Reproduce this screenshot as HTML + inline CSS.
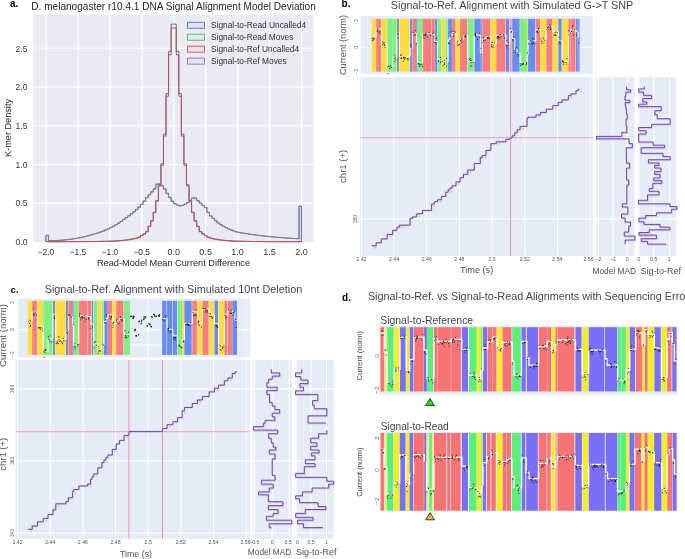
<!DOCTYPE html>
<html><head><meta charset="utf-8"><style>
html,body{margin:0;padding:0;background:#fff;}
body{width:685px;height:559px;overflow:hidden;}
svg{display:block;filter:blur(0.3px);font-family:"Liberation Sans", sans-serif;}
</style></head><body>
<svg width="685" height="559" viewBox="0 0 685 559">
<rect x="33.3" y="14.6" width="280.3" height="227.2" fill="#EAEAF2"/>
<line x1="45.9" y1="14.6" x2="45.9" y2="241.8" stroke="#FFFFFF" stroke-width="1.1"/>
<line x1="77.85" y1="14.6" x2="77.85" y2="241.8" stroke="#FFFFFF" stroke-width="1.1"/>
<line x1="109.8" y1="14.6" x2="109.8" y2="241.8" stroke="#FFFFFF" stroke-width="1.1"/>
<line x1="141.75" y1="14.6" x2="141.75" y2="241.8" stroke="#FFFFFF" stroke-width="1.1"/>
<line x1="173.7" y1="14.6" x2="173.7" y2="241.8" stroke="#FFFFFF" stroke-width="1.1"/>
<line x1="205.65" y1="14.6" x2="205.65" y2="241.8" stroke="#FFFFFF" stroke-width="1.1"/>
<line x1="237.6" y1="14.6" x2="237.6" y2="241.8" stroke="#FFFFFF" stroke-width="1.1"/>
<line x1="269.55" y1="14.6" x2="269.55" y2="241.8" stroke="#FFFFFF" stroke-width="1.1"/>
<line x1="301.5" y1="14.6" x2="301.5" y2="241.8" stroke="#FFFFFF" stroke-width="1.1"/>
<line x1="33.3" y1="203.1" x2="313.6" y2="203.1" stroke="#FFFFFF" stroke-width="1.1"/>
<line x1="33.3" y1="164.4" x2="313.6" y2="164.4" stroke="#FFFFFF" stroke-width="1.1"/>
<line x1="33.3" y1="125.7" x2="313.6" y2="125.7" stroke="#FFFFFF" stroke-width="1.1"/>
<line x1="33.3" y1="87" x2="313.6" y2="87" stroke="#FFFFFF" stroke-width="1.1"/>
<line x1="33.3" y1="48.3" x2="313.6" y2="48.3" stroke="#FFFFFF" stroke-width="1.1"/>
<rect x="298.94" y="206.2" width="2.56" height="35.6" fill="#D4D2EE"/>
<polyline fill="none" points="45.9,241.8 45.9,235.22 48.46,235.22 48.46,240.74 51.01,240.74 51.01,240.64 53.57,240.64 53.57,240.54 56.12,240.54 56.12,240.43 58.68,240.43 58.68,240.31 61.24,240.31 61.24,240.11 63.79,240.11 63.79,239.88 66.35,239.88 66.35,239.61 68.9,239.61 68.9,239.31 71.46,239.31 71.46,238.96 74.02,238.96 74.02,238.57 76.57,238.57 76.57,238.13 79.13,238.13 79.13,237.64 81.68,237.64 81.68,237.09 84.24,237.09 84.24,236.48 86.8,236.48 86.8,235.77 89.35,235.77 89.35,235.06 91.91,235.06 91.91,234.34 94.46,234.34 94.46,233.56 97.02,233.56 97.02,232.75 99.58,232.75 99.58,231.87 102.13,231.87 102.13,230.9 104.69,230.9 104.69,229.84 107.24,229.84 107.24,228.67 109.8,228.67 109.8,227.42 112.36,227.42 112.36,226.08 114.91,226.08 114.91,224.62 117.47,224.62 117.47,223.02 120.02,223.02 120.02,221.28 122.58,221.28 122.58,219.37 125.14,219.37 125.14,217.49 127.69,217.49 127.69,215.68 130.25,215.68 130.25,213.73 132.8,213.73 132.8,211.64 135.36,211.64 135.36,209.4 137.92,209.4 137.92,206.99 140.47,206.99 140.47,204.28 143.03,204.28 143.03,200.98 145.58,200.98 145.58,197.4 148.14,197.4 148.14,194.45 150.7,194.45 150.7,191.63 153.25,191.63 153.25,188.63 155.81,188.63 155.81,183.81 158.36,183.81 158.36,183.72 160.92,183.72 160.92,185.45 163.48,185.45 163.48,188.68 166.03,188.68 166.03,193.14 168.59,193.14 168.59,197.22 171.14,197.22 171.14,200.96 173.7,200.96 173.7,203.51 176.26,203.51 176.26,204.86 178.81,204.86 178.81,205.61 181.37,205.61 181.37,205.17 183.92,205.17 183.92,204.13 186.48,204.13 186.48,202.48 189.04,202.48 189.04,200.37 191.59,200.37 191.59,197.8 194.15,197.8 194.15,197.83 196.7,197.83 196.7,200.45 199.26,200.45 199.26,202.91 201.82,202.91 201.82,205.23 204.37,205.23 204.37,207.4 206.93,207.4 206.93,212.27 209.48,212.27 209.48,215.81 212.04,215.81 212.04,218.35 214.6,218.35 214.6,220.68 217.15,220.68 217.15,222.83 219.71,222.83 219.71,224.66 222.26,224.66 222.26,226.22 224.82,226.22 224.82,227.62 227.38,227.62 227.38,228.87 229.93,228.87 229.93,229.94 232.49,229.94 232.49,230.86 235.04,230.86 235.04,231.71 237.6,231.71 237.6,232.34 240.16,232.34 240.16,232.8 242.71,232.8 242.71,233.23 245.27,233.23 245.27,233.64 247.82,233.64 247.82,234.03 250.38,234.03 250.38,234.41 252.94,234.41 252.94,234.76 255.49,234.76 255.49,235.1 258.05,235.1 258.05,235.42 260.6,235.42 260.6,235.73 263.16,235.73 263.16,236.02 265.72,236.02 265.72,236.3 268.27,236.3 268.27,236.56 270.83,236.56 270.83,236.8 273.38,236.8 273.38,237.03 275.94,237.03 275.94,237.25 278.5,237.25 278.5,237.46 281.05,237.46 281.05,237.66 283.61,237.66 283.61,237.85 286.16,237.85 286.16,238.03 288.72,238.03 288.72,238.2 291.28,238.2 291.28,238.37 293.83,238.37 293.83,238.52 296.39,238.52 296.39,238.67 298.94,238.67 298.94,206.2 301.5,206.2 301.5,241.8" stroke="#55A868" stroke-width="1"/>
<polyline fill="none" points="45.9,241.8 45.9,235.61 48.46,235.61 48.46,240.75 51.01,240.75 51.01,240.66 53.57,240.66 53.57,240.56 56.12,240.56 56.12,240.45 58.68,240.45 58.68,240.33 61.24,240.33 61.24,240.13 63.79,240.13 63.79,239.9 66.35,239.9 66.35,239.63 68.9,239.63 68.9,239.33 71.46,239.33 71.46,238.99 74.02,238.99 74.02,238.6 76.57,238.6 76.57,238.16 79.13,238.16 79.13,237.68 81.68,237.68 81.68,237.14 84.24,237.14 84.24,236.53 86.8,236.53 86.8,235.83 89.35,235.83 89.35,235.12 91.91,235.12 91.91,234.41 94.46,234.41 94.46,233.64 97.02,233.64 97.02,232.84 99.58,232.84 99.58,231.97 102.13,231.97 102.13,231.01 104.69,231.01 104.69,229.95 107.24,229.95 107.24,228.8 109.8,228.8 109.8,227.56 112.36,227.56 112.36,226.23 114.91,226.23 114.91,224.79 117.47,224.79 117.47,223.21 120.02,223.21 120.02,221.48 122.58,221.48 122.58,219.59 125.14,219.59 125.14,217.73 127.69,217.73 127.69,215.94 130.25,215.94 130.25,214.01 132.8,214.01 132.8,211.94 135.36,211.94 135.36,209.72 137.92,209.72 137.92,207.33 140.47,207.33 140.47,204.65 143.03,204.65 143.03,201.39 145.58,201.39 145.58,197.84 148.14,197.84 148.14,194.92 150.7,194.92 150.7,192.12 153.25,192.12 153.25,189.16 155.81,189.16 155.81,184.38 158.36,184.38 158.36,184.3 160.92,184.3 160.92,186.01 163.48,186.01 163.48,189.2 166.03,189.2 166.03,193.62 168.59,193.62 168.59,197.66 171.14,197.66 171.14,201.37 173.7,201.37 173.7,203.89 176.26,203.89 176.26,205.22 178.81,205.22 178.81,205.96 181.37,205.96 181.37,205.53 183.92,205.53 183.92,204.5 186.48,204.5 186.48,202.87 189.04,202.87 189.04,200.78 191.59,200.78 191.59,198.24 194.15,198.24 194.15,198.27 196.7,198.27 196.7,200.86 199.26,200.86 199.26,203.3 201.82,203.3 201.82,205.59 204.37,205.59 204.37,207.74 206.93,207.74 206.93,212.56 209.48,212.56 209.48,216.07 212.04,216.07 212.04,218.58 214.6,218.58 214.6,220.89 217.15,220.89 217.15,223.02 219.71,223.02 219.71,224.83 222.26,224.83 222.26,226.37 224.82,226.37 224.82,227.76 227.38,227.76 227.38,228.99 229.93,228.99 229.93,230.05 232.49,230.05 232.49,230.97 235.04,230.97 235.04,231.81 237.6,231.81 237.6,232.44 240.16,232.44 240.16,232.89 242.71,232.89 242.71,233.31 245.27,233.31 245.27,233.72 247.82,233.72 247.82,234.11 250.38,234.11 250.38,234.48 252.94,234.48 252.94,234.83 255.49,234.83 255.49,235.17 258.05,235.17 258.05,235.49 260.6,235.49 260.6,235.79 263.16,235.79 263.16,236.08 265.72,236.08 265.72,236.35 268.27,236.35 268.27,236.61 270.83,236.61 270.83,236.85 273.38,236.85 273.38,237.08 275.94,237.08 275.94,237.29 278.5,237.29 278.5,237.5 281.05,237.5 281.05,237.7 283.61,237.7 283.61,237.89 286.16,237.89 286.16,238.07 288.72,238.07 288.72,238.24 291.28,238.24 291.28,238.4 293.83,238.4 293.83,238.56 296.39,238.56 296.39,238.7 298.94,238.7 298.94,206.2 301.5,206.2 301.5,241.8" stroke="#8172B2" stroke-width="1"/>
<polyline fill="none" points="45.9,241.8 45.9,241.57 48.46,241.57 48.46,241.72 51.01,241.72 51.01,241.71 53.57,241.71 53.57,241.71 56.12,241.71 56.12,241.7 58.68,241.7 58.68,241.69 61.24,241.69 61.24,241.69 63.79,241.69 63.79,241.68 66.35,241.68 66.35,241.68 68.9,241.68 68.9,241.67 71.46,241.67 71.46,241.66 74.02,241.66 74.02,241.65 76.57,241.65 76.57,241.64 79.13,241.64 79.13,241.63 81.68,241.63 81.68,241.61 84.24,241.61 84.24,241.59 86.8,241.59 86.8,241.57 89.35,241.57 89.35,241.54 91.91,241.54 91.91,241.52 94.46,241.52 94.46,241.49 97.02,241.49 97.02,241.45 99.58,241.45 99.58,241.42 102.13,241.42 102.13,241.37 104.69,241.37 104.69,241.33 107.24,241.33 107.24,241.28 109.8,241.28 109.8,241.2 112.36,241.2 112.36,241.08 114.91,241.08 114.91,240.94 117.47,240.94 117.47,240.77 120.02,240.77 120.02,240.57 122.58,240.57 122.58,240.32 125.14,240.32 125.14,240.02 127.69,240.02 127.69,239.66 130.25,239.66 130.25,239.23 132.8,239.23 132.8,238.7 135.36,238.7 135.36,238.07 137.92,238.07 137.92,237.18 140.47,237.18 140.47,235.56 143.03,235.56 143.03,233.84 145.58,233.84 145.58,231.66 148.14,231.66 148.14,226.2 150.7,226.2 150.7,220.73 153.25,220.73 153.25,212.15 155.81,212.15 155.81,200.45 158.36,200.45 158.36,184.85 160.92,184.85 160.92,163.78 163.48,163.78 163.48,134.13 166.03,134.13 166.03,93.56 168.59,93.56 168.59,51.43 171.14,51.43 171.14,24.13 173.7,24.13 173.7,24.13 176.26,24.13 176.26,51.43 178.81,51.43 178.81,93.56 181.37,93.56 181.37,134.13 183.92,134.13 183.92,163.78 186.48,163.78 186.48,184.85 189.04,184.85 189.04,200.45 191.59,200.45 191.59,212.15 194.15,212.15 194.15,220.73 196.7,220.73 196.7,226.2 199.26,226.2 199.26,231.66 201.82,231.66 201.82,233.84 204.37,233.84 204.37,235.56 206.93,235.56 206.93,237.18 209.48,237.18 209.48,238.07 212.04,238.07 212.04,238.7 214.6,238.7 214.6,239.23 217.15,239.23 217.15,239.66 219.71,239.66 219.71,240.02 222.26,240.02 222.26,240.32 224.82,240.32 224.82,240.57 227.38,240.57 227.38,240.77 229.93,240.77 229.93,240.94 232.49,240.94 232.49,241.08 235.04,241.08 235.04,241.2 237.6,241.2 237.6,241.28 240.16,241.28 240.16,241.33 242.71,241.33 242.71,241.37 245.27,241.37 245.27,241.42 247.82,241.42 247.82,241.45 250.38,241.45 250.38,241.49 252.94,241.49 252.94,241.52 255.49,241.52 255.49,241.54 258.05,241.54 258.05,241.57 260.6,241.57 260.6,241.59 263.16,241.59 263.16,241.61 265.72,241.61 265.72,241.63 268.27,241.63 268.27,241.64 270.83,241.64 270.83,241.65 273.38,241.65 273.38,241.66 275.94,241.66 275.94,241.67 278.5,241.67 278.5,241.68 281.05,241.68 281.05,241.68 283.61,241.68 283.61,241.69 286.16,241.69 286.16,241.69 288.72,241.69 288.72,241.7 291.28,241.7 291.28,241.71 293.83,241.71 293.83,241.71 296.39,241.71 296.39,241.72 298.94,241.72 298.94,241.57 301.5,241.57 301.5,241.8" stroke="#4C72B0" stroke-width="1"/>
<polyline fill="none" points="45.9,241.8 45.9,241.65 48.46,241.65 48.46,241.72 51.01,241.72 51.01,241.71 53.57,241.71 53.57,241.71 56.12,241.71 56.12,241.7 58.68,241.7 58.68,241.7 61.24,241.7 61.24,241.69 63.79,241.69 63.79,241.68 66.35,241.68 66.35,241.68 68.9,241.68 68.9,241.67 71.46,241.67 71.46,241.66 74.02,241.66 74.02,241.66 76.57,241.66 76.57,241.65 79.13,241.65 79.13,241.63 81.68,241.63 81.68,241.61 84.24,241.61 84.24,241.59 86.8,241.59 86.8,241.57 89.35,241.57 89.35,241.55 91.91,241.55 91.91,241.52 94.46,241.52 94.46,241.49 97.02,241.49 97.02,241.46 99.58,241.46 99.58,241.42 102.13,241.42 102.13,241.38 104.69,241.38 104.69,241.34 107.24,241.34 107.24,241.29 109.8,241.29 109.8,241.21 112.36,241.21 112.36,241.1 114.91,241.1 114.91,240.96 117.47,240.96 117.47,240.79 120.02,240.79 120.02,240.59 122.58,240.59 122.58,240.35 125.14,240.35 125.14,240.05 127.69,240.05 127.69,239.7 130.25,239.7 130.25,239.28 132.8,239.28 132.8,238.76 135.36,238.76 135.36,238.14 137.92,238.14 137.92,237.26 140.47,237.26 140.47,235.67 143.03,235.67 143.03,233.99 145.58,233.99 145.58,231.84 148.14,231.84 148.14,226.47 150.7,226.47 150.7,221.11 153.25,221.11 153.25,212.68 155.81,212.68 155.81,201.19 158.36,201.19 158.36,185.86 160.92,185.86 160.92,165.17 163.48,165.17 163.48,136.06 166.03,136.06 166.03,96.21 168.59,96.21 168.59,54.83 171.14,54.83 171.14,28.01 173.7,28.01 173.7,28.01 176.26,28.01 176.26,54.83 178.81,54.83 178.81,96.21 181.37,96.21 181.37,136.06 183.92,136.06 183.92,165.17 186.48,165.17 186.48,185.86 189.04,185.86 189.04,201.19 191.59,201.19 191.59,212.68 194.15,212.68 194.15,221.11 196.7,221.11 196.7,226.47 199.26,226.47 199.26,231.84 201.82,231.84 201.82,233.99 204.37,233.99 204.37,235.67 206.93,235.67 206.93,237.26 209.48,237.26 209.48,238.14 212.04,238.14 212.04,238.76 214.6,238.76 214.6,239.28 217.15,239.28 217.15,239.7 219.71,239.7 219.71,240.05 222.26,240.05 222.26,240.35 224.82,240.35 224.82,240.59 227.38,240.59 227.38,240.79 229.93,240.79 229.93,240.96 232.49,240.96 232.49,241.1 235.04,241.1 235.04,241.21 237.6,241.21 237.6,241.29 240.16,241.29 240.16,241.34 242.71,241.34 242.71,241.38 245.27,241.38 245.27,241.42 247.82,241.42 247.82,241.46 250.38,241.46 250.38,241.49 252.94,241.49 252.94,241.52 255.49,241.52 255.49,241.55 258.05,241.55 258.05,241.57 260.6,241.57 260.6,241.59 263.16,241.59 263.16,241.61 265.72,241.61 265.72,241.63 268.27,241.63 268.27,241.65 270.83,241.65 270.83,241.66 273.38,241.66 273.38,241.66 275.94,241.66 275.94,241.67 278.5,241.67 278.5,241.68 281.05,241.68 281.05,241.68 283.61,241.68 283.61,241.69 286.16,241.69 286.16,241.7 288.72,241.7 288.72,241.7 291.28,241.7 291.28,241.71 293.83,241.71 293.83,241.71 296.39,241.71 296.39,241.72 298.94,241.72 298.94,241.65 301.5,241.65 301.5,241.8" stroke="#C44E52" stroke-width="1"/>
<rect x="187.5" y="22.3" width="17" height="6" fill="#DCE2F2" stroke="#4C72B0" stroke-width="1" stroke-opacity="0.85"/>
<text x="211" y="28.4" font-size="8.6" fill="#2e2e2e" text-anchor="start" font-weight="normal" textLength="95.1" lengthAdjust="spacingAndGlyphs">Signal-to-Read Uncalled4</text>
<rect x="187.5" y="34.25" width="17" height="6" fill="#DDEEE4" stroke="#55A868" stroke-width="1" stroke-opacity="0.85"/>
<text x="211" y="40.35" font-size="8.6" fill="#2e2e2e" text-anchor="start" font-weight="normal" textLength="82.4" lengthAdjust="spacingAndGlyphs">Signal-to-Read Moves</text>
<rect x="187.5" y="46.2" width="17" height="6" fill="#F3DFE3" stroke="#C44E52" stroke-width="1" stroke-opacity="0.85"/>
<text x="211" y="52.3" font-size="8.6" fill="#2e2e2e" text-anchor="start" font-weight="normal" textLength="88.1" lengthAdjust="spacingAndGlyphs">Signal-to-Ref Uncalled4</text>
<rect x="187.5" y="58.15" width="17" height="6" fill="#E4E0F2" stroke="#8172B2" stroke-width="1" stroke-opacity="0.85"/>
<text x="211" y="64.25" font-size="8.6" fill="#2e2e2e" text-anchor="start" font-weight="normal" textLength="75.7" lengthAdjust="spacingAndGlyphs">Signal-to-Ref Moves</text>
<text x="45.9" y="254.5" font-size="9" fill="#333333" text-anchor="middle" font-weight="normal" textLength="16.6" lengthAdjust="spacingAndGlyphs">−2.0</text>
<text x="77.85" y="254.5" font-size="9" fill="#333333" text-anchor="middle" font-weight="normal" textLength="16.6" lengthAdjust="spacingAndGlyphs">−1.5</text>
<text x="109.8" y="254.5" font-size="9" fill="#333333" text-anchor="middle" font-weight="normal" textLength="16.6" lengthAdjust="spacingAndGlyphs">−1.0</text>
<text x="141.75" y="254.5" font-size="9" fill="#333333" text-anchor="middle" font-weight="normal" textLength="16.6" lengthAdjust="spacingAndGlyphs">−0.5</text>
<text x="173.7" y="254.5" font-size="9" fill="#333333" text-anchor="middle" font-weight="normal" textLength="12.6" lengthAdjust="spacingAndGlyphs">0.0</text>
<text x="205.65" y="254.5" font-size="9" fill="#333333" text-anchor="middle" font-weight="normal" textLength="12.6" lengthAdjust="spacingAndGlyphs">0.5</text>
<text x="237.6" y="254.5" font-size="9" fill="#333333" text-anchor="middle" font-weight="normal" textLength="12.6" lengthAdjust="spacingAndGlyphs">1.0</text>
<text x="269.55" y="254.5" font-size="9" fill="#333333" text-anchor="middle" font-weight="normal" textLength="12.6" lengthAdjust="spacingAndGlyphs">1.5</text>
<text x="301.5" y="254.5" font-size="9" fill="#333333" text-anchor="middle" font-weight="normal" textLength="12.6" lengthAdjust="spacingAndGlyphs">2.0</text>
<text x="27.4" y="245" font-size="9" fill="#333333" text-anchor="end" font-weight="normal" textLength="11.8" lengthAdjust="spacingAndGlyphs">0.0</text>
<text x="27.4" y="206.3" font-size="9" fill="#333333" text-anchor="end" font-weight="normal" textLength="11.8" lengthAdjust="spacingAndGlyphs">0.5</text>
<text x="27.4" y="167.6" font-size="9" fill="#333333" text-anchor="end" font-weight="normal" textLength="11.8" lengthAdjust="spacingAndGlyphs">1.0</text>
<text x="27.4" y="128.9" font-size="9" fill="#333333" text-anchor="end" font-weight="normal" textLength="11.8" lengthAdjust="spacingAndGlyphs">1.5</text>
<text x="27.4" y="90.2" font-size="9" fill="#333333" text-anchor="end" font-weight="normal" textLength="11.8" lengthAdjust="spacingAndGlyphs">2.0</text>
<text x="27.4" y="51.5" font-size="9" fill="#333333" text-anchor="end" font-weight="normal" textLength="11.8" lengthAdjust="spacingAndGlyphs">2.5</text>
<text x="173.5" y="266.2" font-size="9.2" fill="#262626" text-anchor="middle" font-weight="normal">Read-Model Mean Current Difference</text>
<text x="10.6" y="128" font-size="9.4" fill="#262626" text-anchor="middle" font-weight="normal" transform="rotate(-90 10.6 128)" textLength="58" lengthAdjust="spacingAndGlyphs">K-mer Density</text>
<text x="10" y="7.2" font-size="10" fill="#000000" text-anchor="start" font-weight="bold">a.</text>
<text x="31.3" y="9.5" font-size="10.1" fill="#262626" text-anchor="start" font-weight="normal" textLength="284.5" lengthAdjust="spacingAndGlyphs">D. melanogaster r10.4.1 DNA Signal Alignment Model Deviation</text>
<text x="341.6" y="7.4" font-size="10" fill="#000000" text-anchor="start" font-weight="bold">b.</text>
<text x="390.8" y="8.5" font-size="10.6" fill="#3d4656" text-anchor="start" font-weight="normal" textLength="242.5" lengthAdjust="spacingAndGlyphs">Signal-to-Ref. Alignment with Simulated G-&gt;T SNP</text>
<rect x="360.8" y="16.1" width="231.8" height="57.9" fill="#E5ECF6"/>
<line x1="360.8" y1="47.4" x2="592.6" y2="47.4" stroke="#FFFFFF" stroke-width="1"/>
<rect x="371.8" y="18.8" width="4.4" height="52.8" fill="#FFDD40"/>
<rect x="376.2" y="18.8" width="4.7" height="52.8" fill="#F87E7E"/>
<rect x="381.3" y="18.8" width="5.5" height="52.8" fill="#FFDD40"/>
<rect x="387.2" y="18.8" width="5.5" height="52.8" fill="#7FEF82"/>
<rect x="392.7" y="18.8" width="3.6" height="52.8" fill="#7FEF82"/>
<rect x="396.9" y="18.8" width="2.1" height="52.8" fill="#8A90A4"/>
<rect x="399.5" y="18.8" width="10.1" height="52.8" fill="#FFDD40"/>
<rect x="410.1" y="18.8" width="2.1" height="52.8" fill="#6A8CF0"/>
<rect x="412.5" y="18.8" width="3.9" height="52.8" fill="#F87E7E"/>
<rect x="416.4" y="18.8" width="1.1" height="52.8" fill="#6A8CF0"/>
<rect x="417.5" y="18.8" width="5.1" height="52.8" fill="#7FEF82"/>
<rect x="422.6" y="18.8" width="8.6" height="52.8" fill="#F87E7E"/>
<rect x="431.6" y="18.8" width="3.2" height="52.8" fill="#F87E7E"/>
<rect x="435.1" y="18.8" width="2" height="52.8" fill="#6A8CF0"/>
<rect x="437.5" y="18.8" width="3.8" height="52.8" fill="#7FEF82"/>
<rect x="441.6" y="18.8" width="3.8" height="52.8" fill="#FFDD40"/>
<rect x="445.7" y="18.8" width="2" height="52.8" fill="#7FEF82"/>
<rect x="448.1" y="18.8" width="3.8" height="52.8" fill="#6A8CF0"/>
<rect x="452.1" y="18.8" width="3.3" height="52.8" fill="#F87E7E"/>
<rect x="456" y="18.8" width="3.9" height="52.8" fill="#FFDD40"/>
<rect x="460.1" y="18.8" width="7.1" height="52.8" fill="#F87E7E"/>
<rect x="467.8" y="18.8" width="5.9" height="52.8" fill="#7FEF82"/>
<rect x="474.3" y="18.8" width="6" height="52.8" fill="#6A8CF0"/>
<rect x="480.3" y="18.8" width="1.5" height="52.8" fill="#6A8CF0"/>
<rect x="482.3" y="18.8" width="8" height="52.8" fill="#F87E7E"/>
<rect x="490.9" y="18.8" width="5.1" height="52.8" fill="#FFDD40"/>
<rect x="496.3" y="18.8" width="9.2" height="52.8" fill="#F87E7E"/>
<rect x="506" y="18.8" width="3.2" height="52.8" fill="#6A8CF0"/>
<rect x="509.8" y="18.8" width="2" height="52.8" fill="#F0A0B0"/>
<rect x="512.2" y="18.8" width="7.4" height="52.8" fill="#6A8CF0"/>
<rect x="520.1" y="18.8" width="6.9" height="52.8" fill="#7FEF82"/>
<rect x="527" y="18.8" width="0.9" height="52.8" fill="#FFDD40"/>
<rect x="528.1" y="18.8" width="7.2" height="52.8" fill="#6A8CF0"/>
<rect x="535.9" y="18.8" width="4.1" height="52.8" fill="#F87E7E"/>
<rect x="540.4" y="18.8" width="5.5" height="52.8" fill="#FFDD40"/>
<rect x="546.3" y="18.8" width="6.1" height="52.8" fill="#F87E7E"/>
<rect x="552.8" y="18.8" width="4.9" height="52.8" fill="#FFDD40"/>
<rect x="558.3" y="18.8" width="3.3" height="52.8" fill="#6A8CF0"/>
<rect x="562.1" y="18.8" width="5.9" height="52.8" fill="#FFDD40"/>
<rect x="568.4" y="18.8" width="2.3" height="52.8" fill="#F87E7E"/>
<rect x="571.1" y="18.8" width="4.4" height="52.8" fill="#F87E7E"/>
<rect x="576" y="18.8" width="1.8" height="52.8" fill="#6A8CF0"/>
<rect x="578.2" y="18.8" width="1.4" height="52.8" fill="#6A8CF0"/>
<polyline fill="none" points="371.8,37.4 376.2,37.4 376.2,29.1 381.3,29.1 381.3,43.3 387.2,43.3 387.2,67.5 392.7,67.5 392.7,57.5 396.9,57.5 396.9,33.3 399.5,33.3 399.5,56.9 410.1,56.9 410.1,48 412.5,48 412.5,33.3 416.4,33.3 416.4,42.1 417.5,42.1 417.5,62.8 422.6,62.8 422.6,33.8 431.6,33.8 431.6,34.4 434.2,34.4 434.2,41.5 435.1,41.5 435.1,41.5 437.5,41.5 437.5,59.2 441.6,59.2 441.6,62.8 445.7,62.8 445.7,62.2 448.1,62.2 448.1,39.7 450,39.7 450,35.6 452.1,35.6 452.1,32.7 456,32.7 456,42.7 460.1,42.7 460.1,39.2 463.5,39.2 463.5,35.6 467.8,35.6 467.8,61.6 474.3,61.6 474.3,35 480.3,35 480.3,53.3 482.3,53.3 482.3,38.6 486,38.6 486,36.8 490.9,36.8 490.9,43.3 496.3,43.3 496.3,35 506,35 506,43.9 509.8,43.9 509.8,30.3 512.2,30.3 512.2,38.6 514.7,38.6 514.7,49.8 517.2,49.8 517.2,53.3 520.1,53.3 520.1,62.8 527,62.8 527,55 528.1,55 528.1,40.9 535.9,40.9 535.9,29.7 540.4,29.7 540.4,39.2 546.3,39.2 546.3,26.2 552.8,26.2 552.8,31.5 558.3,31.5 558.3,40.9 562.1,40.9 562.1,61.6 568.4,61.6 568.4,33.3 571.1,33.3 571.1,29.7 576,29.7 576,32.1 578.2,32.1 578.2,38 579.6,38" stroke="#FFFFFF" stroke-width="1"/>
<circle cx="373.33" cy="40.01" r="0.6" fill="#000" fill-opacity="0.72"/>
<circle cx="372.38" cy="40.64" r="0.6" fill="#000" fill-opacity="0.72"/>
<circle cx="374.14" cy="37.96" r="0.6" fill="#000" fill-opacity="0.72"/>
<circle cx="374.03" cy="38.89" r="0.6" fill="#000" fill-opacity="0.72"/>
<circle cx="372.24" cy="37.74" r="0.6" fill="#000" fill-opacity="0.72"/>
<circle cx="372.44" cy="38.69" r="0.6" fill="#000" fill-opacity="0.72"/>
<circle cx="373.71" cy="38.85" r="0.6" fill="#000" fill-opacity="0.72"/>
<circle cx="377.42" cy="29.23" r="0.6" fill="#000" fill-opacity="0.72"/>
<circle cx="379.07" cy="32.46" r="0.6" fill="#000" fill-opacity="0.72"/>
<circle cx="378.13" cy="29.3" r="0.6" fill="#000" fill-opacity="0.72"/>
<circle cx="380.5" cy="33.7" r="0.6" fill="#000" fill-opacity="0.72"/>
<circle cx="377.69" cy="31.18" r="0.6" fill="#000" fill-opacity="0.72"/>
<circle cx="377.09" cy="31.31" r="0.6" fill="#000" fill-opacity="0.72"/>
<circle cx="379.85" cy="31.2" r="0.6" fill="#000" fill-opacity="0.72"/>
<circle cx="382.49" cy="41.94" r="0.6" fill="#000" fill-opacity="0.72"/>
<circle cx="383.42" cy="42.97" r="0.6" fill="#000" fill-opacity="0.72"/>
<circle cx="384.28" cy="44.91" r="0.6" fill="#000" fill-opacity="0.72"/>
<circle cx="382.61" cy="44.56" r="0.6" fill="#000" fill-opacity="0.72"/>
<circle cx="384.93" cy="42.82" r="0.6" fill="#000" fill-opacity="0.72"/>
<circle cx="384.47" cy="45.03" r="0.6" fill="#000" fill-opacity="0.72"/>
<circle cx="383.82" cy="43.26" r="0.6" fill="#000" fill-opacity="0.72"/>
<circle cx="385.03" cy="47.52" r="0.6" fill="#000" fill-opacity="0.72"/>
<circle cx="388.7" cy="66.43" r="0.6" fill="#000" fill-opacity="0.72"/>
<circle cx="391.79" cy="67.45" r="0.6" fill="#000" fill-opacity="0.72"/>
<circle cx="391.07" cy="67.24" r="0.6" fill="#000" fill-opacity="0.72"/>
<circle cx="388.08" cy="73.67" r="0.6" fill="#000" fill-opacity="0.72"/>
<circle cx="389.55" cy="68.55" r="0.6" fill="#000" fill-opacity="0.72"/>
<circle cx="389.9" cy="67.41" r="0.6" fill="#000" fill-opacity="0.72"/>
<circle cx="387.69" cy="66.91" r="0.6" fill="#000" fill-opacity="0.72"/>
<circle cx="390.31" cy="65.69" r="0.6" fill="#000" fill-opacity="0.72"/>
<circle cx="395.63" cy="57.36" r="0.6" fill="#000" fill-opacity="0.72"/>
<circle cx="394.78" cy="61.2" r="0.6" fill="#000" fill-opacity="0.72"/>
<circle cx="394.74" cy="55" r="0.6" fill="#000" fill-opacity="0.72"/>
<circle cx="395.83" cy="59.49" r="0.6" fill="#000" fill-opacity="0.72"/>
<circle cx="394.42" cy="58.15" r="0.6" fill="#000" fill-opacity="0.72"/>
<circle cx="398.25" cy="33.72" r="0.6" fill="#000" fill-opacity="0.72"/>
<circle cx="398.17" cy="37.83" r="0.6" fill="#000" fill-opacity="0.72"/>
<circle cx="397.63" cy="34.15" r="0.6" fill="#000" fill-opacity="0.72"/>
<circle cx="403.47" cy="57.7" r="0.6" fill="#000" fill-opacity="0.72"/>
<circle cx="404.19" cy="57.55" r="0.6" fill="#000" fill-opacity="0.72"/>
<circle cx="401.4" cy="58.39" r="0.6" fill="#000" fill-opacity="0.72"/>
<circle cx="407.1" cy="58.34" r="0.6" fill="#000" fill-opacity="0.72"/>
<circle cx="401.03" cy="57.93" r="0.6" fill="#000" fill-opacity="0.72"/>
<circle cx="408.08" cy="59.79" r="0.6" fill="#000" fill-opacity="0.72"/>
<circle cx="400.57" cy="55.62" r="0.6" fill="#000" fill-opacity="0.72"/>
<circle cx="408.19" cy="58.65" r="0.6" fill="#000" fill-opacity="0.72"/>
<circle cx="407.58" cy="58.91" r="0.6" fill="#000" fill-opacity="0.72"/>
<circle cx="403.75" cy="56.74" r="0.6" fill="#000" fill-opacity="0.72"/>
<circle cx="403.21" cy="61.47" r="0.6" fill="#000" fill-opacity="0.72"/>
<circle cx="401.23" cy="54.72" r="0.6" fill="#000" fill-opacity="0.72"/>
<circle cx="401.47" cy="58.06" r="0.6" fill="#000" fill-opacity="0.72"/>
<circle cx="404.41" cy="59.28" r="0.6" fill="#000" fill-opacity="0.72"/>
<circle cx="405.4" cy="57.89" r="0.6" fill="#000" fill-opacity="0.72"/>
<circle cx="403.78" cy="58.07" r="0.6" fill="#000" fill-opacity="0.72"/>
<circle cx="410.95" cy="44.7" r="0.6" fill="#000" fill-opacity="0.72"/>
<circle cx="411.44" cy="47.1" r="0.6" fill="#000" fill-opacity="0.72"/>
<circle cx="411.17" cy="46.89" r="0.6" fill="#000" fill-opacity="0.72"/>
<circle cx="412.98" cy="32.38" r="0.6" fill="#000" fill-opacity="0.72"/>
<circle cx="415.77" cy="35.02" r="0.6" fill="#000" fill-opacity="0.72"/>
<circle cx="415.43" cy="30.5" r="0.6" fill="#000" fill-opacity="0.72"/>
<circle cx="414.09" cy="33.58" r="0.6" fill="#000" fill-opacity="0.72"/>
<circle cx="414.89" cy="34.83" r="0.6" fill="#000" fill-opacity="0.72"/>
<circle cx="413.01" cy="35.49" r="0.6" fill="#000" fill-opacity="0.72"/>
<circle cx="416.78" cy="43.63" r="0.6" fill="#000" fill-opacity="0.72"/>
<circle cx="419.33" cy="63.84" r="0.6" fill="#000" fill-opacity="0.72"/>
<circle cx="418.48" cy="63.81" r="0.6" fill="#000" fill-opacity="0.72"/>
<circle cx="418.26" cy="63.52" r="0.6" fill="#000" fill-opacity="0.72"/>
<circle cx="421.73" cy="64.13" r="0.6" fill="#000" fill-opacity="0.72"/>
<circle cx="420.56" cy="64.66" r="0.6" fill="#000" fill-opacity="0.72"/>
<circle cx="419.36" cy="64.96" r="0.6" fill="#000" fill-opacity="0.72"/>
<circle cx="419.44" cy="66.45" r="0.6" fill="#000" fill-opacity="0.72"/>
<circle cx="422.27" cy="66.38" r="0.6" fill="#000" fill-opacity="0.72"/>
<circle cx="426.63" cy="34" r="0.6" fill="#000" fill-opacity="0.72"/>
<circle cx="423.72" cy="34.88" r="0.6" fill="#000" fill-opacity="0.72"/>
<circle cx="425.64" cy="34.47" r="0.6" fill="#000" fill-opacity="0.72"/>
<circle cx="424.19" cy="38.35" r="0.6" fill="#000" fill-opacity="0.72"/>
<circle cx="423.08" cy="37.02" r="0.6" fill="#000" fill-opacity="0.72"/>
<circle cx="424.07" cy="34.09" r="0.6" fill="#000" fill-opacity="0.72"/>
<circle cx="427.25" cy="37.1" r="0.6" fill="#000" fill-opacity="0.72"/>
<circle cx="430.73" cy="35.19" r="0.6" fill="#000" fill-opacity="0.72"/>
<circle cx="429.81" cy="34.31" r="0.6" fill="#000" fill-opacity="0.72"/>
<circle cx="425.83" cy="33.41" r="0.6" fill="#000" fill-opacity="0.72"/>
<circle cx="424.24" cy="35.12" r="0.6" fill="#000" fill-opacity="0.72"/>
<circle cx="429.13" cy="32.48" r="0.6" fill="#000" fill-opacity="0.72"/>
<circle cx="425.54" cy="35.39" r="0.6" fill="#000" fill-opacity="0.72"/>
<circle cx="433.87" cy="38.82" r="0.6" fill="#000" fill-opacity="0.72"/>
<circle cx="433.61" cy="36.61" r="0.6" fill="#000" fill-opacity="0.72"/>
<circle cx="433.38" cy="32.11" r="0.6" fill="#000" fill-opacity="0.72"/>
<circle cx="432.35" cy="33.63" r="0.6" fill="#000" fill-opacity="0.72"/>
<circle cx="434.5" cy="42.3" r="0.6" fill="#000" fill-opacity="0.72"/>
<circle cx="435.44" cy="42.23" r="0.6" fill="#000" fill-opacity="0.72"/>
<circle cx="436.37" cy="43.95" r="0.6" fill="#000" fill-opacity="0.72"/>
<circle cx="436.74" cy="38.28" r="0.6" fill="#000" fill-opacity="0.72"/>
<circle cx="440.96" cy="61.65" r="0.6" fill="#000" fill-opacity="0.72"/>
<circle cx="440.86" cy="59.32" r="0.6" fill="#000" fill-opacity="0.72"/>
<circle cx="438.53" cy="61.21" r="0.6" fill="#000" fill-opacity="0.72"/>
<circle cx="438.43" cy="60.95" r="0.6" fill="#000" fill-opacity="0.72"/>
<circle cx="440.68" cy="62.75" r="0.6" fill="#000" fill-opacity="0.72"/>
<circle cx="440.49" cy="57.46" r="0.6" fill="#000" fill-opacity="0.72"/>
<circle cx="444.46" cy="64.16" r="0.6" fill="#000" fill-opacity="0.72"/>
<circle cx="442.17" cy="61.58" r="0.6" fill="#000" fill-opacity="0.72"/>
<circle cx="444.4" cy="60.27" r="0.6" fill="#000" fill-opacity="0.72"/>
<circle cx="444.3" cy="62.62" r="0.6" fill="#000" fill-opacity="0.72"/>
<circle cx="444.43" cy="63.96" r="0.6" fill="#000" fill-opacity="0.72"/>
<circle cx="442.96" cy="65.39" r="0.6" fill="#000" fill-opacity="0.72"/>
<circle cx="446.55" cy="58.38" r="0.6" fill="#000" fill-opacity="0.72"/>
<circle cx="446.56" cy="66.08" r="0.6" fill="#000" fill-opacity="0.72"/>
<circle cx="446.24" cy="62.2" r="0.6" fill="#000" fill-opacity="0.72"/>
<circle cx="448.57" cy="43.1" r="0.6" fill="#000" fill-opacity="0.72"/>
<circle cx="449.45" cy="44.05" r="0.6" fill="#000" fill-opacity="0.72"/>
<circle cx="448.59" cy="43.16" r="0.6" fill="#000" fill-opacity="0.72"/>
<circle cx="451.15" cy="31.88" r="0.6" fill="#000" fill-opacity="0.72"/>
<circle cx="450.76" cy="35.64" r="0.6" fill="#000" fill-opacity="0.72"/>
<circle cx="450.32" cy="36.3" r="0.6" fill="#000" fill-opacity="0.72"/>
<circle cx="455.02" cy="32.33" r="0.6" fill="#000" fill-opacity="0.72"/>
<circle cx="454.92" cy="31.82" r="0.6" fill="#000" fill-opacity="0.72"/>
<circle cx="453.57" cy="36.16" r="0.6" fill="#000" fill-opacity="0.72"/>
<circle cx="452.97" cy="31.14" r="0.6" fill="#000" fill-opacity="0.72"/>
<circle cx="453.08" cy="33.32" r="0.6" fill="#000" fill-opacity="0.72"/>
<circle cx="458.24" cy="45.06" r="0.6" fill="#000" fill-opacity="0.72"/>
<circle cx="457.16" cy="42.82" r="0.6" fill="#000" fill-opacity="0.72"/>
<circle cx="459.3" cy="44.19" r="0.6" fill="#000" fill-opacity="0.72"/>
<circle cx="457.47" cy="41.27" r="0.6" fill="#000" fill-opacity="0.72"/>
<circle cx="459.28" cy="44.35" r="0.6" fill="#000" fill-opacity="0.72"/>
<circle cx="457.69" cy="45.65" r="0.6" fill="#000" fill-opacity="0.72"/>
<circle cx="461.89" cy="39.09" r="0.6" fill="#000" fill-opacity="0.72"/>
<circle cx="461.87" cy="42.23" r="0.6" fill="#000" fill-opacity="0.72"/>
<circle cx="460.91" cy="40.44" r="0.6" fill="#000" fill-opacity="0.72"/>
<circle cx="460.41" cy="40.56" r="0.6" fill="#000" fill-opacity="0.72"/>
<circle cx="461.73" cy="39.09" r="0.6" fill="#000" fill-opacity="0.72"/>
<circle cx="466.05" cy="35.02" r="0.6" fill="#000" fill-opacity="0.72"/>
<circle cx="465.41" cy="36.01" r="0.6" fill="#000" fill-opacity="0.72"/>
<circle cx="465.52" cy="36.79" r="0.6" fill="#000" fill-opacity="0.72"/>
<circle cx="465.54" cy="35.72" r="0.6" fill="#000" fill-opacity="0.72"/>
<circle cx="464.57" cy="36.05" r="0.6" fill="#000" fill-opacity="0.72"/>
<circle cx="470.79" cy="65.82" r="0.6" fill="#000" fill-opacity="0.72"/>
<circle cx="471.08" cy="62.86" r="0.6" fill="#000" fill-opacity="0.72"/>
<circle cx="470.45" cy="58.41" r="0.6" fill="#000" fill-opacity="0.72"/>
<circle cx="471.35" cy="60.32" r="0.6" fill="#000" fill-opacity="0.72"/>
<circle cx="471.77" cy="62.52" r="0.6" fill="#000" fill-opacity="0.72"/>
<circle cx="470.5" cy="60.48" r="0.6" fill="#000" fill-opacity="0.72"/>
<circle cx="473.09" cy="62.15" r="0.6" fill="#000" fill-opacity="0.72"/>
<circle cx="471.81" cy="65.84" r="0.6" fill="#000" fill-opacity="0.72"/>
<circle cx="469.48" cy="59.42" r="0.6" fill="#000" fill-opacity="0.72"/>
<circle cx="477.62" cy="39.41" r="0.6" fill="#000" fill-opacity="0.72"/>
<circle cx="475.34" cy="34.73" r="0.6" fill="#000" fill-opacity="0.72"/>
<circle cx="475.26" cy="35.31" r="0.6" fill="#000" fill-opacity="0.72"/>
<circle cx="475.9" cy="36.26" r="0.6" fill="#000" fill-opacity="0.72"/>
<circle cx="474.99" cy="34.39" r="0.6" fill="#000" fill-opacity="0.72"/>
<circle cx="479.44" cy="33.09" r="0.6" fill="#000" fill-opacity="0.72"/>
<circle cx="475.43" cy="35.41" r="0.6" fill="#000" fill-opacity="0.72"/>
<circle cx="475.37" cy="33.27" r="0.6" fill="#000" fill-opacity="0.72"/>
<circle cx="479.37" cy="37.31" r="0.6" fill="#000" fill-opacity="0.72"/>
<circle cx="481.46" cy="54.03" r="0.6" fill="#000" fill-opacity="0.72"/>
<circle cx="480.96" cy="48.56" r="0.6" fill="#000" fill-opacity="0.72"/>
<circle cx="485.18" cy="40.06" r="0.6" fill="#000" fill-opacity="0.72"/>
<circle cx="483.1" cy="37.52" r="0.6" fill="#000" fill-opacity="0.72"/>
<circle cx="483.65" cy="40.55" r="0.6" fill="#000" fill-opacity="0.72"/>
<circle cx="483.21" cy="38.33" r="0.6" fill="#000" fill-opacity="0.72"/>
<circle cx="482.66" cy="42.36" r="0.6" fill="#000" fill-opacity="0.72"/>
<circle cx="488.35" cy="37.46" r="0.6" fill="#000" fill-opacity="0.72"/>
<circle cx="487.53" cy="37.93" r="0.6" fill="#000" fill-opacity="0.72"/>
<circle cx="488.61" cy="37.11" r="0.6" fill="#000" fill-opacity="0.72"/>
<circle cx="489.94" cy="37.75" r="0.6" fill="#000" fill-opacity="0.72"/>
<circle cx="489.22" cy="38.68" r="0.6" fill="#000" fill-opacity="0.72"/>
<circle cx="487.28" cy="37.64" r="0.6" fill="#000" fill-opacity="0.72"/>
<circle cx="491.38" cy="44.57" r="0.6" fill="#000" fill-opacity="0.72"/>
<circle cx="491.78" cy="42.82" r="0.6" fill="#000" fill-opacity="0.72"/>
<circle cx="493.1" cy="47.28" r="0.6" fill="#000" fill-opacity="0.72"/>
<circle cx="492.36" cy="42.44" r="0.6" fill="#000" fill-opacity="0.72"/>
<circle cx="491.87" cy="46.46" r="0.6" fill="#000" fill-opacity="0.72"/>
<circle cx="494.35" cy="43.1" r="0.6" fill="#000" fill-opacity="0.72"/>
<circle cx="491.6" cy="47.01" r="0.6" fill="#000" fill-opacity="0.72"/>
<circle cx="493.11" cy="45.33" r="0.6" fill="#000" fill-opacity="0.72"/>
<circle cx="497.22" cy="38.5" r="0.6" fill="#000" fill-opacity="0.72"/>
<circle cx="503.49" cy="34.98" r="0.6" fill="#000" fill-opacity="0.72"/>
<circle cx="497.32" cy="36.44" r="0.6" fill="#000" fill-opacity="0.72"/>
<circle cx="504.02" cy="35.45" r="0.6" fill="#000" fill-opacity="0.72"/>
<circle cx="500.5" cy="34.72" r="0.6" fill="#000" fill-opacity="0.72"/>
<circle cx="504.57" cy="38.04" r="0.6" fill="#000" fill-opacity="0.72"/>
<circle cx="498.9" cy="37.6" r="0.6" fill="#000" fill-opacity="0.72"/>
<circle cx="498.65" cy="37.69" r="0.6" fill="#000" fill-opacity="0.72"/>
<circle cx="497.54" cy="36.32" r="0.6" fill="#000" fill-opacity="0.72"/>
<circle cx="498.34" cy="36.52" r="0.6" fill="#000" fill-opacity="0.72"/>
<circle cx="499.28" cy="34.91" r="0.6" fill="#000" fill-opacity="0.72"/>
<circle cx="499.09" cy="39.02" r="0.6" fill="#000" fill-opacity="0.72"/>
<circle cx="500.9" cy="36.77" r="0.6" fill="#000" fill-opacity="0.72"/>
<circle cx="496.76" cy="37.58" r="0.6" fill="#000" fill-opacity="0.72"/>
<circle cx="506.95" cy="47.97" r="0.6" fill="#000" fill-opacity="0.72"/>
<circle cx="507.73" cy="45.2" r="0.6" fill="#000" fill-opacity="0.72"/>
<circle cx="506.79" cy="40.52" r="0.6" fill="#000" fill-opacity="0.72"/>
<circle cx="506.58" cy="45.6" r="0.6" fill="#000" fill-opacity="0.72"/>
<circle cx="508.43" cy="42.88" r="0.6" fill="#000" fill-opacity="0.72"/>
<circle cx="511.27" cy="32.22" r="0.6" fill="#000" fill-opacity="0.72"/>
<circle cx="510.65" cy="28.4" r="0.6" fill="#000" fill-opacity="0.72"/>
<circle cx="511.48" cy="31.18" r="0.6" fill="#000" fill-opacity="0.72"/>
<circle cx="513.15" cy="41.07" r="0.6" fill="#000" fill-opacity="0.72"/>
<circle cx="513.71" cy="37.01" r="0.6" fill="#000" fill-opacity="0.72"/>
<circle cx="513.27" cy="39.23" r="0.6" fill="#000" fill-opacity="0.72"/>
<circle cx="512.75" cy="40.12" r="0.6" fill="#000" fill-opacity="0.72"/>
<circle cx="515.13" cy="50.72" r="0.6" fill="#000" fill-opacity="0.72"/>
<circle cx="515.31" cy="49.34" r="0.6" fill="#000" fill-opacity="0.72"/>
<circle cx="515.16" cy="52.88" r="0.6" fill="#000" fill-opacity="0.72"/>
<circle cx="516.27" cy="47.57" r="0.6" fill="#000" fill-opacity="0.72"/>
<circle cx="518.01" cy="54.38" r="0.6" fill="#000" fill-opacity="0.72"/>
<circle cx="518.33" cy="55.88" r="0.6" fill="#000" fill-opacity="0.72"/>
<circle cx="517.78" cy="52.9" r="0.6" fill="#000" fill-opacity="0.72"/>
<circle cx="526.46" cy="64.3" r="0.6" fill="#000" fill-opacity="0.72"/>
<circle cx="526.53" cy="62.44" r="0.6" fill="#000" fill-opacity="0.72"/>
<circle cx="526.48" cy="63.39" r="0.6" fill="#000" fill-opacity="0.72"/>
<circle cx="522.35" cy="63.75" r="0.6" fill="#000" fill-opacity="0.72"/>
<circle cx="522.8" cy="63.87" r="0.6" fill="#000" fill-opacity="0.72"/>
<circle cx="523.39" cy="62.53" r="0.6" fill="#000" fill-opacity="0.72"/>
<circle cx="523.58" cy="63.78" r="0.6" fill="#000" fill-opacity="0.72"/>
<circle cx="520.43" cy="63.73" r="0.6" fill="#000" fill-opacity="0.72"/>
<circle cx="522.92" cy="64.62" r="0.6" fill="#000" fill-opacity="0.72"/>
<circle cx="520.66" cy="65.4" r="0.6" fill="#000" fill-opacity="0.72"/>
<circle cx="521.87" cy="64.03" r="0.6" fill="#000" fill-opacity="0.72"/>
<circle cx="527.48" cy="52.89" r="0.6" fill="#000" fill-opacity="0.72"/>
<circle cx="532.74" cy="41.32" r="0.6" fill="#000" fill-opacity="0.72"/>
<circle cx="533.13" cy="43.27" r="0.6" fill="#000" fill-opacity="0.72"/>
<circle cx="530.55" cy="40.6" r="0.6" fill="#000" fill-opacity="0.72"/>
<circle cx="534.9" cy="43.7" r="0.6" fill="#000" fill-opacity="0.72"/>
<circle cx="532.65" cy="44.36" r="0.6" fill="#000" fill-opacity="0.72"/>
<circle cx="528.69" cy="43.95" r="0.6" fill="#000" fill-opacity="0.72"/>
<circle cx="532.54" cy="38.45" r="0.6" fill="#000" fill-opacity="0.72"/>
<circle cx="533.24" cy="42.3" r="0.6" fill="#000" fill-opacity="0.72"/>
<circle cx="531.86" cy="40.94" r="0.6" fill="#000" fill-opacity="0.72"/>
<circle cx="531.73" cy="43.65" r="0.6" fill="#000" fill-opacity="0.72"/>
<circle cx="533.85" cy="38.94" r="0.6" fill="#000" fill-opacity="0.72"/>
<circle cx="538.24" cy="32.95" r="0.6" fill="#000" fill-opacity="0.72"/>
<circle cx="538.63" cy="28.9" r="0.6" fill="#000" fill-opacity="0.72"/>
<circle cx="537" cy="31.7" r="0.6" fill="#000" fill-opacity="0.72"/>
<circle cx="537.46" cy="30.9" r="0.6" fill="#000" fill-opacity="0.72"/>
<circle cx="536.57" cy="31.95" r="0.6" fill="#000" fill-opacity="0.72"/>
<circle cx="538.4" cy="28.62" r="0.6" fill="#000" fill-opacity="0.72"/>
<circle cx="543.77" cy="39.27" r="0.6" fill="#000" fill-opacity="0.72"/>
<circle cx="540.72" cy="38.2" r="0.6" fill="#000" fill-opacity="0.72"/>
<circle cx="544.61" cy="40.18" r="0.6" fill="#000" fill-opacity="0.72"/>
<circle cx="543.32" cy="37.95" r="0.6" fill="#000" fill-opacity="0.72"/>
<circle cx="543.93" cy="43.04" r="0.6" fill="#000" fill-opacity="0.72"/>
<circle cx="541.94" cy="41.45" r="0.6" fill="#000" fill-opacity="0.72"/>
<circle cx="541.06" cy="39.9" r="0.6" fill="#000" fill-opacity="0.72"/>
<circle cx="541.71" cy="43.26" r="0.6" fill="#000" fill-opacity="0.72"/>
<circle cx="550.67" cy="29.39" r="0.6" fill="#000" fill-opacity="0.72"/>
<circle cx="548.7" cy="26.86" r="0.6" fill="#000" fill-opacity="0.72"/>
<circle cx="549.23" cy="25.89" r="0.6" fill="#000" fill-opacity="0.72"/>
<circle cx="549.99" cy="24.23" r="0.6" fill="#000" fill-opacity="0.72"/>
<circle cx="550.14" cy="28.15" r="0.6" fill="#000" fill-opacity="0.72"/>
<circle cx="548" cy="27.7" r="0.6" fill="#000" fill-opacity="0.72"/>
<circle cx="550.69" cy="26.37" r="0.6" fill="#000" fill-opacity="0.72"/>
<circle cx="546.67" cy="29.52" r="0.6" fill="#000" fill-opacity="0.72"/>
<circle cx="546.93" cy="26.87" r="0.6" fill="#000" fill-opacity="0.72"/>
<circle cx="556.08" cy="35.32" r="0.6" fill="#000" fill-opacity="0.72"/>
<circle cx="556.01" cy="31.92" r="0.6" fill="#000" fill-opacity="0.72"/>
<circle cx="555.1" cy="34.72" r="0.6" fill="#000" fill-opacity="0.72"/>
<circle cx="555.11" cy="35.46" r="0.6" fill="#000" fill-opacity="0.72"/>
<circle cx="553.96" cy="35.23" r="0.6" fill="#000" fill-opacity="0.72"/>
<circle cx="557.31" cy="32.83" r="0.6" fill="#000" fill-opacity="0.72"/>
<circle cx="555.07" cy="32.36" r="0.6" fill="#000" fill-opacity="0.72"/>
<circle cx="560.81" cy="43.93" r="0.6" fill="#000" fill-opacity="0.72"/>
<circle cx="559.33" cy="41.49" r="0.6" fill="#000" fill-opacity="0.72"/>
<circle cx="559.17" cy="43.13" r="0.6" fill="#000" fill-opacity="0.72"/>
<circle cx="560.17" cy="41.46" r="0.6" fill="#000" fill-opacity="0.72"/>
<circle cx="558.98" cy="37.26" r="0.6" fill="#000" fill-opacity="0.72"/>
<circle cx="563.1" cy="61.89" r="0.6" fill="#000" fill-opacity="0.72"/>
<circle cx="566.75" cy="58.64" r="0.6" fill="#000" fill-opacity="0.72"/>
<circle cx="566.13" cy="62.38" r="0.6" fill="#000" fill-opacity="0.72"/>
<circle cx="563.63" cy="64.36" r="0.6" fill="#000" fill-opacity="0.72"/>
<circle cx="562.53" cy="61.29" r="0.6" fill="#000" fill-opacity="0.72"/>
<circle cx="562.42" cy="60.52" r="0.6" fill="#000" fill-opacity="0.72"/>
<circle cx="564" cy="62.71" r="0.6" fill="#000" fill-opacity="0.72"/>
<circle cx="563.15" cy="61.68" r="0.6" fill="#000" fill-opacity="0.72"/>
<circle cx="566.85" cy="63.98" r="0.6" fill="#000" fill-opacity="0.72"/>
<circle cx="568.7" cy="34.32" r="0.6" fill="#000" fill-opacity="0.72"/>
<circle cx="568.9" cy="30.67" r="0.6" fill="#000" fill-opacity="0.72"/>
<circle cx="570.27" cy="33.36" r="0.6" fill="#000" fill-opacity="0.72"/>
<circle cx="572.5" cy="26.72" r="0.6" fill="#000" fill-opacity="0.72"/>
<circle cx="572.81" cy="25.25" r="0.6" fill="#000" fill-opacity="0.72"/>
<circle cx="573.64" cy="35.04" r="0.6" fill="#000" fill-opacity="0.72"/>
<circle cx="572.77" cy="29.33" r="0.6" fill="#000" fill-opacity="0.72"/>
<circle cx="571.58" cy="31.37" r="0.6" fill="#000" fill-opacity="0.72"/>
<circle cx="571.79" cy="31.49" r="0.6" fill="#000" fill-opacity="0.72"/>
<circle cx="574.96" cy="29.36" r="0.6" fill="#000" fill-opacity="0.72"/>
<circle cx="576.6" cy="32.88" r="0.6" fill="#000" fill-opacity="0.72"/>
<circle cx="576.53" cy="35.36" r="0.6" fill="#000" fill-opacity="0.72"/>
<circle cx="578.8" cy="42.8" r="0.6" fill="#000" fill-opacity="0.72"/>
<circle cx="579.15" cy="37.93" r="0.6" fill="#000" fill-opacity="0.72"/>
<text x="358.3" y="20.5" font-size="4.8" fill="#555f70" text-anchor="middle" font-weight="normal" transform="rotate(-90 358.3 20.5)">2</text>
<text x="358.3" y="47.4" font-size="4.8" fill="#555f70" text-anchor="middle" font-weight="normal" transform="rotate(-90 358.3 47.4)">0</text>
<text x="358.3" y="71.5" font-size="4.8" fill="#555f70" text-anchor="middle" font-weight="normal" transform="rotate(-90 358.3 71.5)">−2</text>
<text x="346" y="45" font-size="8.2" fill="#4a5060" text-anchor="middle" font-weight="normal" transform="rotate(-90 346 45)" textLength="60" lengthAdjust="spacingAndGlyphs">Current (norm)</text>
<rect x="360" y="77.2" width="232.8" height="178.7" fill="#E5ECF6"/>
<line x1="361.4" y1="77.2" x2="361.4" y2="255.9" stroke="#FFFFFF" stroke-width="1"/>
<line x1="394.07" y1="77.2" x2="394.07" y2="255.9" stroke="#FFFFFF" stroke-width="1"/>
<line x1="426.74" y1="77.2" x2="426.74" y2="255.9" stroke="#FFFFFF" stroke-width="1"/>
<line x1="459.41" y1="77.2" x2="459.41" y2="255.9" stroke="#FFFFFF" stroke-width="1"/>
<line x1="492.08" y1="77.2" x2="492.08" y2="255.9" stroke="#FFFFFF" stroke-width="1"/>
<line x1="524.75" y1="77.2" x2="524.75" y2="255.9" stroke="#FFFFFF" stroke-width="1"/>
<line x1="557.42" y1="77.2" x2="557.42" y2="255.9" stroke="#FFFFFF" stroke-width="1"/>
<line x1="590.09" y1="77.2" x2="590.09" y2="255.9" stroke="#FFFFFF" stroke-width="1"/>
<line x1="360" y1="219" x2="592.8" y2="219" stroke="#FFFFFF" stroke-width="1"/>
<line x1="510.6" y1="77.2" x2="510.6" y2="255.9" stroke="#EC959C" stroke-width="1"/>
<line x1="360" y1="137.7" x2="592.8" y2="137.7" stroke="#EFAEB5" stroke-width="1.3"/>
<circle cx="374.8" cy="247.8" r="0.85" fill="#D2BE55" opacity="0.85"/>
<circle cx="390.2" cy="236.48" r="0.85" fill="#D2BE55" opacity="0.85"/>
<circle cx="402.5" cy="227.2" r="0.85" fill="#D2BE55" opacity="0.85"/>
<circle cx="419.4" cy="216.41" r="0.85" fill="#D2BE55" opacity="0.85"/>
<circle cx="434.6" cy="206.03" r="0.85" fill="#D2BE55" opacity="0.85"/>
<circle cx="440.5" cy="201.79" r="0.85" fill="#D2BE55" opacity="0.85"/>
<circle cx="451.1" cy="191.86" r="0.85" fill="#D2BE55" opacity="0.85"/>
<circle cx="459" cy="183.92" r="0.85" fill="#D2BE55" opacity="0.85"/>
<circle cx="470.8" cy="172.04" r="0.85" fill="#D2BE55" opacity="0.85"/>
<circle cx="485.3" cy="157.59" r="0.85" fill="#D2BE55" opacity="0.85"/>
<circle cx="499.3" cy="143.81" r="0.85" fill="#D2BE55" opacity="0.85"/>
<circle cx="515.2" cy="137.79" r="0.85" fill="#D2BE55" opacity="0.85"/>
<circle cx="523.1" cy="128.36" r="0.85" fill="#D2BE55" opacity="0.85"/>
<circle cx="538.9" cy="116.94" r="0.85" fill="#D2BE55" opacity="0.85"/>
<circle cx="555.8" cy="107.61" r="0.85" fill="#D2BE55" opacity="0.85"/>
<circle cx="571.4" cy="97.7" r="0.85" fill="#D2BE55" opacity="0.85"/>
<circle cx="581.2" cy="91.2" r="0.85" fill="#D2BE55" opacity="0.85"/>
<polyline fill="none" points="371.8,245.8 376.2,245.8 376.2,242.78 381.3,242.78 381.3,238.93 387.2,238.93 387.2,234.48 392.7,234.48 392.7,230.33 396.9,230.33 396.9,227.16 399.5,227.16 399.5,225.2 410.1,225.2 410.1,218.43 412.5,218.43 412.5,216.9 416.4,216.9 416.4,214.41 417.5,214.41 417.5,213.71 422.6,213.71 422.6,210.46 431.6,210.46 431.6,204.03 434.2,204.03 434.2,202.16 435.1,202.16 435.1,201.52 437.5,201.52 437.5,199.79 441.6,199.79 441.6,196.39 445.7,196.39 445.7,192.27 448.1,192.27 448.1,189.86 450,189.86 450,187.95 452.1,187.95 452.1,185.84 456,185.84 456,181.92 460.1,181.92 460.1,177.8 463.5,177.8 463.5,174.37 467.8,174.37 467.8,170.04 474.3,170.04 474.3,163.53 480.3,163.53 480.3,157.66 482.3,157.66 482.3,155.59 486,155.59 486,150.47 490.9,150.47 490.9,143.69 496.3,143.69 496.3,141.81 506,141.81 506,139.38 509.8,139.38 509.8,137.99 512.2,137.99 512.2,135.79 514.7,135.79 514.7,132.8 517.2,132.8 517.2,129.82 520.1,129.82 520.1,126.36 527,126.36 527,118.12 528.1,118.12 528.1,117.25 535.9,117.25 535.9,114.94 540.4,114.94 540.4,112.46 546.3,112.46 546.3,109.2 552.8,109.2 552.8,105.61 558.3,105.61 558.3,102.4 562.1,102.4 562.1,99.88 568.4,99.88 568.4,95.7 571.1,95.7 571.1,93.91 576,93.91 576,90.66 578.2,90.66 578.2,89.2 579.6,89.2" stroke="#E4CDF0" stroke-width="2"/>
<polyline fill="none" points="371.8,245.8 376.2,245.8 376.2,242.78 381.3,242.78 381.3,238.93 387.2,238.93 387.2,234.48 392.7,234.48 392.7,230.33 396.9,230.33 396.9,227.16 399.5,227.16 399.5,225.2 410.1,225.2 410.1,218.43 412.5,218.43 412.5,216.9 416.4,216.9 416.4,214.41 417.5,214.41 417.5,213.71 422.6,213.71 422.6,210.46 431.6,210.46 431.6,204.03 434.2,204.03 434.2,202.16 435.1,202.16 435.1,201.52 437.5,201.52 437.5,199.79 441.6,199.79 441.6,196.39 445.7,196.39 445.7,192.27 448.1,192.27 448.1,189.86 450,189.86 450,187.95 452.1,187.95 452.1,185.84 456,185.84 456,181.92 460.1,181.92 460.1,177.8 463.5,177.8 463.5,174.37 467.8,174.37 467.8,170.04 474.3,170.04 474.3,163.53 480.3,163.53 480.3,157.66 482.3,157.66 482.3,155.59 486,155.59 486,150.47 490.9,150.47 490.9,143.69 496.3,143.69 496.3,141.81 506,141.81 506,139.38 509.8,139.38 509.8,137.99 512.2,137.99 512.2,135.79 514.7,135.79 514.7,132.8 517.2,132.8 517.2,129.82 520.1,129.82 520.1,126.36 527,126.36 527,118.12 528.1,118.12 528.1,117.25 535.9,117.25 535.9,114.94 540.4,114.94 540.4,112.46 546.3,112.46 546.3,109.2 552.8,109.2 552.8,105.61 558.3,105.61 558.3,102.4 562.1,102.4 562.1,99.88 568.4,99.88 568.4,95.7 571.1,95.7 571.1,93.91 576,93.91 576,90.66 578.2,90.66 578.2,89.2 579.6,89.2" stroke="#5E3F94" stroke-width="0.9"/>
<text x="361.4" y="260.6" font-size="5.2" fill="#4a5568" text-anchor="middle" font-weight="normal">2.42</text>
<text x="394.07" y="260.6" font-size="5.2" fill="#4a5568" text-anchor="middle" font-weight="normal">2.44</text>
<text x="426.74" y="260.6" font-size="5.2" fill="#4a5568" text-anchor="middle" font-weight="normal">2.46</text>
<text x="459.41" y="260.6" font-size="5.2" fill="#4a5568" text-anchor="middle" font-weight="normal">2.48</text>
<text x="492.08" y="260.6" font-size="5.2" fill="#4a5568" text-anchor="middle" font-weight="normal">2.5</text>
<text x="524.75" y="260.6" font-size="5.2" fill="#4a5568" text-anchor="middle" font-weight="normal">2.52</text>
<text x="557.42" y="260.6" font-size="5.2" fill="#4a5568" text-anchor="middle" font-weight="normal">2.54</text>
<text x="588.5" y="260.6" font-size="5.2" fill="#4a5568" text-anchor="middle" font-weight="normal">2.56</text>
<text x="356.9" y="219" font-size="4.8" fill="#555f70" text-anchor="middle" font-weight="normal" transform="rotate(-90 356.9 219)">350</text>
<text x="476.6" y="272.9" font-size="9.4" fill="#4a5060" text-anchor="middle" font-weight="normal" textLength="33.3" lengthAdjust="spacingAndGlyphs">Time (s)</text>
<text x="346.3" y="166.4" font-size="8.4" fill="#4a5060" text-anchor="middle" font-weight="normal" transform="rotate(-90 346.3 166.4)" textLength="33" lengthAdjust="spacingAndGlyphs">chr1 (+)</text>
<rect x="596.3" y="77.2" width="38.4" height="178.7" fill="#E5ECF6"/>
<line x1="598.4" y1="77.2" x2="598.4" y2="255.9" stroke="#FFFFFF" stroke-width="1"/>
<line x1="613" y1="77.2" x2="613" y2="255.9" stroke="#FFFFFF" stroke-width="1"/>
<line x1="627.2" y1="77.2" x2="627.2" y2="255.9" stroke="#FFFFFF" stroke-width="1"/>
<line x1="596.3" y1="219" x2="634.7" y2="219" stroke="#FFFFFF" stroke-width="1"/>
<rect x="637.9" y="77.2" width="38.6" height="178.7" fill="#E5ECF6"/>
<line x1="638.9" y1="77.2" x2="638.9" y2="255.9" stroke="#FFFFFF" stroke-width="1"/>
<line x1="653.7" y1="77.2" x2="653.7" y2="255.9" stroke="#FFFFFF" stroke-width="1"/>
<line x1="669.3" y1="77.2" x2="669.3" y2="255.9" stroke="#FFFFFF" stroke-width="1"/>
<line x1="637.9" y1="219" x2="676.5" y2="219" stroke="#FFFFFF" stroke-width="1"/>
<polyline fill="none" points="627,87.4 627,90.6 631,90.6 631,93 626.2,93 626.2,97 625.4,97 625.4,101.1 630.2,101.1 630.2,103.5 625.4,103.5 625.4,105.9 626.2,105.9 626.2,109.1 626.7,109.1 626.7,114.9 627.6,114.9 627.6,119.9 626.4,119.9 626.4,126.9 627.2,126.9 627.2,133.3 622.2,133.3 622.2,137.3 596.9,137.3 596.9,139.7 629.4,139.7 629.4,144.5 632.7,144.5 632.7,148.6 626.7,148.6 626.7,160.9 626.9,160.9 626.9,163.9 630,163.9 630,168.9 626.9,168.9 626.9,180.9 629.1,180.9 629.1,185.9 627.2,185.9 627.2,204.7 622.8,204.7 622.8,207.9 628.2,207.9 628.2,214.9 621.9,214.9 621.9,218.9 625.5,218.9 625.5,222.9 630.9,222.9 630.9,226.9 629.1,226.9 629.1,232.9 624.6,232.9 624.6,236.9 635.3,236.9 635.3,240.9 625.5,240.9 625.5,245" stroke="#DAC2F0" stroke-width="1.3" stroke-linejoin="miter"/>
<polyline fill="none" points="626.6,86.5 626.6,89.7 630.6,89.7 630.6,92.1 625.8,92.1 625.8,96.1 625,96.1 625,100.2 629.8,100.2 629.8,102.6 625,102.6 625,105 625.8,105 625.8,108.2 626.3,108.2 626.3,114 627.2,114 627.2,119 626,119 626,126 626.8,126 626.8,132.4 621.8,132.4 621.8,136.4 596.5,136.4 596.5,138.8 629,138.8 629,143.6 632.3,143.6 632.3,147.7 626.3,147.7 626.3,160 626.5,160 626.5,163 629.6,163 629.6,168 626.5,168 626.5,180 628.7,180 628.7,185 626.8,185 626.8,203.8 622.4,203.8 622.4,207 627.8,207 627.8,214 621.5,214 621.5,218 625.1,218 625.1,222 630.5,222 630.5,226 628.7,226 628.7,232 624.2,232 624.2,236 634.9,236 634.9,240 625.1,240 625.1,244.1" stroke="#5E3F94" stroke-width="0.9" stroke-linejoin="miter"/>
<polyline fill="none" points="644.7,87.4 644.7,89.8 639.1,89.8 639.1,93 643.9,93 643.9,96.2 652,96.2 652,99.4 643.1,99.4 643.1,102.7 647.2,102.7 647.2,105.1 639.1,105.1 639.1,107.5 661.6,107.5 661.6,111.5 655.2,111.5 655.2,115.5 657.6,115.5 657.6,119.6 670.5,119.6 670.5,125.2 652,125.2 652,128.4 639.1,128.4 639.1,131.6 646.4,131.6 646.4,134.9 639.1,134.9 639.1,142.9 653.6,142.9 653.6,146.1 664.9,146.1 664.9,148.6 641.5,148.6 641.5,154.2 663.3,154.2 663.3,157.4 670.5,157.4 670.5,160.6 648.8,160.6 648.8,163.9 659.4,163.9 659.4,166.3 655,166.3 655,168.9 661.3,168.9 661.3,172.5 655,172.5 655,175.2 660.4,175.2 660.4,178.8 654.1,178.8 654.1,181.5 662.2,181.5 662.2,184.2 653.2,184.2 653.2,189.5 649.6,189.5 649.6,192.2 659.4,192.2 659.4,195.8 647.9,195.8 647.9,201.2 638.9,201.2 638.9,204.7 670.2,204.7 670.2,207.4 677.4,207.4 677.4,210.1 672,210.1 672,213.7 656.8,213.7 656.8,216.4 646.1,216.4 646.1,219 639.3,219 639.3,222.6 644.3,222.6 644.3,225.3 660.4,225.3 660.4,228 670.2,228 670.2,230.7 649.6,230.7 649.6,233.4 639.3,233.4 639.3,236 656.8,236 656.8,239.6 641.6,239.6 641.6,242.3 647.9,242.3 647.9,245 666.6,245 666.6,245.1" stroke="#DAC2F0" stroke-width="1.3" stroke-linejoin="miter"/>
<polyline fill="none" points="644.3,86.5 644.3,88.9 638.7,88.9 638.7,92.1 643.5,92.1 643.5,95.3 651.6,95.3 651.6,98.5 642.7,98.5 642.7,101.8 646.8,101.8 646.8,104.2 638.7,104.2 638.7,106.6 661.2,106.6 661.2,110.6 654.8,110.6 654.8,114.6 657.2,114.6 657.2,118.7 670.1,118.7 670.1,124.3 651.6,124.3 651.6,127.5 638.7,127.5 638.7,130.7 646,130.7 646,134 638.7,134 638.7,142 653.2,142 653.2,145.2 664.5,145.2 664.5,147.7 641.1,147.7 641.1,153.3 662.9,153.3 662.9,156.5 670.1,156.5 670.1,159.7 648.4,159.7 648.4,163 659,163 659,165.4 654.6,165.4 654.6,168 660.9,168 660.9,171.6 654.6,171.6 654.6,174.3 660,174.3 660,177.9 653.7,177.9 653.7,180.6 661.8,180.6 661.8,183.3 652.8,183.3 652.8,188.6 649.2,188.6 649.2,191.3 659,191.3 659,194.9 647.5,194.9 647.5,200.3 638.5,200.3 638.5,203.8 669.8,203.8 669.8,206.5 677,206.5 677,209.2 671.6,209.2 671.6,212.8 656.4,212.8 656.4,215.5 645.7,215.5 645.7,218.1 638.9,218.1 638.9,221.7 643.9,221.7 643.9,224.4 660,224.4 660,227.1 669.8,227.1 669.8,229.8 649.2,229.8 649.2,232.5 638.9,232.5 638.9,235.1 656.4,235.1 656.4,238.7 641.2,238.7 641.2,241.4 647.5,241.4 647.5,244.1 666.2,244.1 666.2,244.2" stroke="#5E3F94" stroke-width="0.9" stroke-linejoin="miter"/>
<text x="598.4" y="260.6" font-size="5.2" fill="#4a5568" text-anchor="middle" font-weight="normal">−2</text>
<text x="613" y="260.6" font-size="5.2" fill="#4a5568" text-anchor="middle" font-weight="normal">−1</text>
<text x="627.2" y="260.6" font-size="5.2" fill="#4a5568" text-anchor="middle" font-weight="normal">0</text>
<text x="638.9" y="260.6" font-size="5.2" fill="#4a5568" text-anchor="middle" font-weight="normal">0</text>
<text x="653.7" y="260.6" font-size="5.2" fill="#4a5568" text-anchor="middle" font-weight="normal">0.5</text>
<text x="669.3" y="260.6" font-size="5.2" fill="#4a5568" text-anchor="middle" font-weight="normal">1</text>
<text x="592.5" y="274" font-size="9.4" fill="#4a5060" text-anchor="start" font-weight="normal" textLength="43.6" lengthAdjust="spacingAndGlyphs">Model MAD</text>
<text x="640.5" y="274" font-size="9.4" fill="#4a5060" text-anchor="start" font-weight="normal" textLength="40.4" lengthAdjust="spacingAndGlyphs">Sig-to-Ref</text>
<text x="10.6" y="292.5" font-size="9.6" fill="#000000" text-anchor="start" font-weight="bold">c.</text>
<text x="44.7" y="293" font-size="10.3" fill="#3d4656" text-anchor="start" font-weight="normal" textLength="257.6" lengthAdjust="spacingAndGlyphs">Signal-to-Ref. Alignment with Simulated 10nt Deletion</text>
<rect x="17.9" y="298.6" width="232" height="58.8" fill="#E5ECF6"/>
<line x1="17.9" y1="329.9" x2="249.9" y2="329.9" stroke="#FFFFFF" stroke-width="1"/>
<line x1="129.9" y1="345" x2="162.1" y2="345" stroke="#FFFFFF" stroke-width="1"/>
<line x1="147.9" y1="298.6" x2="147.9" y2="357.4" stroke="#FFFFFF" stroke-width="1"/>
<line x1="245.2" y1="298.6" x2="245.2" y2="357.4" stroke="#FFFFFF" stroke-width="0.8"/>
<rect x="27.9" y="300.8" width="3.9" height="54.1" fill="#FFDD40"/>
<rect x="32.2" y="300.8" width="4.7" height="54.1" fill="#F87E7E"/>
<rect x="37.5" y="300.8" width="5.4" height="54.1" fill="#FFDD40"/>
<rect x="43.3" y="300.8" width="4.7" height="54.1" fill="#7FEF82"/>
<rect x="48" y="300.8" width="4.2" height="54.1" fill="#7FEF82"/>
<rect x="52.9" y="300.8" width="2.2" height="54.1" fill="#8A90A4"/>
<rect x="55.8" y="300.8" width="10" height="54.1" fill="#FFDD40"/>
<rect x="66" y="300.8" width="2.1" height="54.1" fill="#6A8CF0"/>
<rect x="68.4" y="300.8" width="4.2" height="54.1" fill="#F87E7E"/>
<rect x="72.6" y="300.8" width="1.1" height="54.1" fill="#6A8CF0"/>
<rect x="73.7" y="300.8" width="4.9" height="54.1" fill="#7FEF82"/>
<rect x="78.8" y="300.8" width="8.5" height="54.1" fill="#F87E7E"/>
<rect x="87.7" y="300.8" width="3.7" height="54.1" fill="#F87E7E"/>
<rect x="92" y="300.8" width="1.1" height="54.1" fill="#6A8CF0"/>
<rect x="93.7" y="300.8" width="3.7" height="54.1" fill="#7FEF82"/>
<rect x="97.8" y="300.8" width="3.8" height="54.1" fill="#FFDD40"/>
<rect x="101.9" y="300.8" width="1.7" height="54.1" fill="#7FEF82"/>
<rect x="104" y="300.8" width="3.7" height="54.1" fill="#6A8CF0"/>
<rect x="107.9" y="300.8" width="4.2" height="54.1" fill="#F87E7E"/>
<rect x="112.3" y="300.8" width="3.5" height="54.1" fill="#FFDD40"/>
<rect x="116.2" y="300.8" width="7.2" height="54.1" fill="#F87E7E"/>
<rect x="124.1" y="300.8" width="5.8" height="54.1" fill="#7FEF82"/>
<polyline fill="none" points="27.9,321.5 32.2,321.5 32.2,312.2 37.5,312.2 37.5,325.8 43.3,325.8 43.3,351.5 48,351.5 48,338.7 52.9,338.7 52.9,314.3 55.8,314.3 55.8,340 66,340 66,331 68.4,331 68.4,315.3 72.6,315.3 72.6,325.8 73.7,325.8 73.7,345 78.8,345 78.8,315.9 87.7,315.9 87.7,316.5 90.5,316.5 90.5,324 92,324 92,324 93.7,324 93.7,343.8 97.8,343.8 97.8,348.5 101.9,348.5 101.9,345 104,345 104,321.7 106,321.7 106,318.3 107.9,318.3 107.9,314.8 112.3,314.8 112.3,324 116.2,324 116.2,321.2 119.5,321.2 119.5,318.3 124.1,318.3 124.1,334.5 129.9,334.5" stroke="#FFFFFF" stroke-width="1"/>
<circle cx="30.28" cy="326.36" r="0.6" fill="#000" fill-opacity="0.72"/>
<circle cx="30.01" cy="320.16" r="0.6" fill="#000" fill-opacity="0.72"/>
<circle cx="30.57" cy="325.44" r="0.6" fill="#000" fill-opacity="0.72"/>
<circle cx="29.69" cy="323.44" r="0.6" fill="#000" fill-opacity="0.72"/>
<circle cx="30.68" cy="321.54" r="0.6" fill="#000" fill-opacity="0.72"/>
<circle cx="28.36" cy="321.27" r="0.6" fill="#000" fill-opacity="0.72"/>
<circle cx="36.3" cy="314.7" r="0.6" fill="#000" fill-opacity="0.72"/>
<circle cx="33.91" cy="314.74" r="0.6" fill="#000" fill-opacity="0.72"/>
<circle cx="33.72" cy="312.84" r="0.6" fill="#000" fill-opacity="0.72"/>
<circle cx="33.57" cy="308.01" r="0.6" fill="#000" fill-opacity="0.72"/>
<circle cx="35.19" cy="312.44" r="0.6" fill="#000" fill-opacity="0.72"/>
<circle cx="34.12" cy="315.5" r="0.6" fill="#000" fill-opacity="0.72"/>
<circle cx="33.19" cy="313.88" r="0.6" fill="#000" fill-opacity="0.72"/>
<circle cx="42.15" cy="327.9" r="0.6" fill="#000" fill-opacity="0.72"/>
<circle cx="40.19" cy="327.57" r="0.6" fill="#000" fill-opacity="0.72"/>
<circle cx="42.58" cy="330.86" r="0.6" fill="#000" fill-opacity="0.72"/>
<circle cx="39.96" cy="327.59" r="0.6" fill="#000" fill-opacity="0.72"/>
<circle cx="38.24" cy="327.76" r="0.6" fill="#000" fill-opacity="0.72"/>
<circle cx="39.44" cy="327.98" r="0.6" fill="#000" fill-opacity="0.72"/>
<circle cx="39.04" cy="327.56" r="0.6" fill="#000" fill-opacity="0.72"/>
<circle cx="40.53" cy="329.2" r="0.6" fill="#000" fill-opacity="0.72"/>
<circle cx="45.29" cy="350.44" r="0.6" fill="#000" fill-opacity="0.72"/>
<circle cx="45.3" cy="350.67" r="0.6" fill="#000" fill-opacity="0.72"/>
<circle cx="44.99" cy="352.22" r="0.6" fill="#000" fill-opacity="0.72"/>
<circle cx="43.85" cy="351.64" r="0.6" fill="#000" fill-opacity="0.72"/>
<circle cx="44.12" cy="357.4" r="0.6" fill="#000" fill-opacity="0.72"/>
<circle cx="45.66" cy="349.9" r="0.6" fill="#000" fill-opacity="0.72"/>
<circle cx="44.49" cy="349.75" r="0.6" fill="#000" fill-opacity="0.72"/>
<circle cx="49.28" cy="339.72" r="0.6" fill="#000" fill-opacity="0.72"/>
<circle cx="49.91" cy="341.62" r="0.6" fill="#000" fill-opacity="0.72"/>
<circle cx="51.73" cy="341.94" r="0.6" fill="#000" fill-opacity="0.72"/>
<circle cx="48.38" cy="336.56" r="0.6" fill="#000" fill-opacity="0.72"/>
<circle cx="48.42" cy="338.68" r="0.6" fill="#000" fill-opacity="0.72"/>
<circle cx="50" cy="335.79" r="0.6" fill="#000" fill-opacity="0.72"/>
<circle cx="54.14" cy="317.19" r="0.6" fill="#000" fill-opacity="0.72"/>
<circle cx="54.68" cy="315.3" r="0.6" fill="#000" fill-opacity="0.72"/>
<circle cx="54.52" cy="318.43" r="0.6" fill="#000" fill-opacity="0.72"/>
<circle cx="58.44" cy="336.99" r="0.6" fill="#000" fill-opacity="0.72"/>
<circle cx="57.13" cy="342.31" r="0.6" fill="#000" fill-opacity="0.72"/>
<circle cx="62.51" cy="342.91" r="0.6" fill="#000" fill-opacity="0.72"/>
<circle cx="64.95" cy="340.52" r="0.6" fill="#000" fill-opacity="0.72"/>
<circle cx="63.29" cy="338.3" r="0.6" fill="#000" fill-opacity="0.72"/>
<circle cx="60.4" cy="340.49" r="0.6" fill="#000" fill-opacity="0.72"/>
<circle cx="63.45" cy="340.83" r="0.6" fill="#000" fill-opacity="0.72"/>
<circle cx="58.29" cy="343.4" r="0.6" fill="#000" fill-opacity="0.72"/>
<circle cx="58.96" cy="339.68" r="0.6" fill="#000" fill-opacity="0.72"/>
<circle cx="57.3" cy="340.97" r="0.6" fill="#000" fill-opacity="0.72"/>
<circle cx="62.67" cy="343.7" r="0.6" fill="#000" fill-opacity="0.72"/>
<circle cx="57.15" cy="343.09" r="0.6" fill="#000" fill-opacity="0.72"/>
<circle cx="61.58" cy="341.99" r="0.6" fill="#000" fill-opacity="0.72"/>
<circle cx="59.75" cy="341.43" r="0.6" fill="#000" fill-opacity="0.72"/>
<circle cx="56.2" cy="343.54" r="0.6" fill="#000" fill-opacity="0.72"/>
<circle cx="58.93" cy="336.34" r="0.6" fill="#000" fill-opacity="0.72"/>
<circle cx="67.27" cy="333.17" r="0.6" fill="#000" fill-opacity="0.72"/>
<circle cx="67.63" cy="330.63" r="0.6" fill="#000" fill-opacity="0.72"/>
<circle cx="66.67" cy="332.21" r="0.6" fill="#000" fill-opacity="0.72"/>
<circle cx="72.16" cy="315.84" r="0.6" fill="#000" fill-opacity="0.72"/>
<circle cx="68.78" cy="314.74" r="0.6" fill="#000" fill-opacity="0.72"/>
<circle cx="70.49" cy="315.39" r="0.6" fill="#000" fill-opacity="0.72"/>
<circle cx="69.63" cy="314.54" r="0.6" fill="#000" fill-opacity="0.72"/>
<circle cx="71.1" cy="317.51" r="0.6" fill="#000" fill-opacity="0.72"/>
<circle cx="68.82" cy="315.68" r="0.6" fill="#000" fill-opacity="0.72"/>
<circle cx="73.07" cy="324.27" r="0.6" fill="#000" fill-opacity="0.72"/>
<circle cx="74.85" cy="347.38" r="0.6" fill="#000" fill-opacity="0.72"/>
<circle cx="77.43" cy="345.85" r="0.6" fill="#000" fill-opacity="0.72"/>
<circle cx="74.88" cy="343.75" r="0.6" fill="#000" fill-opacity="0.72"/>
<circle cx="78.17" cy="344.67" r="0.6" fill="#000" fill-opacity="0.72"/>
<circle cx="74.99" cy="349.26" r="0.6" fill="#000" fill-opacity="0.72"/>
<circle cx="74.95" cy="346.1" r="0.6" fill="#000" fill-opacity="0.72"/>
<circle cx="78.09" cy="344.42" r="0.6" fill="#000" fill-opacity="0.72"/>
<circle cx="83.02" cy="317.42" r="0.6" fill="#000" fill-opacity="0.72"/>
<circle cx="82.39" cy="318.15" r="0.6" fill="#000" fill-opacity="0.72"/>
<circle cx="84.36" cy="317.91" r="0.6" fill="#000" fill-opacity="0.72"/>
<circle cx="82.21" cy="316.56" r="0.6" fill="#000" fill-opacity="0.72"/>
<circle cx="80.78" cy="317.94" r="0.6" fill="#000" fill-opacity="0.72"/>
<circle cx="79.51" cy="316.73" r="0.6" fill="#000" fill-opacity="0.72"/>
<circle cx="79.58" cy="313.72" r="0.6" fill="#000" fill-opacity="0.72"/>
<circle cx="86.08" cy="319.42" r="0.6" fill="#000" fill-opacity="0.72"/>
<circle cx="84.89" cy="321.3" r="0.6" fill="#000" fill-opacity="0.72"/>
<circle cx="81.7" cy="316.83" r="0.6" fill="#000" fill-opacity="0.72"/>
<circle cx="80.57" cy="319.79" r="0.6" fill="#000" fill-opacity="0.72"/>
<circle cx="79.35" cy="315.67" r="0.6" fill="#000" fill-opacity="0.72"/>
<circle cx="84.35" cy="315.57" r="0.6" fill="#000" fill-opacity="0.72"/>
<circle cx="88.73" cy="318.77" r="0.6" fill="#000" fill-opacity="0.72"/>
<circle cx="88.37" cy="319.04" r="0.6" fill="#000" fill-opacity="0.72"/>
<circle cx="88.77" cy="317.53" r="0.6" fill="#000" fill-opacity="0.72"/>
<circle cx="90.1" cy="321" r="0.6" fill="#000" fill-opacity="0.72"/>
<circle cx="90.86" cy="328.44" r="0.6" fill="#000" fill-opacity="0.72"/>
<circle cx="92.48" cy="326.53" r="0.6" fill="#000" fill-opacity="0.72"/>
<circle cx="95.34" cy="341.62" r="0.6" fill="#000" fill-opacity="0.72"/>
<circle cx="94.15" cy="342.99" r="0.6" fill="#000" fill-opacity="0.72"/>
<circle cx="96.85" cy="345.1" r="0.6" fill="#000" fill-opacity="0.72"/>
<circle cx="94.6" cy="342.14" r="0.6" fill="#000" fill-opacity="0.72"/>
<circle cx="94.09" cy="347.85" r="0.6" fill="#000" fill-opacity="0.72"/>
<circle cx="99.41" cy="350.73" r="0.6" fill="#000" fill-opacity="0.72"/>
<circle cx="98.23" cy="346.5" r="0.6" fill="#000" fill-opacity="0.72"/>
<circle cx="98.21" cy="353.45" r="0.6" fill="#000" fill-opacity="0.72"/>
<circle cx="98.92" cy="351.14" r="0.6" fill="#000" fill-opacity="0.72"/>
<circle cx="100.49" cy="350.89" r="0.6" fill="#000" fill-opacity="0.72"/>
<circle cx="98.97" cy="348.47" r="0.6" fill="#000" fill-opacity="0.72"/>
<circle cx="103.25" cy="344.9" r="0.6" fill="#000" fill-opacity="0.72"/>
<circle cx="102.99" cy="345.01" r="0.6" fill="#000" fill-opacity="0.72"/>
<circle cx="104.74" cy="322.67" r="0.6" fill="#000" fill-opacity="0.72"/>
<circle cx="105.36" cy="322.86" r="0.6" fill="#000" fill-opacity="0.72"/>
<circle cx="105.58" cy="319.67" r="0.6" fill="#000" fill-opacity="0.72"/>
<circle cx="106.33" cy="315.91" r="0.6" fill="#000" fill-opacity="0.72"/>
<circle cx="106.56" cy="314.6" r="0.6" fill="#000" fill-opacity="0.72"/>
<circle cx="111.63" cy="316.54" r="0.6" fill="#000" fill-opacity="0.72"/>
<circle cx="109.59" cy="315.79" r="0.6" fill="#000" fill-opacity="0.72"/>
<circle cx="109.98" cy="317.81" r="0.6" fill="#000" fill-opacity="0.72"/>
<circle cx="111.54" cy="317.2" r="0.6" fill="#000" fill-opacity="0.72"/>
<circle cx="110.86" cy="318.92" r="0.6" fill="#000" fill-opacity="0.72"/>
<circle cx="111.16" cy="316.17" r="0.6" fill="#000" fill-opacity="0.72"/>
<circle cx="113.55" cy="322.43" r="0.6" fill="#000" fill-opacity="0.72"/>
<circle cx="113.53" cy="322.86" r="0.6" fill="#000" fill-opacity="0.72"/>
<circle cx="112.83" cy="327.53" r="0.6" fill="#000" fill-opacity="0.72"/>
<circle cx="113.17" cy="325.03" r="0.6" fill="#000" fill-opacity="0.72"/>
<circle cx="112.79" cy="323.57" r="0.6" fill="#000" fill-opacity="0.72"/>
<circle cx="116.59" cy="320.6" r="0.6" fill="#000" fill-opacity="0.72"/>
<circle cx="119.15" cy="321.65" r="0.6" fill="#000" fill-opacity="0.72"/>
<circle cx="118.89" cy="323.69" r="0.6" fill="#000" fill-opacity="0.72"/>
<circle cx="116.73" cy="322.09" r="0.6" fill="#000" fill-opacity="0.72"/>
<circle cx="116.76" cy="319.21" r="0.6" fill="#000" fill-opacity="0.72"/>
<circle cx="121.27" cy="319.33" r="0.6" fill="#000" fill-opacity="0.72"/>
<circle cx="120.57" cy="317.01" r="0.6" fill="#000" fill-opacity="0.72"/>
<circle cx="122.02" cy="320.62" r="0.6" fill="#000" fill-opacity="0.72"/>
<circle cx="122.27" cy="320.91" r="0.6" fill="#000" fill-opacity="0.72"/>
<circle cx="120.2" cy="317" r="0.6" fill="#000" fill-opacity="0.72"/>
<circle cx="122.57" cy="318.63" r="0.6" fill="#000" fill-opacity="0.72"/>
<circle cx="126.34" cy="337.87" r="0.6" fill="#000" fill-opacity="0.72"/>
<circle cx="128.24" cy="335.95" r="0.6" fill="#000" fill-opacity="0.72"/>
<circle cx="125.68" cy="336.86" r="0.6" fill="#000" fill-opacity="0.72"/>
<circle cx="125.2" cy="337.36" r="0.6" fill="#000" fill-opacity="0.72"/>
<circle cx="126.1" cy="333.84" r="0.6" fill="#000" fill-opacity="0.72"/>
<circle cx="126.46" cy="337.76" r="0.6" fill="#000" fill-opacity="0.72"/>
<circle cx="125.6" cy="335.39" r="0.6" fill="#000" fill-opacity="0.72"/>
<circle cx="128.6" cy="332.17" r="0.6" fill="#000" fill-opacity="0.72"/>
<circle cx="124.93" cy="330.71" r="0.6" fill="#000" fill-opacity="0.72"/>
<rect x="162.1" y="300.8" width="4.4" height="54.1" fill="#6A8CF0"/>
<rect x="167.1" y="300.8" width="5.2" height="54.1" fill="#6A8CF0"/>
<rect x="172.9" y="300.8" width="4.1" height="54.1" fill="#6A8CF0"/>
<rect x="177.6" y="300.8" width="4.6" height="54.1" fill="#7FEF82"/>
<rect x="182.2" y="300.8" width="1.9" height="54.1" fill="#FFDD40"/>
<rect x="184.4" y="300.8" width="7.3" height="54.1" fill="#6A8CF0"/>
<rect x="192.3" y="300.8" width="4.6" height="54.1" fill="#F87E7E"/>
<rect x="197.5" y="300.8" width="4.7" height="54.1" fill="#FFDD40"/>
<rect x="202.5" y="300.8" width="6.1" height="54.1" fill="#F87E7E"/>
<rect x="209.2" y="300.8" width="4.7" height="54.1" fill="#FFDD40"/>
<rect x="214.5" y="300.8" width="3.5" height="54.1" fill="#6A8CF0"/>
<rect x="218.6" y="300.8" width="5.6" height="54.1" fill="#FFDD40"/>
<rect x="224.4" y="300.8" width="2.9" height="54.1" fill="#F87E7E"/>
<rect x="227.9" y="300.8" width="4.1" height="54.1" fill="#F87E7E"/>
<rect x="232.3" y="300.8" width="4.7" height="54.1" fill="#6A8CF0"/>
<polyline fill="none" points="162.1,318.3 167.1,318.3 167.1,329.3 172.9,329.3 172.9,335.7 177.6,335.7 177.6,345 182.2,345 182.2,340 184.4,340 184.4,323.6 192.3,323.6 192.3,311.9 197.5,311.9 197.5,323 202.5,323 202.5,309 209.2,309 209.2,314.9 214.5,314.9 214.5,323.6 218.6,323.6 218.6,345.2 224.4,345.2 224.4,314.3 227.9,314.3 227.9,311.4 232.3,311.4 232.3,311.4 235,311.4 235,320.7 237,320.7" stroke="#FFFFFF" stroke-width="1"/>
<circle cx="164.2" cy="320.83" r="0.6" fill="#000" fill-opacity="0.72"/>
<circle cx="165.87" cy="316" r="0.6" fill="#000" fill-opacity="0.72"/>
<circle cx="162.55" cy="319.04" r="0.6" fill="#000" fill-opacity="0.72"/>
<circle cx="163.12" cy="320.22" r="0.6" fill="#000" fill-opacity="0.72"/>
<circle cx="166.1" cy="315.5" r="0.6" fill="#000" fill-opacity="0.72"/>
<circle cx="163.81" cy="317.11" r="0.6" fill="#000" fill-opacity="0.72"/>
<circle cx="165.69" cy="317.9" r="0.6" fill="#000" fill-opacity="0.72"/>
<circle cx="170.98" cy="330.76" r="0.6" fill="#000" fill-opacity="0.72"/>
<circle cx="171.75" cy="332.31" r="0.6" fill="#000" fill-opacity="0.72"/>
<circle cx="170.25" cy="331.88" r="0.6" fill="#000" fill-opacity="0.72"/>
<circle cx="168.4" cy="329.59" r="0.6" fill="#000" fill-opacity="0.72"/>
<circle cx="168.34" cy="331.07" r="0.6" fill="#000" fill-opacity="0.72"/>
<circle cx="168.57" cy="328.06" r="0.6" fill="#000" fill-opacity="0.72"/>
<circle cx="168.34" cy="328.69" r="0.6" fill="#000" fill-opacity="0.72"/>
<circle cx="167.45" cy="328.96" r="0.6" fill="#000" fill-opacity="0.72"/>
<circle cx="173.85" cy="339.23" r="0.6" fill="#000" fill-opacity="0.72"/>
<circle cx="174.29" cy="337.68" r="0.6" fill="#000" fill-opacity="0.72"/>
<circle cx="175.12" cy="339.94" r="0.6" fill="#000" fill-opacity="0.72"/>
<circle cx="173.42" cy="338.23" r="0.6" fill="#000" fill-opacity="0.72"/>
<circle cx="175.13" cy="337.83" r="0.6" fill="#000" fill-opacity="0.72"/>
<circle cx="175.44" cy="337.65" r="0.6" fill="#000" fill-opacity="0.72"/>
<circle cx="180.68" cy="346.62" r="0.6" fill="#000" fill-opacity="0.72"/>
<circle cx="179.54" cy="345.66" r="0.6" fill="#000" fill-opacity="0.72"/>
<circle cx="181.71" cy="347.59" r="0.6" fill="#000" fill-opacity="0.72"/>
<circle cx="179.15" cy="344.37" r="0.6" fill="#000" fill-opacity="0.72"/>
<circle cx="179.57" cy="345.27" r="0.6" fill="#000" fill-opacity="0.72"/>
<circle cx="181.36" cy="347.81" r="0.6" fill="#000" fill-opacity="0.72"/>
<circle cx="178.69" cy="345.96" r="0.6" fill="#000" fill-opacity="0.72"/>
<circle cx="183.45" cy="341.06" r="0.6" fill="#000" fill-opacity="0.72"/>
<circle cx="183.67" cy="341.2" r="0.6" fill="#000" fill-opacity="0.72"/>
<circle cx="183.05" cy="341.83" r="0.6" fill="#000" fill-opacity="0.72"/>
<circle cx="190.62" cy="322.85" r="0.6" fill="#000" fill-opacity="0.72"/>
<circle cx="187.79" cy="324.77" r="0.6" fill="#000" fill-opacity="0.72"/>
<circle cx="188.4" cy="324.88" r="0.6" fill="#000" fill-opacity="0.72"/>
<circle cx="188.99" cy="325.29" r="0.6" fill="#000" fill-opacity="0.72"/>
<circle cx="188.87" cy="324.16" r="0.6" fill="#000" fill-opacity="0.72"/>
<circle cx="187.18" cy="323.53" r="0.6" fill="#000" fill-opacity="0.72"/>
<circle cx="186.6" cy="324.57" r="0.6" fill="#000" fill-opacity="0.72"/>
<circle cx="188.19" cy="325.41" r="0.6" fill="#000" fill-opacity="0.72"/>
<circle cx="187.99" cy="324.19" r="0.6" fill="#000" fill-opacity="0.72"/>
<circle cx="190.09" cy="325.83" r="0.6" fill="#000" fill-opacity="0.72"/>
<circle cx="185.55" cy="324.34" r="0.6" fill="#000" fill-opacity="0.72"/>
<circle cx="196.37" cy="315.06" r="0.6" fill="#000" fill-opacity="0.72"/>
<circle cx="192.81" cy="312.57" r="0.6" fill="#000" fill-opacity="0.72"/>
<circle cx="196.3" cy="309.76" r="0.6" fill="#000" fill-opacity="0.72"/>
<circle cx="195.08" cy="315.56" r="0.6" fill="#000" fill-opacity="0.72"/>
<circle cx="195.9" cy="314.68" r="0.6" fill="#000" fill-opacity="0.72"/>
<circle cx="193.49" cy="315.72" r="0.6" fill="#000" fill-opacity="0.72"/>
<circle cx="194.22" cy="314.93" r="0.6" fill="#000" fill-opacity="0.72"/>
<circle cx="198.55" cy="321.06" r="0.6" fill="#000" fill-opacity="0.72"/>
<circle cx="198.69" cy="322.15" r="0.6" fill="#000" fill-opacity="0.72"/>
<circle cx="199.37" cy="325.35" r="0.6" fill="#000" fill-opacity="0.72"/>
<circle cx="198.3" cy="324.06" r="0.6" fill="#000" fill-opacity="0.72"/>
<circle cx="201.48" cy="327.05" r="0.6" fill="#000" fill-opacity="0.72"/>
<circle cx="197.97" cy="321.04" r="0.6" fill="#000" fill-opacity="0.72"/>
<circle cx="197.96" cy="322.78" r="0.6" fill="#000" fill-opacity="0.72"/>
<circle cx="207.41" cy="311.9" r="0.6" fill="#000" fill-opacity="0.72"/>
<circle cx="205.83" cy="311.73" r="0.6" fill="#000" fill-opacity="0.72"/>
<circle cx="206.25" cy="309.31" r="0.6" fill="#000" fill-opacity="0.72"/>
<circle cx="206" cy="311.86" r="0.6" fill="#000" fill-opacity="0.72"/>
<circle cx="205.14" cy="308.88" r="0.6" fill="#000" fill-opacity="0.72"/>
<circle cx="205.21" cy="308.26" r="0.6" fill="#000" fill-opacity="0.72"/>
<circle cx="202.93" cy="308.38" r="0.6" fill="#000" fill-opacity="0.72"/>
<circle cx="204.09" cy="308.5" r="0.6" fill="#000" fill-opacity="0.72"/>
<circle cx="207" cy="310.39" r="0.6" fill="#000" fill-opacity="0.72"/>
<circle cx="210.24" cy="313.83" r="0.6" fill="#000" fill-opacity="0.72"/>
<circle cx="211.44" cy="316.68" r="0.6" fill="#000" fill-opacity="0.72"/>
<circle cx="211.27" cy="316.52" r="0.6" fill="#000" fill-opacity="0.72"/>
<circle cx="209.88" cy="313.78" r="0.6" fill="#000" fill-opacity="0.72"/>
<circle cx="209.67" cy="316.71" r="0.6" fill="#000" fill-opacity="0.72"/>
<circle cx="212.11" cy="318.59" r="0.6" fill="#000" fill-opacity="0.72"/>
<circle cx="212.69" cy="317.43" r="0.6" fill="#000" fill-opacity="0.72"/>
<circle cx="216.28" cy="326.72" r="0.6" fill="#000" fill-opacity="0.72"/>
<circle cx="215.9" cy="325.35" r="0.6" fill="#000" fill-opacity="0.72"/>
<circle cx="217.56" cy="327.06" r="0.6" fill="#000" fill-opacity="0.72"/>
<circle cx="217.69" cy="327.43" r="0.6" fill="#000" fill-opacity="0.72"/>
<circle cx="216.92" cy="325.1" r="0.6" fill="#000" fill-opacity="0.72"/>
<circle cx="223.81" cy="345.06" r="0.6" fill="#000" fill-opacity="0.72"/>
<circle cx="221.36" cy="350.27" r="0.6" fill="#000" fill-opacity="0.72"/>
<circle cx="219.73" cy="345.06" r="0.6" fill="#000" fill-opacity="0.72"/>
<circle cx="222.84" cy="346.83" r="0.6" fill="#000" fill-opacity="0.72"/>
<circle cx="220.65" cy="345.9" r="0.6" fill="#000" fill-opacity="0.72"/>
<circle cx="222.68" cy="348.39" r="0.6" fill="#000" fill-opacity="0.72"/>
<circle cx="220.27" cy="349.6" r="0.6" fill="#000" fill-opacity="0.72"/>
<circle cx="222.98" cy="347.59" r="0.6" fill="#000" fill-opacity="0.72"/>
<circle cx="226.82" cy="317.06" r="0.6" fill="#000" fill-opacity="0.72"/>
<circle cx="225.18" cy="315.12" r="0.6" fill="#000" fill-opacity="0.72"/>
<circle cx="225.43" cy="317.55" r="0.6" fill="#000" fill-opacity="0.72"/>
<circle cx="224.78" cy="315.77" r="0.6" fill="#000" fill-opacity="0.72"/>
<circle cx="231.48" cy="313.43" r="0.6" fill="#000" fill-opacity="0.72"/>
<circle cx="230.58" cy="313.31" r="0.6" fill="#000" fill-opacity="0.72"/>
<circle cx="230.95" cy="311.69" r="0.6" fill="#000" fill-opacity="0.72"/>
<circle cx="228.6" cy="309.75" r="0.6" fill="#000" fill-opacity="0.72"/>
<circle cx="229.46" cy="311.88" r="0.6" fill="#000" fill-opacity="0.72"/>
<circle cx="231.26" cy="310.05" r="0.6" fill="#000" fill-opacity="0.72"/>
<circle cx="234.45" cy="311.55" r="0.6" fill="#000" fill-opacity="0.72"/>
<circle cx="232.82" cy="315.08" r="0.6" fill="#000" fill-opacity="0.72"/>
<circle cx="233.43" cy="312.28" r="0.6" fill="#000" fill-opacity="0.72"/>
<circle cx="234.28" cy="311.86" r="0.6" fill="#000" fill-opacity="0.72"/>
<circle cx="236.11" cy="327.47" r="0.6" fill="#000" fill-opacity="0.72"/>
<circle cx="235.8" cy="321.89" r="0.6" fill="#000" fill-opacity="0.72"/>
<circle cx="235.55" cy="319.66" r="0.6" fill="#000" fill-opacity="0.72"/>
<circle cx="133.67" cy="316.32" r="0.7" fill="#15152a"/>
<circle cx="134.01" cy="316.81" r="0.7" fill="#15152a"/>
<circle cx="133.21" cy="318.56" r="0.7" fill="#15152a"/>
<circle cx="132.98" cy="317.79" r="0.7" fill="#15152a"/>
<circle cx="131.78" cy="316.2" r="0.7" fill="#15152a"/>
<circle cx="130.55" cy="316.56" r="0.7" fill="#15152a"/>
<circle cx="141.51" cy="321.89" r="0.7" fill="#15152a"/>
<circle cx="141.06" cy="323.69" r="0.7" fill="#15152a"/>
<circle cx="139.38" cy="321.09" r="0.7" fill="#15152a"/>
<circle cx="141.67" cy="320.29" r="0.7" fill="#15152a"/>
<circle cx="138.81" cy="321.58" r="0.7" fill="#15152a"/>
<circle cx="139.27" cy="321.59" r="0.7" fill="#15152a"/>
<circle cx="144.07" cy="318.24" r="0.7" fill="#15152a"/>
<circle cx="145.5" cy="316.91" r="0.7" fill="#15152a"/>
<circle cx="145.63" cy="317.86" r="0.7" fill="#15152a"/>
<circle cx="143.73" cy="319.48" r="0.7" fill="#15152a"/>
<circle cx="144.15" cy="316.72" r="0.7" fill="#15152a"/>
<circle cx="147.53" cy="325.87" r="0.7" fill="#15152a"/>
<circle cx="151.02" cy="326.71" r="0.7" fill="#15152a"/>
<circle cx="148.91" cy="323.66" r="0.7" fill="#15152a"/>
<circle cx="147.15" cy="325.91" r="0.7" fill="#15152a"/>
<circle cx="149.63" cy="324.17" r="0.7" fill="#15152a"/>
<circle cx="150.01" cy="324.72" r="0.7" fill="#15152a"/>
<circle cx="151.32" cy="326.43" r="0.7" fill="#15152a"/>
<circle cx="135.05" cy="330.63" r="0.7" fill="#15152a"/>
<circle cx="134.51" cy="329.96" r="0.7" fill="#15152a"/>
<circle cx="135.46" cy="329.43" r="0.7" fill="#15152a"/>
<circle cx="136.16" cy="336.11" r="0.7" fill="#15152a"/>
<circle cx="136.03" cy="335.61" r="0.7" fill="#15152a"/>
<circle cx="138.63" cy="334.71" r="0.7" fill="#15152a"/>
<circle cx="136.56" cy="335.74" r="0.7" fill="#15152a"/>
<circle cx="156.57" cy="316.16" r="0.7" fill="#15152a"/>
<circle cx="159.57" cy="314.81" r="0.7" fill="#15152a"/>
<circle cx="154.63" cy="315.17" r="0.7" fill="#15152a"/>
<circle cx="152.08" cy="316.88" r="0.7" fill="#15152a"/>
<circle cx="159.27" cy="316.37" r="0.7" fill="#15152a"/>
<circle cx="151.66" cy="316.75" r="0.7" fill="#15152a"/>
<circle cx="158.9" cy="315.65" r="0.7" fill="#15152a"/>
<circle cx="158.87" cy="315.61" r="0.7" fill="#15152a"/>
<circle cx="153.81" cy="314.61" r="0.7" fill="#15152a"/>
<circle cx="153.88" cy="314.41" r="0.7" fill="#15152a"/>
<circle cx="154.89" cy="316.47" r="0.7" fill="#15152a"/>
<text x="14.3" y="302.5" font-size="4.8" fill="#555f70" text-anchor="middle" font-weight="normal" transform="rotate(-90 14.3 302.5)">2</text>
<text x="14.3" y="329.6" font-size="4.8" fill="#555f70" text-anchor="middle" font-weight="normal" transform="rotate(-90 14.3 329.6)">0</text>
<text x="14.3" y="354.1" font-size="4.8" fill="#555f70" text-anchor="middle" font-weight="normal" transform="rotate(-90 14.3 354.1)">−2</text>
<text x="5.9" y="335.5" font-size="8.2" fill="#4a5060" text-anchor="middle" font-weight="normal" transform="rotate(-90 5.9 335.5)" textLength="63" lengthAdjust="spacingAndGlyphs">Current (norm)</text>
<rect x="15.6" y="359.9" width="234.1" height="178.9" fill="#E5ECF6"/>
<line x1="17.6" y1="359.9" x2="17.6" y2="538.8" stroke="#FFFFFF" stroke-width="1"/>
<line x1="50.25" y1="359.9" x2="50.25" y2="538.8" stroke="#FFFFFF" stroke-width="1"/>
<line x1="82.9" y1="359.9" x2="82.9" y2="538.8" stroke="#FFFFFF" stroke-width="1"/>
<line x1="115.55" y1="359.9" x2="115.55" y2="538.8" stroke="#FFFFFF" stroke-width="1"/>
<line x1="148.2" y1="359.9" x2="148.2" y2="538.8" stroke="#FFFFFF" stroke-width="1"/>
<line x1="180.85" y1="359.9" x2="180.85" y2="538.8" stroke="#FFFFFF" stroke-width="1"/>
<line x1="213.5" y1="359.9" x2="213.5" y2="538.8" stroke="#FFFFFF" stroke-width="1"/>
<line x1="246.15" y1="359.9" x2="246.15" y2="538.8" stroke="#FFFFFF" stroke-width="1"/>
<line x1="15.6" y1="388.9" x2="249.7" y2="388.9" stroke="#FFFFFF" stroke-width="1"/>
<line x1="15.6" y1="460.8" x2="249.7" y2="460.8" stroke="#FFFFFF" stroke-width="1"/>
<line x1="15.6" y1="533" x2="249.7" y2="533" stroke="#FFFFFF" stroke-width="1"/>
<line x1="128.9" y1="359.9" x2="128.9" y2="538.8" stroke="#EC959C" stroke-width="1"/>
<line x1="162.5" y1="359.9" x2="162.5" y2="538.8" stroke="#EC959C" stroke-width="1"/>
<line x1="15.6" y1="431.6" x2="249.7" y2="431.6" stroke="#EFAEB5" stroke-width="1.3"/>
<circle cx="30.9" cy="531.3" r="0.85" fill="#D2BE55" opacity="0.85"/>
<circle cx="46.3" cy="520.49" r="0.85" fill="#D2BE55" opacity="0.85"/>
<circle cx="58.8" cy="505.8" r="0.85" fill="#D2BE55" opacity="0.85"/>
<circle cx="75.6" cy="493.26" r="0.85" fill="#D2BE55" opacity="0.85"/>
<circle cx="90.7" cy="486.07" r="0.85" fill="#D2BE55" opacity="0.85"/>
<circle cx="96.7" cy="475.8" r="0.85" fill="#D2BE55" opacity="0.85"/>
<circle cx="107" cy="461.97" r="0.85" fill="#D2BE55" opacity="0.85"/>
<circle cx="115.3" cy="451.41" r="0.85" fill="#D2BE55" opacity="0.85"/>
<circle cx="127.1" cy="437.5" r="0.85" fill="#D2BE55" opacity="0.85"/>
<circle cx="170.1" cy="426.7" r="0.85" fill="#D2BE55" opacity="0.85"/>
<circle cx="185.2" cy="412.83" r="0.85" fill="#D2BE55" opacity="0.85"/>
<circle cx="200.5" cy="401.97" r="0.85" fill="#D2BE55" opacity="0.85"/>
<circle cx="217.5" cy="390.2" r="0.85" fill="#D2BE55" opacity="0.85"/>
<circle cx="230.9" cy="379.98" r="0.85" fill="#D2BE55" opacity="0.85"/>
<polyline fill="none" points="27.9,529.3 32.2,529.3 32.2,525.99 37.5,525.99 37.5,521.9 43.3,521.9 43.3,518.49 48,518.49 48,514.58 52.9,514.58 52.9,509.86 55.8,509.86 55.8,503.8 66,503.8 66,501.5 68.4,501.5 68.4,497.78 72.6,497.78 72.6,491.26 73.7,491.26 73.7,489.56 78.8,489.56 78.8,486 87.7,486 87.7,484.07 90.5,484.07 90.5,479.53 92,479.53 92,476.85 93.7,476.85 93.7,473.8 97.8,473.8 97.8,467.86 101.9,467.86 101.9,462.65 104,462.65 104,459.97 106,459.97 106,457.43 107.9,457.43 107.9,455.01 112.3,455.01 112.3,449.41 116.2,449.41 116.2,444 119.5,444 119.5,440.41 124.1,440.41 124.1,435.5 128.9,435.5 128.9,431.6 162.5,431.6 162.5,428.5 167.1,428.5 167.1,424.7 172.9,424.7 172.9,421.73 177.6,421.73 177.6,417.67 182.2,417.67 182.2,410.83 184.4,410.83 184.4,407.5 192.3,407.5 192.3,403.53 197.5,403.53 197.5,399.97 202.5,399.97 202.5,396.54 209.2,396.54 209.2,391.91 214.5,391.91 214.5,388.2 218.6,388.2 218.6,385.14 224.4,385.14 224.4,380.81 227.9,380.81 227.9,377.98 232.3,377.98 232.3,373.5 235,373.5 235,371.92 237,371.92" stroke="#E4CDF0" stroke-width="2"/>
<polyline fill="none" points="27.9,529.3 32.2,529.3 32.2,525.99 37.5,525.99 37.5,521.9 43.3,521.9 43.3,518.49 48,518.49 48,514.58 52.9,514.58 52.9,509.86 55.8,509.86 55.8,503.8 66,503.8 66,501.5 68.4,501.5 68.4,497.78 72.6,497.78 72.6,491.26 73.7,491.26 73.7,489.56 78.8,489.56 78.8,486 87.7,486 87.7,484.07 90.5,484.07 90.5,479.53 92,479.53 92,476.85 93.7,476.85 93.7,473.8 97.8,473.8 97.8,467.86 101.9,467.86 101.9,462.65 104,462.65 104,459.97 106,459.97 106,457.43 107.9,457.43 107.9,455.01 112.3,455.01 112.3,449.41 116.2,449.41 116.2,444 119.5,444 119.5,440.41 124.1,440.41 124.1,435.5 128.9,435.5 128.9,431.6 162.5,431.6 162.5,428.5 167.1,428.5 167.1,424.7 172.9,424.7 172.9,421.73 177.6,421.73 177.6,417.67 182.2,417.67 182.2,410.83 184.4,410.83 184.4,407.5 192.3,407.5 192.3,403.53 197.5,403.53 197.5,399.97 202.5,399.97 202.5,396.54 209.2,396.54 209.2,391.91 214.5,391.91 214.5,388.2 218.6,388.2 218.6,385.14 224.4,385.14 224.4,380.81 227.9,380.81 227.9,377.98 232.3,377.98 232.3,373.5 235,373.5 235,371.92 237,371.92" stroke="#5E3F94" stroke-width="0.9"/>
<text x="17.6" y="543.6" font-size="5.2" fill="#4a5568" text-anchor="middle" font-weight="normal">2.42</text>
<text x="50.25" y="543.6" font-size="5.2" fill="#4a5568" text-anchor="middle" font-weight="normal">2.44</text>
<text x="82.9" y="543.6" font-size="5.2" fill="#4a5568" text-anchor="middle" font-weight="normal">2.46</text>
<text x="115.55" y="543.6" font-size="5.2" fill="#4a5568" text-anchor="middle" font-weight="normal">2.48</text>
<text x="148.2" y="543.6" font-size="5.2" fill="#4a5568" text-anchor="middle" font-weight="normal">2.5</text>
<text x="180.85" y="543.6" font-size="5.2" fill="#4a5568" text-anchor="middle" font-weight="normal">2.52</text>
<text x="213.5" y="543.6" font-size="5.2" fill="#4a5568" text-anchor="middle" font-weight="normal">2.54</text>
<text x="245.5" y="543.6" font-size="5.2" fill="#4a5568" text-anchor="middle" font-weight="normal">2.56</text>
<text x="14" y="388.9" font-size="4.8" fill="#555f70" text-anchor="middle" font-weight="normal" transform="rotate(-90 14 388.9)">380</text>
<text x="14" y="460.8" font-size="4.8" fill="#555f70" text-anchor="middle" font-weight="normal" transform="rotate(-90 14 460.8)">383</text>
<text x="14" y="533" font-size="4.8" fill="#555f70" text-anchor="middle" font-weight="normal" transform="rotate(-90 14 533)">343</text>
<text x="136" y="557.4" font-size="9.4" fill="#4a5060" text-anchor="middle" font-weight="normal" textLength="32.1" lengthAdjust="spacingAndGlyphs">Time (s)</text>
<text x="6" y="454.3" font-size="8.4" fill="#4a5060" text-anchor="middle" font-weight="normal" transform="rotate(-90 6 454.3)" textLength="32.8" lengthAdjust="spacingAndGlyphs">chr1 (+)</text>
<rect x="252.9" y="359.9" width="39" height="178.9" fill="#E5ECF6"/>
<line x1="254.3" y1="359.9" x2="254.3" y2="538.8" stroke="#FFFFFF" stroke-width="1"/>
<line x1="272.2" y1="359.9" x2="272.2" y2="538.8" stroke="#FFFFFF" stroke-width="1"/>
<line x1="289.2" y1="359.9" x2="289.2" y2="538.8" stroke="#FFFFFF" stroke-width="1"/>
<line x1="252.9" y1="388.9" x2="291.9" y2="388.9" stroke="#FFFFFF" stroke-width="1"/>
<line x1="252.9" y1="460.8" x2="291.9" y2="460.8" stroke="#FFFFFF" stroke-width="1"/>
<line x1="252.9" y1="533" x2="291.9" y2="533" stroke="#FFFFFF" stroke-width="1"/>
<rect x="295.8" y="359.9" width="38.1" height="178.9" fill="#E5ECF6"/>
<line x1="296.2" y1="359.9" x2="296.2" y2="538.8" stroke="#FFFFFF" stroke-width="1"/>
<line x1="311" y1="359.9" x2="311" y2="538.8" stroke="#FFFFFF" stroke-width="1"/>
<line x1="326.5" y1="359.9" x2="326.5" y2="538.8" stroke="#FFFFFF" stroke-width="1"/>
<line x1="295.8" y1="388.9" x2="333.9" y2="388.9" stroke="#FFFFFF" stroke-width="1"/>
<line x1="295.8" y1="460.8" x2="333.9" y2="460.8" stroke="#FFFFFF" stroke-width="1"/>
<line x1="295.8" y1="533" x2="333.9" y2="533" stroke="#FFFFFF" stroke-width="1"/>
<polyline fill="none" points="271.7,370.2 271.7,373.8 280.1,373.8 280.1,377 272.6,377 272.6,380.1 269,380.1 269,383.6 267.2,383.6 267.2,388.1 277.6,388.1 277.6,391.3 267.2,391.3 267.2,395.3 269.9,395.3 269.9,403.3 272.6,403.3 272.6,406.9 275.3,406.9 275.3,410.5 280.1,410.5 280.1,414 272.6,414 272.6,417.6 275.3,417.6 275.3,421.2 265.4,421.2 265.4,424.2 263.7,424.2 263.7,427.5 253.8,427.5 253.8,431 278,431 278,434.6 269,434.6 269,439.1 271.7,439.1 271.7,443.6 273.5,443.6 273.5,448 276.2,448 276.2,450.9 269.6,450.9 269.6,454.8 275.5,454.8 275.5,459.7 272.6,459.7 272.6,476.2 275.5,476.2 275.5,481.1 261.8,481.1 261.8,485 273.5,485 273.5,488.9 269.6,488.9 269.6,492.8 258.9,492.8 258.9,495.7 268.7,495.7 268.7,502.6 283.3,502.6 283.3,506.5 268.7,506.5 268.7,510.4 278.4,510.4 278.4,514.3 273.5,514.3 273.5,517.2 266.7,517.2 266.7,521.1 292.1,521.1 292.1,524.6 269.6,524.6 269.6,528.5 271.6,528.5 271.6,528.6" stroke="#DAC2F0" stroke-width="1.3" stroke-linejoin="miter"/>
<polyline fill="none" points="271.3,369.3 271.3,372.9 279.7,372.9 279.7,376.1 272.2,376.1 272.2,379.2 268.6,379.2 268.6,382.7 266.8,382.7 266.8,387.2 277.2,387.2 277.2,390.4 266.8,390.4 266.8,394.4 269.5,394.4 269.5,402.4 272.2,402.4 272.2,406 274.9,406 274.9,409.6 279.7,409.6 279.7,413.1 272.2,413.1 272.2,416.7 274.9,416.7 274.9,420.3 265,420.3 265,423.3 263.3,423.3 263.3,426.6 253.4,426.6 253.4,430.1 277.6,430.1 277.6,433.7 268.6,433.7 268.6,438.2 271.3,438.2 271.3,442.7 273.1,442.7 273.1,447.1 275.8,447.1 275.8,450 269.2,450 269.2,453.9 275.1,453.9 275.1,458.8 272.2,458.8 272.2,475.3 275.1,475.3 275.1,480.2 261.4,480.2 261.4,484.1 273.1,484.1 273.1,488 269.2,488 269.2,491.9 258.5,491.9 258.5,494.8 268.3,494.8 268.3,501.7 282.9,501.7 282.9,505.6 268.3,505.6 268.3,509.5 278,509.5 278,513.4 273.1,513.4 273.1,516.3 266.3,516.3 266.3,520.2 291.7,520.2 291.7,523.7 269.2,523.7 269.2,527.6 271.2,527.6 271.2,527.7" stroke="#5E3F94" stroke-width="0.9" stroke-linejoin="miter"/>
<polyline fill="none" points="302.1,370.2 302.1,373.8 295.9,373.8 295.9,377.4 301.2,377.4 301.2,380.9 308.4,380.9 308.4,384.5 300.3,384.5 300.3,388.1 303.9,388.1 303.9,391.7 295.9,391.7 295.9,395.3 318.2,395.3 318.2,401.5 312.9,401.5 312.9,406 314.6,406 314.6,409.6 327.2,409.6 327.2,416.7 308.4,416.7 308.4,423.9 326.3,423.9 326.3,423.95" stroke="#DAC2F0" stroke-width="1.3" stroke-linejoin="miter"/>
<polyline fill="none" points="301.7,369.3 301.7,372.9 295.5,372.9 295.5,376.5 300.8,376.5 300.8,380 308,380 308,383.6 299.9,383.6 299.9,387.2 303.5,387.2 303.5,390.8 295.5,390.8 295.5,394.4 317.8,394.4 317.8,400.6 312.5,400.6 312.5,405.1 314.2,405.1 314.2,408.7 326.8,408.7 326.8,415.8 308,415.8 308,423 325.9,423 325.9,423.05" stroke="#5E3F94" stroke-width="0.9" stroke-linejoin="miter"/>
<polyline fill="none" points="327.2,431 327.2,434.6 319.1,434.6 319.1,439.1 311.1,439.1 311.1,443.6 317.3,443.6 317.3,447.2 311.1,447.2 311.1,450.9 319.4,450.9 319.4,453.8 311.6,453.8 311.6,456.7 315.4,456.7 315.4,460.6 305.7,460.6 305.7,464.5 315.4,464.5 315.4,467.5 304.7,467.5 304.7,474.3 296,474.3 296,478.2 327.1,478.2 327.1,482.1 334,482.1 334,485 329.1,485 329.1,488.9 312.5,488.9 312.5,492.8 302.8,492.8 302.8,496.7 296,496.7 296,499.6 299.9,499.6 299.9,503.5 318.4,503.5 318.4,507.4 326.2,507.4 326.2,510.4 305.7,510.4 305.7,514.3 296,514.3 296,518.2 313.5,518.2 313.5,521.1 297.9,521.1 297.9,524.6 303.8,524.6 303.8,528.5 323.2,528.5 323.2,528.6" stroke="#DAC2F0" stroke-width="1.3" stroke-linejoin="miter"/>
<polyline fill="none" points="326.8,430.1 326.8,433.7 318.7,433.7 318.7,438.2 310.7,438.2 310.7,442.7 316.9,442.7 316.9,446.3 310.7,446.3 310.7,450 319,450 319,452.9 311.2,452.9 311.2,455.8 315,455.8 315,459.7 305.3,459.7 305.3,463.6 315,463.6 315,466.6 304.3,466.6 304.3,473.4 295.6,473.4 295.6,477.3 326.7,477.3 326.7,481.2 333.6,481.2 333.6,484.1 328.7,484.1 328.7,488 312.1,488 312.1,491.9 302.4,491.9 302.4,495.8 295.6,495.8 295.6,498.7 299.5,498.7 299.5,502.6 318,502.6 318,506.5 325.8,506.5 325.8,509.5 305.3,509.5 305.3,513.4 295.6,513.4 295.6,517.3 313.1,517.3 313.1,520.2 297.5,520.2 297.5,523.7 303.4,523.7 303.4,527.6 322.8,527.6 322.8,527.7" stroke="#5E3F94" stroke-width="0.9" stroke-linejoin="miter"/>
<text x="254.3" y="543.6" font-size="5.2" fill="#4a5568" text-anchor="middle" font-weight="normal">−0.5</text>
<text x="272.2" y="543.6" font-size="5.2" fill="#4a5568" text-anchor="middle" font-weight="normal">0</text>
<text x="288" y="543.6" font-size="5.2" fill="#4a5568" text-anchor="middle" font-weight="normal">0.5</text>
<text x="297.5" y="543.6" font-size="5.2" fill="#4a5568" text-anchor="middle" font-weight="normal">0</text>
<text x="311" y="543.6" font-size="5.2" fill="#4a5568" text-anchor="middle" font-weight="normal">0.5</text>
<text x="326.5" y="543.6" font-size="5.2" fill="#4a5568" text-anchor="middle" font-weight="normal">1</text>
<text x="247.8" y="555.4" font-size="9.4" fill="#4a5060" text-anchor="start" font-weight="normal" textLength="43.6" lengthAdjust="spacingAndGlyphs">Model MAD</text>
<text x="295.9" y="555.4" font-size="9.4" fill="#4a5060" text-anchor="start" font-weight="normal" textLength="40.6" lengthAdjust="spacingAndGlyphs">Sig-to-Ref</text>
<text x="342.1" y="300.5" font-size="10" fill="#000000" text-anchor="start" font-weight="bold">d.</text>
<text x="367.9" y="300.4" font-size="10.5" fill="#3d4656" text-anchor="start" font-weight="normal" textLength="321" lengthAdjust="spacingAndGlyphs">Signal-to-Ref. vs Signal-to-Read Alignments with Sequencing Error</text>
<text x="380.2" y="324.2" font-size="11.2" fill="#3d4656" text-anchor="start" font-weight="normal" textLength="93" lengthAdjust="spacingAndGlyphs">Signal-to-Reference</text>
<text x="380.8" y="430.4" font-size="11.2" fill="#3d4656" text-anchor="start" font-weight="normal" textLength="68" lengthAdjust="spacingAndGlyphs">Signal-to-Read</text>
<rect x="379.8" y="326" width="297.5" height="68.5" fill="#E5ECF6"/>
<rect x="380.4" y="327.2" width="3.9" height="64.2" fill="#F87474"/>
<rect x="384.3" y="327.2" width="2.9" height="64.2" fill="#EDEE8A"/>
<rect x="387.2" y="327.2" width="6.4" height="64.2" fill="#5CEE7A"/>
<rect x="394.3" y="327.2" width="5.1" height="64.2" fill="#F2EE22"/>
<rect x="400" y="327.2" width="5.8" height="64.2" fill="#7B70F5"/>
<rect x="406.2" y="327.2" width="3.2" height="64.2" fill="#F2EE22"/>
<rect x="409.8" y="327.2" width="3.6" height="64.2" fill="#7B70F5"/>
<rect x="414" y="327.2" width="9.7" height="64.2" fill="#F87474"/>
<rect x="424" y="327.2" width="2.9" height="64.2" fill="#7B70F5"/>
<rect x="426.9" y="327.2" width="6.4" height="64.2" fill="#5CEE7A"/>
<rect x="434" y="327.2" width="3.2" height="64.2" fill="#F87474"/>
<rect x="437.5" y="327.2" width="13.3" height="64.2" fill="#F87474"/>
<rect x="451.2" y="327.2" width="9.6" height="64.2" fill="#F87474"/>
<rect x="461.8" y="327.2" width="6.2" height="64.2" fill="#7B70F5"/>
<rect x="469" y="327.2" width="7.6" height="64.2" fill="#5CEE7A"/>
<rect x="477" y="327.2" width="3.9" height="64.2" fill="#F2EE22"/>
<rect x="480.9" y="327.2" width="1.4" height="64.2" fill="#5CEE7A"/>
<rect x="483" y="327.2" width="4.1" height="64.2" fill="#7B70F5"/>
<rect x="487.6" y="327.2" width="4.6" height="64.2" fill="#F87474"/>
<rect x="492.5" y="327.2" width="4" height="64.2" fill="#F87474"/>
<rect x="497.2" y="327.2" width="4.7" height="64.2" fill="#F2EE22"/>
<rect x="502.5" y="327.2" width="9" height="64.2" fill="#F87474"/>
<rect x="512.2" y="327.2" width="8.6" height="64.2" fill="#5CEE7A"/>
<rect x="521.5" y="327.2" width="4.3" height="64.2" fill="#7B70F5"/>
<rect x="526.8" y="327.2" width="11.2" height="64.2" fill="#7B70F5"/>
<rect x="538.7" y="327.2" width="8.2" height="64.2" fill="#F87474"/>
<rect x="547.2" y="327.2" width="4" height="64.2" fill="#F87474"/>
<rect x="551.7" y="327.2" width="3.3" height="64.2" fill="#F2EE22"/>
<rect x="555.5" y="327.2" width="1.7" height="64.2" fill="#F87474"/>
<rect x="557.5" y="327.2" width="16.9" height="64.2" fill="#F87474"/>
<rect x="575.5" y="327.2" width="6" height="64.2" fill="#7B70F5"/>
<rect x="582.3" y="327.2" width="5.7" height="64.2" fill="#F2EE22"/>
<rect x="588.7" y="327.2" width="15.6" height="64.2" fill="#7B70F5"/>
<rect x="605" y="327.2" width="12.2" height="64.2" fill="#7B70F5"/>
<rect x="617.6" y="327.2" width="3.6" height="64.2" fill="#5CEE7A"/>
<rect x="621.5" y="327.2" width="4.3" height="64.2" fill="#5CEE7A"/>
<rect x="626.2" y="327.2" width="3.1" height="64.2" fill="#F2EE22"/>
<rect x="629.8" y="327.2" width="5.2" height="64.2" fill="#7B70F5"/>
<rect x="635.8" y="327.2" width="6.4" height="64.2" fill="#F87474"/>
<rect x="642.2" y="327.2" width="2.2" height="64.2" fill="#F2EE22"/>
<rect x="644.8" y="327.2" width="2.8" height="64.2" fill="#F87474"/>
<rect x="648" y="327.2" width="5.7" height="64.2" fill="#F2EE22"/>
<rect x="654.4" y="327.2" width="6.4" height="64.2" fill="#7B70F5"/>
<rect x="661.5" y="327.2" width="5" height="64.2" fill="#F2EE22"/>
<rect x="667.2" y="327.2" width="4.3" height="64.2" fill="#F87474"/>
<rect x="672.3" y="327.2" width="4.2" height="64.2" fill="#7B70F5"/>
<polyline fill="none" points="380.4,332.9 384.3,332.9 384.3,352.5 387.2,352.5 387.2,382.3 394.3,382.3 394.3,369.4 400,369.4 400,337.2 406.2,337.2 406.2,370.9 409.8,370.9 409.8,359.4 414,359.4 414,337.2 424,337.2 424,350 426.9,350 426.9,378.7 434,378.7 434,338.6 437.5,338.6 437.5,341.5 451.2,341.5 451.2,339.3 461.8,339.3 461.8,349.4 469,349.4 469,375.2 477,375.2 477,378.7 480.9,378.7 480.9,370 483,370 483,348 487.6,348 487.6,341.5 492.5,341.5 492.5,337.2 497.2,337.2 497.2,348.7 502.5,348.7 502.5,342.2 512.2,342.2 512.2,361.5 514,361.5 514,375.2 521.5,375.2 521.5,341.5 526.8,341.5 526.8,358 529,358 529,365.1 538.7,365.1 538.7,346.5 547.2,346.5 547.2,341.5 551.7,341.5 551.7,350.8 555.5,350.8 555.5,343.6 557.5,343.6 557.5,340 575.5,340 575.5,349.4 582.3,349.4 582.3,373.7 588.7,373.7 588.7,350.1 605,350.1 605,358.6 607,358.6 607,365 617.6,365 617.6,380 621.5,380 621.5,380 626.2,380 626.2,370 629.8,370 629.8,349.3 635.8,349.3 635.8,332.9 642.2,332.9 642.2,345.7 644.8,345.7 644.8,330 648,330 648,334.3 654.4,334.3 654.4,347.9 661.5,347.9 661.5,377.2 667.2,377.2 667.2,339 669.5,339 669.5,332.3 672.3,332.3 672.3,344.7 674.3,344.7 674.3,360.8 676.5,360.8" stroke="#FFFFFF" stroke-width="1.3"/>
<circle cx="382.99" cy="335.59" r="0.6" fill="#000" fill-opacity="0.72"/>
<circle cx="381.58" cy="331.43" r="0.6" fill="#000" fill-opacity="0.72"/>
<circle cx="382.53" cy="330.82" r="0.6" fill="#000" fill-opacity="0.72"/>
<circle cx="382.43" cy="335.21" r="0.6" fill="#000" fill-opacity="0.72"/>
<circle cx="385.21" cy="350.41" r="0.6" fill="#000" fill-opacity="0.72"/>
<circle cx="385.1" cy="349.67" r="0.6" fill="#000" fill-opacity="0.72"/>
<circle cx="386.62" cy="354.97" r="0.6" fill="#000" fill-opacity="0.72"/>
<circle cx="388.87" cy="383.44" r="0.6" fill="#000" fill-opacity="0.72"/>
<circle cx="391.81" cy="386.26" r="0.6" fill="#000" fill-opacity="0.72"/>
<circle cx="389.4" cy="382.23" r="0.6" fill="#000" fill-opacity="0.72"/>
<circle cx="392.6" cy="382.63" r="0.6" fill="#000" fill-opacity="0.72"/>
<circle cx="392.76" cy="384.54" r="0.6" fill="#000" fill-opacity="0.72"/>
<circle cx="391.16" cy="382.31" r="0.6" fill="#000" fill-opacity="0.72"/>
<circle cx="393.18" cy="380.67" r="0.6" fill="#000" fill-opacity="0.72"/>
<circle cx="390.22" cy="384.87" r="0.6" fill="#000" fill-opacity="0.72"/>
<circle cx="398.46" cy="367.92" r="0.6" fill="#000" fill-opacity="0.72"/>
<circle cx="396.57" cy="370.01" r="0.6" fill="#000" fill-opacity="0.72"/>
<circle cx="395.98" cy="367.96" r="0.6" fill="#000" fill-opacity="0.72"/>
<circle cx="395.55" cy="369.85" r="0.6" fill="#000" fill-opacity="0.72"/>
<circle cx="398.7" cy="369.87" r="0.6" fill="#000" fill-opacity="0.72"/>
<circle cx="395.25" cy="371.29" r="0.6" fill="#000" fill-opacity="0.72"/>
<circle cx="405.13" cy="338.35" r="0.6" fill="#000" fill-opacity="0.72"/>
<circle cx="402.09" cy="338.49" r="0.6" fill="#000" fill-opacity="0.72"/>
<circle cx="400.52" cy="338.56" r="0.6" fill="#000" fill-opacity="0.72"/>
<circle cx="403.9" cy="336.24" r="0.6" fill="#000" fill-opacity="0.72"/>
<circle cx="404.13" cy="336.01" r="0.6" fill="#000" fill-opacity="0.72"/>
<circle cx="400.64" cy="336.68" r="0.6" fill="#000" fill-opacity="0.72"/>
<circle cx="404.55" cy="337.23" r="0.6" fill="#000" fill-opacity="0.72"/>
<circle cx="408.63" cy="372.44" r="0.6" fill="#000" fill-opacity="0.72"/>
<circle cx="408.76" cy="371.46" r="0.6" fill="#000" fill-opacity="0.72"/>
<circle cx="408.88" cy="372.75" r="0.6" fill="#000" fill-opacity="0.72"/>
<circle cx="407.03" cy="371.59" r="0.6" fill="#000" fill-opacity="0.72"/>
<circle cx="410.44" cy="364" r="0.6" fill="#000" fill-opacity="0.72"/>
<circle cx="412.54" cy="361.19" r="0.6" fill="#000" fill-opacity="0.72"/>
<circle cx="412" cy="361.62" r="0.6" fill="#000" fill-opacity="0.72"/>
<circle cx="410.96" cy="358.01" r="0.6" fill="#000" fill-opacity="0.72"/>
<circle cx="415.21" cy="340.81" r="0.6" fill="#000" fill-opacity="0.72"/>
<circle cx="416.17" cy="340.04" r="0.6" fill="#000" fill-opacity="0.72"/>
<circle cx="417.2" cy="337.85" r="0.6" fill="#000" fill-opacity="0.72"/>
<circle cx="416.64" cy="338.38" r="0.6" fill="#000" fill-opacity="0.72"/>
<circle cx="416.87" cy="337.81" r="0.6" fill="#000" fill-opacity="0.72"/>
<circle cx="417.22" cy="336.42" r="0.6" fill="#000" fill-opacity="0.72"/>
<circle cx="423.07" cy="334.49" r="0.6" fill="#000" fill-opacity="0.72"/>
<circle cx="419.93" cy="338.11" r="0.6" fill="#000" fill-opacity="0.72"/>
<circle cx="414.58" cy="336.46" r="0.6" fill="#000" fill-opacity="0.72"/>
<circle cx="421.33" cy="339.26" r="0.6" fill="#000" fill-opacity="0.72"/>
<circle cx="417.46" cy="337.54" r="0.6" fill="#000" fill-opacity="0.72"/>
<circle cx="416.27" cy="335.93" r="0.6" fill="#000" fill-opacity="0.72"/>
<circle cx="426.28" cy="353.96" r="0.6" fill="#000" fill-opacity="0.72"/>
<circle cx="424.69" cy="352.9" r="0.6" fill="#000" fill-opacity="0.72"/>
<circle cx="424.3" cy="351.96" r="0.6" fill="#000" fill-opacity="0.72"/>
<circle cx="432.87" cy="382.78" r="0.6" fill="#000" fill-opacity="0.72"/>
<circle cx="427.23" cy="377.49" r="0.6" fill="#000" fill-opacity="0.72"/>
<circle cx="431.82" cy="379.83" r="0.6" fill="#000" fill-opacity="0.72"/>
<circle cx="428.27" cy="377.95" r="0.6" fill="#000" fill-opacity="0.72"/>
<circle cx="432.02" cy="379.76" r="0.6" fill="#000" fill-opacity="0.72"/>
<circle cx="428.71" cy="381.16" r="0.6" fill="#000" fill-opacity="0.72"/>
<circle cx="428.45" cy="379.16" r="0.6" fill="#000" fill-opacity="0.72"/>
<circle cx="431.26" cy="378.78" r="0.6" fill="#000" fill-opacity="0.72"/>
<circle cx="435.95" cy="339.61" r="0.6" fill="#000" fill-opacity="0.72"/>
<circle cx="434.51" cy="340.29" r="0.6" fill="#000" fill-opacity="0.72"/>
<circle cx="436.35" cy="336.75" r="0.6" fill="#000" fill-opacity="0.72"/>
<circle cx="435.93" cy="338.41" r="0.6" fill="#000" fill-opacity="0.72"/>
<circle cx="442.81" cy="344.02" r="0.6" fill="#000" fill-opacity="0.72"/>
<circle cx="449.11" cy="345.91" r="0.6" fill="#000" fill-opacity="0.72"/>
<circle cx="438.12" cy="344.55" r="0.6" fill="#000" fill-opacity="0.72"/>
<circle cx="440.42" cy="342.16" r="0.6" fill="#000" fill-opacity="0.72"/>
<circle cx="444.17" cy="346.57" r="0.6" fill="#000" fill-opacity="0.72"/>
<circle cx="442.62" cy="343.53" r="0.6" fill="#000" fill-opacity="0.72"/>
<circle cx="443.65" cy="341.58" r="0.6" fill="#000" fill-opacity="0.72"/>
<circle cx="444.55" cy="342.59" r="0.6" fill="#000" fill-opacity="0.72"/>
<circle cx="446.01" cy="339.32" r="0.6" fill="#000" fill-opacity="0.72"/>
<circle cx="442.23" cy="341.99" r="0.6" fill="#000" fill-opacity="0.72"/>
<circle cx="448.51" cy="343.48" r="0.6" fill="#000" fill-opacity="0.72"/>
<circle cx="446.21" cy="342.44" r="0.6" fill="#000" fill-opacity="0.72"/>
<circle cx="443.37" cy="341.34" r="0.6" fill="#000" fill-opacity="0.72"/>
<circle cx="447.62" cy="341.63" r="0.6" fill="#000" fill-opacity="0.72"/>
<circle cx="443.67" cy="342.03" r="0.6" fill="#000" fill-opacity="0.72"/>
<circle cx="449.04" cy="342.59" r="0.6" fill="#000" fill-opacity="0.72"/>
<circle cx="441.63" cy="343.74" r="0.6" fill="#000" fill-opacity="0.72"/>
<circle cx="457.83" cy="340.91" r="0.6" fill="#000" fill-opacity="0.72"/>
<circle cx="452.9" cy="339.38" r="0.6" fill="#000" fill-opacity="0.72"/>
<circle cx="453.73" cy="339.23" r="0.6" fill="#000" fill-opacity="0.72"/>
<circle cx="452.95" cy="342.35" r="0.6" fill="#000" fill-opacity="0.72"/>
<circle cx="454.45" cy="342.22" r="0.6" fill="#000" fill-opacity="0.72"/>
<circle cx="458.06" cy="345.09" r="0.6" fill="#000" fill-opacity="0.72"/>
<circle cx="452.42" cy="341.16" r="0.6" fill="#000" fill-opacity="0.72"/>
<circle cx="454.96" cy="340.09" r="0.6" fill="#000" fill-opacity="0.72"/>
<circle cx="460.35" cy="341.16" r="0.6" fill="#000" fill-opacity="0.72"/>
<circle cx="455.41" cy="337.33" r="0.6" fill="#000" fill-opacity="0.72"/>
<circle cx="453.27" cy="339.72" r="0.6" fill="#000" fill-opacity="0.72"/>
<circle cx="453.36" cy="339.61" r="0.6" fill="#000" fill-opacity="0.72"/>
<circle cx="464.27" cy="352.27" r="0.6" fill="#000" fill-opacity="0.72"/>
<circle cx="466.53" cy="350.81" r="0.6" fill="#000" fill-opacity="0.72"/>
<circle cx="465.98" cy="347.71" r="0.6" fill="#000" fill-opacity="0.72"/>
<circle cx="464.69" cy="350.39" r="0.6" fill="#000" fill-opacity="0.72"/>
<circle cx="462.89" cy="348.86" r="0.6" fill="#000" fill-opacity="0.72"/>
<circle cx="466.25" cy="349.23" r="0.6" fill="#000" fill-opacity="0.72"/>
<circle cx="467.18" cy="348.15" r="0.6" fill="#000" fill-opacity="0.72"/>
<circle cx="474.54" cy="377.26" r="0.6" fill="#000" fill-opacity="0.72"/>
<circle cx="472.25" cy="376.61" r="0.6" fill="#000" fill-opacity="0.72"/>
<circle cx="475.46" cy="379.21" r="0.6" fill="#000" fill-opacity="0.72"/>
<circle cx="474.72" cy="375.05" r="0.6" fill="#000" fill-opacity="0.72"/>
<circle cx="474.06" cy="372.66" r="0.6" fill="#000" fill-opacity="0.72"/>
<circle cx="473.79" cy="374.62" r="0.6" fill="#000" fill-opacity="0.72"/>
<circle cx="473.7" cy="376.67" r="0.6" fill="#000" fill-opacity="0.72"/>
<circle cx="469.99" cy="373.3" r="0.6" fill="#000" fill-opacity="0.72"/>
<circle cx="474.29" cy="377.81" r="0.6" fill="#000" fill-opacity="0.72"/>
<circle cx="479.38" cy="379.7" r="0.6" fill="#000" fill-opacity="0.72"/>
<circle cx="478.8" cy="381.69" r="0.6" fill="#000" fill-opacity="0.72"/>
<circle cx="479.35" cy="377.3" r="0.6" fill="#000" fill-opacity="0.72"/>
<circle cx="480.37" cy="381.24" r="0.6" fill="#000" fill-opacity="0.72"/>
<circle cx="481.35" cy="369.14" r="0.6" fill="#000" fill-opacity="0.72"/>
<circle cx="484.66" cy="346.28" r="0.6" fill="#000" fill-opacity="0.72"/>
<circle cx="485.01" cy="349.52" r="0.6" fill="#000" fill-opacity="0.72"/>
<circle cx="485.2" cy="348.92" r="0.6" fill="#000" fill-opacity="0.72"/>
<circle cx="483.86" cy="349.9" r="0.6" fill="#000" fill-opacity="0.72"/>
<circle cx="485.12" cy="344.57" r="0.6" fill="#000" fill-opacity="0.72"/>
<circle cx="488.3" cy="340.38" r="0.6" fill="#000" fill-opacity="0.72"/>
<circle cx="490.77" cy="341.43" r="0.6" fill="#000" fill-opacity="0.72"/>
<circle cx="489.95" cy="340.21" r="0.6" fill="#000" fill-opacity="0.72"/>
<circle cx="489.99" cy="339.76" r="0.6" fill="#000" fill-opacity="0.72"/>
<circle cx="489.54" cy="343.74" r="0.6" fill="#000" fill-opacity="0.72"/>
<circle cx="495.13" cy="337.78" r="0.6" fill="#000" fill-opacity="0.72"/>
<circle cx="494.13" cy="338.28" r="0.6" fill="#000" fill-opacity="0.72"/>
<circle cx="496.15" cy="337.23" r="0.6" fill="#000" fill-opacity="0.72"/>
<circle cx="494.01" cy="339.63" r="0.6" fill="#000" fill-opacity="0.72"/>
<circle cx="494.16" cy="338.73" r="0.6" fill="#000" fill-opacity="0.72"/>
<circle cx="497.55" cy="347.97" r="0.6" fill="#000" fill-opacity="0.72"/>
<circle cx="500.36" cy="350.67" r="0.6" fill="#000" fill-opacity="0.72"/>
<circle cx="498.94" cy="349.57" r="0.6" fill="#000" fill-opacity="0.72"/>
<circle cx="500.54" cy="351.05" r="0.6" fill="#000" fill-opacity="0.72"/>
<circle cx="501.35" cy="348.38" r="0.6" fill="#000" fill-opacity="0.72"/>
<circle cx="500.79" cy="349.47" r="0.6" fill="#000" fill-opacity="0.72"/>
<circle cx="506.09" cy="343.44" r="0.6" fill="#000" fill-opacity="0.72"/>
<circle cx="509.32" cy="344.17" r="0.6" fill="#000" fill-opacity="0.72"/>
<circle cx="509.6" cy="341.78" r="0.6" fill="#000" fill-opacity="0.72"/>
<circle cx="507.52" cy="341.6" r="0.6" fill="#000" fill-opacity="0.72"/>
<circle cx="504.7" cy="344.93" r="0.6" fill="#000" fill-opacity="0.72"/>
<circle cx="508.17" cy="342.8" r="0.6" fill="#000" fill-opacity="0.72"/>
<circle cx="509.68" cy="344.06" r="0.6" fill="#000" fill-opacity="0.72"/>
<circle cx="505.27" cy="341.25" r="0.6" fill="#000" fill-opacity="0.72"/>
<circle cx="507.41" cy="345.74" r="0.6" fill="#000" fill-opacity="0.72"/>
<circle cx="505.78" cy="345.75" r="0.6" fill="#000" fill-opacity="0.72"/>
<circle cx="509.95" cy="343" r="0.6" fill="#000" fill-opacity="0.72"/>
<circle cx="512.8" cy="364.33" r="0.6" fill="#000" fill-opacity="0.72"/>
<circle cx="513.01" cy="362.55" r="0.6" fill="#000" fill-opacity="0.72"/>
<circle cx="518.78" cy="376.33" r="0.6" fill="#000" fill-opacity="0.72"/>
<circle cx="516.04" cy="376.25" r="0.6" fill="#000" fill-opacity="0.72"/>
<circle cx="517.27" cy="377.81" r="0.6" fill="#000" fill-opacity="0.72"/>
<circle cx="516.96" cy="374.39" r="0.6" fill="#000" fill-opacity="0.72"/>
<circle cx="516.55" cy="374.08" r="0.6" fill="#000" fill-opacity="0.72"/>
<circle cx="520.06" cy="376.6" r="0.6" fill="#000" fill-opacity="0.72"/>
<circle cx="519.43" cy="375.68" r="0.6" fill="#000" fill-opacity="0.72"/>
<circle cx="519.92" cy="376.42" r="0.6" fill="#000" fill-opacity="0.72"/>
<circle cx="524.88" cy="341.48" r="0.6" fill="#000" fill-opacity="0.72"/>
<circle cx="524.14" cy="342.79" r="0.6" fill="#000" fill-opacity="0.72"/>
<circle cx="525.32" cy="342.53" r="0.6" fill="#000" fill-opacity="0.72"/>
<circle cx="524.23" cy="342.5" r="0.6" fill="#000" fill-opacity="0.72"/>
<circle cx="522.33" cy="343.38" r="0.6" fill="#000" fill-opacity="0.72"/>
<circle cx="527.47" cy="359.29" r="0.6" fill="#000" fill-opacity="0.72"/>
<circle cx="527.34" cy="357.27" r="0.6" fill="#000" fill-opacity="0.72"/>
<circle cx="536.89" cy="366.4" r="0.6" fill="#000" fill-opacity="0.72"/>
<circle cx="536.79" cy="364.99" r="0.6" fill="#000" fill-opacity="0.72"/>
<circle cx="534.41" cy="366.65" r="0.6" fill="#000" fill-opacity="0.72"/>
<circle cx="536.81" cy="363.33" r="0.6" fill="#000" fill-opacity="0.72"/>
<circle cx="535.92" cy="366.77" r="0.6" fill="#000" fill-opacity="0.72"/>
<circle cx="535.12" cy="365.03" r="0.6" fill="#000" fill-opacity="0.72"/>
<circle cx="533.76" cy="366" r="0.6" fill="#000" fill-opacity="0.72"/>
<circle cx="536.71" cy="364.06" r="0.6" fill="#000" fill-opacity="0.72"/>
<circle cx="533.96" cy="365.97" r="0.6" fill="#000" fill-opacity="0.72"/>
<circle cx="530.47" cy="367.48" r="0.6" fill="#000" fill-opacity="0.72"/>
<circle cx="533.44" cy="368.09" r="0.6" fill="#000" fill-opacity="0.72"/>
<circle cx="540.1" cy="348.27" r="0.6" fill="#000" fill-opacity="0.72"/>
<circle cx="542.73" cy="345.13" r="0.6" fill="#000" fill-opacity="0.72"/>
<circle cx="545.56" cy="347.53" r="0.6" fill="#000" fill-opacity="0.72"/>
<circle cx="539.05" cy="348.65" r="0.6" fill="#000" fill-opacity="0.72"/>
<circle cx="543.28" cy="345.7" r="0.6" fill="#000" fill-opacity="0.72"/>
<circle cx="544.06" cy="348.49" r="0.6" fill="#000" fill-opacity="0.72"/>
<circle cx="542.18" cy="345.95" r="0.6" fill="#000" fill-opacity="0.72"/>
<circle cx="546.3" cy="349.91" r="0.6" fill="#000" fill-opacity="0.72"/>
<circle cx="543.83" cy="348.73" r="0.6" fill="#000" fill-opacity="0.72"/>
<circle cx="539.22" cy="345.28" r="0.6" fill="#000" fill-opacity="0.72"/>
<circle cx="550.67" cy="340.67" r="0.6" fill="#000" fill-opacity="0.72"/>
<circle cx="548.62" cy="344.76" r="0.6" fill="#000" fill-opacity="0.72"/>
<circle cx="549.15" cy="342.24" r="0.6" fill="#000" fill-opacity="0.72"/>
<circle cx="550.55" cy="345.46" r="0.6" fill="#000" fill-opacity="0.72"/>
<circle cx="549.63" cy="343.14" r="0.6" fill="#000" fill-opacity="0.72"/>
<circle cx="552.91" cy="352.97" r="0.6" fill="#000" fill-opacity="0.72"/>
<circle cx="553.28" cy="350.41" r="0.6" fill="#000" fill-opacity="0.72"/>
<circle cx="553.42" cy="351.97" r="0.6" fill="#000" fill-opacity="0.72"/>
<circle cx="553.18" cy="350.5" r="0.6" fill="#000" fill-opacity="0.72"/>
<circle cx="556.26" cy="341.25" r="0.6" fill="#000" fill-opacity="0.72"/>
<circle cx="556.12" cy="343.42" r="0.6" fill="#000" fill-opacity="0.72"/>
<circle cx="571.29" cy="339.15" r="0.6" fill="#000" fill-opacity="0.72"/>
<circle cx="562.23" cy="342.28" r="0.6" fill="#000" fill-opacity="0.72"/>
<circle cx="566.05" cy="343.74" r="0.6" fill="#000" fill-opacity="0.72"/>
<circle cx="570.71" cy="340.57" r="0.6" fill="#000" fill-opacity="0.72"/>
<circle cx="563.19" cy="340.34" r="0.6" fill="#000" fill-opacity="0.72"/>
<circle cx="567.36" cy="342.46" r="0.6" fill="#000" fill-opacity="0.72"/>
<circle cx="568.15" cy="341.12" r="0.6" fill="#000" fill-opacity="0.72"/>
<circle cx="569.58" cy="340.47" r="0.6" fill="#000" fill-opacity="0.72"/>
<circle cx="572.24" cy="340.42" r="0.6" fill="#000" fill-opacity="0.72"/>
<circle cx="562.7" cy="340.83" r="0.6" fill="#000" fill-opacity="0.72"/>
<circle cx="557.9" cy="342.58" r="0.6" fill="#000" fill-opacity="0.72"/>
<circle cx="567.72" cy="344.98" r="0.6" fill="#000" fill-opacity="0.72"/>
<circle cx="568.53" cy="342.01" r="0.6" fill="#000" fill-opacity="0.72"/>
<circle cx="567.77" cy="336.96" r="0.6" fill="#000" fill-opacity="0.72"/>
<circle cx="567.85" cy="338.95" r="0.6" fill="#000" fill-opacity="0.72"/>
<circle cx="567.52" cy="338.9" r="0.6" fill="#000" fill-opacity="0.72"/>
<circle cx="568.9" cy="341.66" r="0.6" fill="#000" fill-opacity="0.72"/>
<circle cx="565.26" cy="343.74" r="0.6" fill="#000" fill-opacity="0.72"/>
<circle cx="570.23" cy="341.97" r="0.6" fill="#000" fill-opacity="0.72"/>
<circle cx="558.4" cy="341.71" r="0.6" fill="#000" fill-opacity="0.72"/>
<circle cx="570.42" cy="343.38" r="0.6" fill="#000" fill-opacity="0.72"/>
<circle cx="577.79" cy="348.97" r="0.6" fill="#000" fill-opacity="0.72"/>
<circle cx="580.24" cy="350.96" r="0.6" fill="#000" fill-opacity="0.72"/>
<circle cx="577.19" cy="348.02" r="0.6" fill="#000" fill-opacity="0.72"/>
<circle cx="577.43" cy="348.93" r="0.6" fill="#000" fill-opacity="0.72"/>
<circle cx="578.13" cy="351.19" r="0.6" fill="#000" fill-opacity="0.72"/>
<circle cx="579.27" cy="350.98" r="0.6" fill="#000" fill-opacity="0.72"/>
<circle cx="578.86" cy="350.14" r="0.6" fill="#000" fill-opacity="0.72"/>
<circle cx="582.8" cy="377.24" r="0.6" fill="#000" fill-opacity="0.72"/>
<circle cx="585.53" cy="377.05" r="0.6" fill="#000" fill-opacity="0.72"/>
<circle cx="587.29" cy="374.4" r="0.6" fill="#000" fill-opacity="0.72"/>
<circle cx="584.57" cy="374.81" r="0.6" fill="#000" fill-opacity="0.72"/>
<circle cx="585.62" cy="379.64" r="0.6" fill="#000" fill-opacity="0.72"/>
<circle cx="585.02" cy="372.66" r="0.6" fill="#000" fill-opacity="0.72"/>
<circle cx="584.7" cy="376.89" r="0.6" fill="#000" fill-opacity="0.72"/>
<circle cx="592.18" cy="352.73" r="0.6" fill="#000" fill-opacity="0.72"/>
<circle cx="591.28" cy="351.29" r="0.6" fill="#000" fill-opacity="0.72"/>
<circle cx="599.26" cy="351.12" r="0.6" fill="#000" fill-opacity="0.72"/>
<circle cx="590.83" cy="351.9" r="0.6" fill="#000" fill-opacity="0.72"/>
<circle cx="602.04" cy="350.93" r="0.6" fill="#000" fill-opacity="0.72"/>
<circle cx="590.93" cy="354.11" r="0.6" fill="#000" fill-opacity="0.72"/>
<circle cx="592.63" cy="351.44" r="0.6" fill="#000" fill-opacity="0.72"/>
<circle cx="600" cy="351.33" r="0.6" fill="#000" fill-opacity="0.72"/>
<circle cx="600.61" cy="351.66" r="0.6" fill="#000" fill-opacity="0.72"/>
<circle cx="599.7" cy="352.99" r="0.6" fill="#000" fill-opacity="0.72"/>
<circle cx="590.26" cy="348.68" r="0.6" fill="#000" fill-opacity="0.72"/>
<circle cx="598.43" cy="350.57" r="0.6" fill="#000" fill-opacity="0.72"/>
<circle cx="602.99" cy="349.06" r="0.6" fill="#000" fill-opacity="0.72"/>
<circle cx="592.81" cy="354.04" r="0.6" fill="#000" fill-opacity="0.72"/>
<circle cx="589.17" cy="350.43" r="0.6" fill="#000" fill-opacity="0.72"/>
<circle cx="589.22" cy="349.05" r="0.6" fill="#000" fill-opacity="0.72"/>
<circle cx="590.2" cy="348.26" r="0.6" fill="#000" fill-opacity="0.72"/>
<circle cx="593.67" cy="350.95" r="0.6" fill="#000" fill-opacity="0.72"/>
<circle cx="601.91" cy="349.96" r="0.6" fill="#000" fill-opacity="0.72"/>
<circle cx="605.98" cy="361.29" r="0.6" fill="#000" fill-opacity="0.72"/>
<circle cx="606.1" cy="360.27" r="0.6" fill="#000" fill-opacity="0.72"/>
<circle cx="611.51" cy="365.53" r="0.6" fill="#000" fill-opacity="0.72"/>
<circle cx="614.95" cy="365.05" r="0.6" fill="#000" fill-opacity="0.72"/>
<circle cx="610.79" cy="364.36" r="0.6" fill="#000" fill-opacity="0.72"/>
<circle cx="611.31" cy="363.88" r="0.6" fill="#000" fill-opacity="0.72"/>
<circle cx="611" cy="367.03" r="0.6" fill="#000" fill-opacity="0.72"/>
<circle cx="614.83" cy="361.54" r="0.6" fill="#000" fill-opacity="0.72"/>
<circle cx="612.74" cy="365.82" r="0.6" fill="#000" fill-opacity="0.72"/>
<circle cx="616.65" cy="366.65" r="0.6" fill="#000" fill-opacity="0.72"/>
<circle cx="614.05" cy="366.8" r="0.6" fill="#000" fill-opacity="0.72"/>
<circle cx="613.12" cy="364.49" r="0.6" fill="#000" fill-opacity="0.72"/>
<circle cx="616.68" cy="367.26" r="0.6" fill="#000" fill-opacity="0.72"/>
<circle cx="610.26" cy="363.75" r="0.6" fill="#000" fill-opacity="0.72"/>
<circle cx="611.41" cy="367.41" r="0.6" fill="#000" fill-opacity="0.72"/>
<circle cx="619.95" cy="379.81" r="0.6" fill="#000" fill-opacity="0.72"/>
<circle cx="619.71" cy="383.74" r="0.6" fill="#000" fill-opacity="0.72"/>
<circle cx="618.75" cy="378.91" r="0.6" fill="#000" fill-opacity="0.72"/>
<circle cx="617.91" cy="380.84" r="0.6" fill="#000" fill-opacity="0.72"/>
<circle cx="623.97" cy="382.98" r="0.6" fill="#000" fill-opacity="0.72"/>
<circle cx="624.82" cy="381.42" r="0.6" fill="#000" fill-opacity="0.72"/>
<circle cx="624.88" cy="380.64" r="0.6" fill="#000" fill-opacity="0.72"/>
<circle cx="624.8" cy="382.66" r="0.6" fill="#000" fill-opacity="0.72"/>
<circle cx="622.81" cy="379.17" r="0.6" fill="#000" fill-opacity="0.72"/>
<circle cx="628.63" cy="372.01" r="0.6" fill="#000" fill-opacity="0.72"/>
<circle cx="628.78" cy="368.3" r="0.6" fill="#000" fill-opacity="0.72"/>
<circle cx="627.37" cy="373.08" r="0.6" fill="#000" fill-opacity="0.72"/>
<circle cx="633.77" cy="351.53" r="0.6" fill="#000" fill-opacity="0.72"/>
<circle cx="631.02" cy="350.31" r="0.6" fill="#000" fill-opacity="0.72"/>
<circle cx="631.18" cy="345.9" r="0.6" fill="#000" fill-opacity="0.72"/>
<circle cx="632.89" cy="349.37" r="0.6" fill="#000" fill-opacity="0.72"/>
<circle cx="631.05" cy="348.39" r="0.6" fill="#000" fill-opacity="0.72"/>
<circle cx="631.27" cy="350.32" r="0.6" fill="#000" fill-opacity="0.72"/>
<circle cx="638.77" cy="330.53" r="0.6" fill="#000" fill-opacity="0.72"/>
<circle cx="636.61" cy="335.04" r="0.6" fill="#000" fill-opacity="0.72"/>
<circle cx="637.45" cy="330.84" r="0.6" fill="#000" fill-opacity="0.72"/>
<circle cx="639.46" cy="337.05" r="0.6" fill="#000" fill-opacity="0.72"/>
<circle cx="639.13" cy="331.52" r="0.6" fill="#000" fill-opacity="0.72"/>
<circle cx="638.86" cy="332.86" r="0.6" fill="#000" fill-opacity="0.72"/>
<circle cx="637.22" cy="333.25" r="0.6" fill="#000" fill-opacity="0.72"/>
<circle cx="637.15" cy="333.35" r="0.6" fill="#000" fill-opacity="0.72"/>
<circle cx="643.4" cy="344.98" r="0.6" fill="#000" fill-opacity="0.72"/>
<circle cx="643.14" cy="345.63" r="0.6" fill="#000" fill-opacity="0.72"/>
<circle cx="645.2" cy="330.88" r="0.6" fill="#000" fill-opacity="0.72"/>
<circle cx="647.29" cy="330.37" r="0.6" fill="#000" fill-opacity="0.72"/>
<circle cx="646.49" cy="331.64" r="0.6" fill="#000" fill-opacity="0.72"/>
<circle cx="652.32" cy="336.72" r="0.6" fill="#000" fill-opacity="0.72"/>
<circle cx="650.06" cy="337.43" r="0.6" fill="#000" fill-opacity="0.72"/>
<circle cx="650.95" cy="335.79" r="0.6" fill="#000" fill-opacity="0.72"/>
<circle cx="653.35" cy="335.36" r="0.6" fill="#000" fill-opacity="0.72"/>
<circle cx="652.72" cy="332.85" r="0.6" fill="#000" fill-opacity="0.72"/>
<circle cx="649.63" cy="335.51" r="0.6" fill="#000" fill-opacity="0.72"/>
<circle cx="652.27" cy="331.19" r="0.6" fill="#000" fill-opacity="0.72"/>
<circle cx="659.15" cy="350.96" r="0.6" fill="#000" fill-opacity="0.72"/>
<circle cx="659.45" cy="350.32" r="0.6" fill="#000" fill-opacity="0.72"/>
<circle cx="654.92" cy="348.57" r="0.6" fill="#000" fill-opacity="0.72"/>
<circle cx="655.87" cy="349.23" r="0.6" fill="#000" fill-opacity="0.72"/>
<circle cx="655" cy="349.62" r="0.6" fill="#000" fill-opacity="0.72"/>
<circle cx="657.93" cy="350.35" r="0.6" fill="#000" fill-opacity="0.72"/>
<circle cx="660.19" cy="347.37" r="0.6" fill="#000" fill-opacity="0.72"/>
<circle cx="659.98" cy="351.26" r="0.6" fill="#000" fill-opacity="0.72"/>
<circle cx="663.55" cy="379.21" r="0.6" fill="#000" fill-opacity="0.72"/>
<circle cx="662.33" cy="379.62" r="0.6" fill="#000" fill-opacity="0.72"/>
<circle cx="664.28" cy="377.83" r="0.6" fill="#000" fill-opacity="0.72"/>
<circle cx="664.62" cy="380.92" r="0.6" fill="#000" fill-opacity="0.72"/>
<circle cx="663.53" cy="377.44" r="0.6" fill="#000" fill-opacity="0.72"/>
<circle cx="663.77" cy="380.85" r="0.6" fill="#000" fill-opacity="0.72"/>
<circle cx="669.19" cy="344.16" r="0.6" fill="#000" fill-opacity="0.72"/>
<circle cx="667.88" cy="341.42" r="0.6" fill="#000" fill-opacity="0.72"/>
<circle cx="670.29" cy="333.65" r="0.6" fill="#000" fill-opacity="0.72"/>
<circle cx="671.06" cy="336.29" r="0.6" fill="#000" fill-opacity="0.72"/>
<circle cx="672.67" cy="343.66" r="0.6" fill="#000" fill-opacity="0.72"/>
<circle cx="673.7" cy="345.01" r="0.6" fill="#000" fill-opacity="0.72"/>
<circle cx="676.18" cy="359.15" r="0.6" fill="#000" fill-opacity="0.72"/>
<circle cx="674.69" cy="363.76" r="0.6" fill="#000" fill-opacity="0.72"/>
<rect x="379.8" y="432" width="297.5" height="79.3" fill="#E5ECF6"/>
<rect x="380.6" y="433" width="3.4" height="77.7" fill="#F87474"/>
<rect x="384" y="433" width="2.8" height="77.7" fill="#EDEE8A"/>
<rect x="386.8" y="433" width="6.4" height="77.7" fill="#5CEE7A"/>
<rect x="393.6" y="433" width="5.4" height="77.7" fill="#F2EE22"/>
<rect x="399.7" y="433" width="5.8" height="77.7" fill="#7B70F5"/>
<rect x="405.9" y="433" width="3.2" height="77.7" fill="#F2EE22"/>
<rect x="409.5" y="433" width="3.5" height="77.7" fill="#7B70F5"/>
<rect x="413.6" y="433" width="10.2" height="77.7" fill="#F87474"/>
<rect x="424.2" y="433" width="2.3" height="77.7" fill="#7B70F5"/>
<rect x="426.5" y="433" width="2.7" height="77.7" fill="#EDEE8A"/>
<rect x="429.2" y="433" width="2.7" height="77.7" fill="#5CEE7A"/>
<rect x="431.9" y="433" width="1.8" height="77.7" fill="#EDEE8A"/>
<rect x="434" y="433" width="12.2" height="77.7" fill="#F87474"/>
<rect x="447.1" y="433" width="2.9" height="77.7" fill="#F87474"/>
<rect x="450.7" y="433" width="9.9" height="77.7" fill="#F87474"/>
<rect x="461.8" y="433" width="6.2" height="77.7" fill="#7B70F5"/>
<rect x="469" y="433" width="7.5" height="77.7" fill="#5CEE7A"/>
<rect x="477" y="433" width="4.5" height="77.7" fill="#F2EE22"/>
<rect x="481.5" y="433" width="0.9" height="77.7" fill="#5CEE7A"/>
<rect x="482.9" y="433" width="3.1" height="77.7" fill="#7B70F5"/>
<rect x="486.8" y="433" width="3.6" height="77.7" fill="#F87474"/>
<rect x="491.3" y="433" width="4.5" height="77.7" fill="#F87474"/>
<rect x="496.7" y="433" width="5.3" height="77.7" fill="#F2EE22"/>
<rect x="502.6" y="433" width="3.9" height="77.7" fill="#F87474"/>
<rect x="506.9" y="433" width="4.1" height="77.7" fill="#F87474"/>
<rect x="511.9" y="433" width="8.9" height="77.7" fill="#5CEE7A"/>
<rect x="521.7" y="433" width="3.6" height="77.7" fill="#7B70F5"/>
<rect x="526.2" y="433" width="11.6" height="77.7" fill="#7B70F5"/>
<rect x="538.6" y="433" width="8" height="77.7" fill="#F87474"/>
<rect x="547.2" y="433" width="3.5" height="77.7" fill="#F87474"/>
<rect x="551.5" y="433" width="3.2" height="77.7" fill="#F2EE22"/>
<rect x="555.6" y="433" width="0.9" height="77.7" fill="#F87474"/>
<rect x="557.4" y="433" width="17" height="77.7" fill="#F87474"/>
<rect x="575.3" y="433" width="6.6" height="77.7" fill="#7B70F5"/>
<rect x="582.4" y="433" width="5.4" height="77.7" fill="#F2EE22"/>
<rect x="588.7" y="433" width="16.1" height="77.7" fill="#7B70F5"/>
<rect x="605.7" y="433" width="11.5" height="77.7" fill="#7B70F5"/>
<rect x="617.5" y="433" width="3.1" height="77.7" fill="#5CEE7A"/>
<rect x="620.9" y="433" width="5.2" height="77.7" fill="#5CEE7A"/>
<rect x="626.1" y="433" width="2.7" height="77.7" fill="#F2EE22"/>
<rect x="629.5" y="433" width="5" height="77.7" fill="#7B70F5"/>
<rect x="635" y="433" width="6.7" height="77.7" fill="#F87474"/>
<rect x="641.7" y="433" width="2.3" height="77.7" fill="#F2EE22"/>
<rect x="644.4" y="433" width="3.2" height="77.7" fill="#F87474"/>
<rect x="648" y="433" width="5.7" height="77.7" fill="#F2EE22"/>
<rect x="654.2" y="433" width="7.2" height="77.7" fill="#7B70F5"/>
<rect x="661.9" y="433" width="4.8" height="77.7" fill="#F2EE22"/>
<rect x="667.3" y="433" width="4.8" height="77.7" fill="#F87474"/>
<rect x="672.6" y="433" width="4" height="77.7" fill="#7B70F5"/>
<polyline fill="none" points="380.6,449.3 384,449.3 384,467 386.8,467 386.8,494 393.6,494 393.6,483 399.7,483 399.7,455 405.9,455 405.9,484 409.5,484 409.5,473.3 413.6,473.3 413.6,454.6 424.2,454.6 424.2,461.7 426.5,461.7 426.5,489.5 429.2,489.5 429.2,489.5 431.9,489.5 431.9,489.5 434,489.5 434,457.3 447.1,457.3 447.1,457.3 450.7,457.3 450.7,457.3 461.8,457.3 461.8,466.1 469,466.1 469,487.6 477,487.6 477,493 481.5,493 481.5,485 482.9,485 482.9,462.6 486.8,462.6 486.8,457.2 491.3,457.2 491.3,452.7 496.7,452.7 496.7,462 502.6,462 502.6,461.7 506.9,461.7 506.9,459 511.9,459 511.9,476.9 514,476.9 514,487.6 521.7,487.6 521.7,458.1 526.2,458.1 526.2,472.4 529,472.4 529,478.7 538.6,478.7 538.6,463.5 547.2,463.5 547.2,458 551.5,458 551.5,467 555.6,467 555.6,459.9 557.4,459.9 557.4,456.3 575.3,456.3 575.3,465.3 582.4,465.3 582.4,485.8 588.7,485.8 588.7,464.4 605.7,464.4 605.7,472.4 607.5,472.4 607.5,478.7 617.5,478.7 617.5,491.2 620.9,491.2 620.9,491.2 626.1,491.2 626.1,483.1 629.5,483.1 629.5,464.4 635,464.4 635,449.2 641.7,449.2 641.7,460.8 644.4,460.8 644.4,447.4 648,447.4 648,451.8 654.2,451.8 654.2,462.6 661.9,462.6 661.9,489.4 667.3,489.4 667.3,454.4 669.5,454.4 669.5,448.7 672.6,448.7 672.6,460 674.5,460 674.5,474 676.6,474" stroke="#FFFFFF" stroke-width="1.3"/>
<circle cx="383.53" cy="452.82" r="0.6" fill="#000" fill-opacity="0.72"/>
<circle cx="382.8" cy="449.53" r="0.6" fill="#000" fill-opacity="0.72"/>
<circle cx="383.02" cy="452.72" r="0.6" fill="#000" fill-opacity="0.72"/>
<circle cx="381.2" cy="449.64" r="0.6" fill="#000" fill-opacity="0.72"/>
<circle cx="384.57" cy="469.31" r="0.6" fill="#000" fill-opacity="0.72"/>
<circle cx="385.36" cy="468.69" r="0.6" fill="#000" fill-opacity="0.72"/>
<circle cx="384.61" cy="469.22" r="0.6" fill="#000" fill-opacity="0.72"/>
<circle cx="391.03" cy="498.01" r="0.6" fill="#000" fill-opacity="0.72"/>
<circle cx="388.23" cy="495.24" r="0.6" fill="#000" fill-opacity="0.72"/>
<circle cx="387.31" cy="496.21" r="0.6" fill="#000" fill-opacity="0.72"/>
<circle cx="392.52" cy="494.41" r="0.6" fill="#000" fill-opacity="0.72"/>
<circle cx="392.13" cy="495.8" r="0.6" fill="#000" fill-opacity="0.72"/>
<circle cx="389.69" cy="494.33" r="0.6" fill="#000" fill-opacity="0.72"/>
<circle cx="387.66" cy="498.29" r="0.6" fill="#000" fill-opacity="0.72"/>
<circle cx="390.74" cy="493.42" r="0.6" fill="#000" fill-opacity="0.72"/>
<circle cx="396.07" cy="482.11" r="0.6" fill="#000" fill-opacity="0.72"/>
<circle cx="396.19" cy="486.99" r="0.6" fill="#000" fill-opacity="0.72"/>
<circle cx="396.92" cy="484.84" r="0.6" fill="#000" fill-opacity="0.72"/>
<circle cx="394.17" cy="485.05" r="0.6" fill="#000" fill-opacity="0.72"/>
<circle cx="397.33" cy="483" r="0.6" fill="#000" fill-opacity="0.72"/>
<circle cx="398.08" cy="483.65" r="0.6" fill="#000" fill-opacity="0.72"/>
<circle cx="401.39" cy="455.06" r="0.6" fill="#000" fill-opacity="0.72"/>
<circle cx="401.41" cy="456.58" r="0.6" fill="#000" fill-opacity="0.72"/>
<circle cx="404.37" cy="455.42" r="0.6" fill="#000" fill-opacity="0.72"/>
<circle cx="402.55" cy="456.99" r="0.6" fill="#000" fill-opacity="0.72"/>
<circle cx="401.65" cy="456.77" r="0.6" fill="#000" fill-opacity="0.72"/>
<circle cx="405.09" cy="455.47" r="0.6" fill="#000" fill-opacity="0.72"/>
<circle cx="400.3" cy="458.23" r="0.6" fill="#000" fill-opacity="0.72"/>
<circle cx="406.75" cy="483.27" r="0.6" fill="#000" fill-opacity="0.72"/>
<circle cx="407.44" cy="484.67" r="0.6" fill="#000" fill-opacity="0.72"/>
<circle cx="406.72" cy="486.43" r="0.6" fill="#000" fill-opacity="0.72"/>
<circle cx="407.15" cy="491.71" r="0.6" fill="#000" fill-opacity="0.72"/>
<circle cx="412.48" cy="473.92" r="0.6" fill="#000" fill-opacity="0.72"/>
<circle cx="410.08" cy="473.31" r="0.6" fill="#000" fill-opacity="0.72"/>
<circle cx="409.97" cy="478.22" r="0.6" fill="#000" fill-opacity="0.72"/>
<circle cx="411.91" cy="472.88" r="0.6" fill="#000" fill-opacity="0.72"/>
<circle cx="414.05" cy="460.67" r="0.6" fill="#000" fill-opacity="0.72"/>
<circle cx="421.65" cy="455.04" r="0.6" fill="#000" fill-opacity="0.72"/>
<circle cx="413.92" cy="456.48" r="0.6" fill="#000" fill-opacity="0.72"/>
<circle cx="421.89" cy="454.4" r="0.6" fill="#000" fill-opacity="0.72"/>
<circle cx="418.08" cy="455.4" r="0.6" fill="#000" fill-opacity="0.72"/>
<circle cx="422.66" cy="456.09" r="0.6" fill="#000" fill-opacity="0.72"/>
<circle cx="415.23" cy="458.02" r="0.6" fill="#000" fill-opacity="0.72"/>
<circle cx="415.63" cy="455.98" r="0.6" fill="#000" fill-opacity="0.72"/>
<circle cx="415.79" cy="452.63" r="0.6" fill="#000" fill-opacity="0.72"/>
<circle cx="414.66" cy="457.82" r="0.6" fill="#000" fill-opacity="0.72"/>
<circle cx="418.66" cy="456.96" r="0.6" fill="#000" fill-opacity="0.72"/>
<circle cx="416.53" cy="456.31" r="0.6" fill="#000" fill-opacity="0.72"/>
<circle cx="420.69" cy="458.12" r="0.6" fill="#000" fill-opacity="0.72"/>
<circle cx="425.88" cy="461.59" r="0.6" fill="#000" fill-opacity="0.72"/>
<circle cx="424.61" cy="462.06" r="0.6" fill="#000" fill-opacity="0.72"/>
<circle cx="428.34" cy="487.95" r="0.6" fill="#000" fill-opacity="0.72"/>
<circle cx="426.92" cy="492.16" r="0.6" fill="#000" fill-opacity="0.72"/>
<circle cx="428.5" cy="488.64" r="0.6" fill="#000" fill-opacity="0.72"/>
<circle cx="431.32" cy="493.64" r="0.6" fill="#000" fill-opacity="0.72"/>
<circle cx="430.54" cy="494.65" r="0.6" fill="#000" fill-opacity="0.72"/>
<circle cx="430.5" cy="490.9" r="0.6" fill="#000" fill-opacity="0.72"/>
<circle cx="433.25" cy="490.38" r="0.6" fill="#000" fill-opacity="0.72"/>
<circle cx="433.2" cy="491.71" r="0.6" fill="#000" fill-opacity="0.72"/>
<circle cx="438.56" cy="459.25" r="0.6" fill="#000" fill-opacity="0.72"/>
<circle cx="441.2" cy="459.87" r="0.6" fill="#000" fill-opacity="0.72"/>
<circle cx="434.35" cy="456.25" r="0.6" fill="#000" fill-opacity="0.72"/>
<circle cx="440.28" cy="458.04" r="0.6" fill="#000" fill-opacity="0.72"/>
<circle cx="435.7" cy="457.53" r="0.6" fill="#000" fill-opacity="0.72"/>
<circle cx="444.34" cy="454.89" r="0.6" fill="#000" fill-opacity="0.72"/>
<circle cx="438.02" cy="457.85" r="0.6" fill="#000" fill-opacity="0.72"/>
<circle cx="443.02" cy="456.49" r="0.6" fill="#000" fill-opacity="0.72"/>
<circle cx="435.01" cy="461.59" r="0.6" fill="#000" fill-opacity="0.72"/>
<circle cx="440.04" cy="454.92" r="0.6" fill="#000" fill-opacity="0.72"/>
<circle cx="440.25" cy="455.98" r="0.6" fill="#000" fill-opacity="0.72"/>
<circle cx="434.54" cy="457.85" r="0.6" fill="#000" fill-opacity="0.72"/>
<circle cx="445.52" cy="458.5" r="0.6" fill="#000" fill-opacity="0.72"/>
<circle cx="435.49" cy="459.49" r="0.6" fill="#000" fill-opacity="0.72"/>
<circle cx="437.21" cy="458.49" r="0.6" fill="#000" fill-opacity="0.72"/>
<circle cx="447.62" cy="457.87" r="0.6" fill="#000" fill-opacity="0.72"/>
<circle cx="449.01" cy="458.42" r="0.6" fill="#000" fill-opacity="0.72"/>
<circle cx="448.78" cy="458.64" r="0.6" fill="#000" fill-opacity="0.72"/>
<circle cx="456.36" cy="455.37" r="0.6" fill="#000" fill-opacity="0.72"/>
<circle cx="451.96" cy="457.88" r="0.6" fill="#000" fill-opacity="0.72"/>
<circle cx="459.09" cy="458.18" r="0.6" fill="#000" fill-opacity="0.72"/>
<circle cx="452.14" cy="457.73" r="0.6" fill="#000" fill-opacity="0.72"/>
<circle cx="455.59" cy="456.76" r="0.6" fill="#000" fill-opacity="0.72"/>
<circle cx="452.13" cy="458.29" r="0.6" fill="#000" fill-opacity="0.72"/>
<circle cx="454.77" cy="459.96" r="0.6" fill="#000" fill-opacity="0.72"/>
<circle cx="459.01" cy="460.23" r="0.6" fill="#000" fill-opacity="0.72"/>
<circle cx="452.37" cy="455.48" r="0.6" fill="#000" fill-opacity="0.72"/>
<circle cx="452.53" cy="456.91" r="0.6" fill="#000" fill-opacity="0.72"/>
<circle cx="458.68" cy="460.04" r="0.6" fill="#000" fill-opacity="0.72"/>
<circle cx="454.91" cy="457.58" r="0.6" fill="#000" fill-opacity="0.72"/>
<circle cx="466.8" cy="465.22" r="0.6" fill="#000" fill-opacity="0.72"/>
<circle cx="467.37" cy="466.79" r="0.6" fill="#000" fill-opacity="0.72"/>
<circle cx="466.45" cy="466.36" r="0.6" fill="#000" fill-opacity="0.72"/>
<circle cx="463.98" cy="468.3" r="0.6" fill="#000" fill-opacity="0.72"/>
<circle cx="464.54" cy="470.51" r="0.6" fill="#000" fill-opacity="0.72"/>
<circle cx="467.21" cy="466.7" r="0.6" fill="#000" fill-opacity="0.72"/>
<circle cx="466.66" cy="467.46" r="0.6" fill="#000" fill-opacity="0.72"/>
<circle cx="472.87" cy="488.08" r="0.6" fill="#000" fill-opacity="0.72"/>
<circle cx="475.91" cy="489.92" r="0.6" fill="#000" fill-opacity="0.72"/>
<circle cx="472.21" cy="488.02" r="0.6" fill="#000" fill-opacity="0.72"/>
<circle cx="473.67" cy="487.06" r="0.6" fill="#000" fill-opacity="0.72"/>
<circle cx="469.78" cy="490.36" r="0.6" fill="#000" fill-opacity="0.72"/>
<circle cx="472.29" cy="488.21" r="0.6" fill="#000" fill-opacity="0.72"/>
<circle cx="470.26" cy="488.59" r="0.6" fill="#000" fill-opacity="0.72"/>
<circle cx="475.99" cy="489.34" r="0.6" fill="#000" fill-opacity="0.72"/>
<circle cx="473.67" cy="484.2" r="0.6" fill="#000" fill-opacity="0.72"/>
<circle cx="480.46" cy="496.95" r="0.6" fill="#000" fill-opacity="0.72"/>
<circle cx="477.43" cy="491.38" r="0.6" fill="#000" fill-opacity="0.72"/>
<circle cx="479.8" cy="493.72" r="0.6" fill="#000" fill-opacity="0.72"/>
<circle cx="478.37" cy="496.85" r="0.6" fill="#000" fill-opacity="0.72"/>
<circle cx="479.41" cy="496.35" r="0.6" fill="#000" fill-opacity="0.72"/>
<circle cx="481.88" cy="484.79" r="0.6" fill="#000" fill-opacity="0.72"/>
<circle cx="484.5" cy="459.33" r="0.6" fill="#000" fill-opacity="0.72"/>
<circle cx="483.92" cy="465.49" r="0.6" fill="#000" fill-opacity="0.72"/>
<circle cx="483.96" cy="463.02" r="0.6" fill="#000" fill-opacity="0.72"/>
<circle cx="488.88" cy="457.43" r="0.6" fill="#000" fill-opacity="0.72"/>
<circle cx="489.97" cy="456.7" r="0.6" fill="#000" fill-opacity="0.72"/>
<circle cx="488.5" cy="458.07" r="0.6" fill="#000" fill-opacity="0.72"/>
<circle cx="488.7" cy="458.78" r="0.6" fill="#000" fill-opacity="0.72"/>
<circle cx="492.11" cy="454.48" r="0.6" fill="#000" fill-opacity="0.72"/>
<circle cx="492.75" cy="452.4" r="0.6" fill="#000" fill-opacity="0.72"/>
<circle cx="492.55" cy="454.57" r="0.6" fill="#000" fill-opacity="0.72"/>
<circle cx="491.94" cy="450.22" r="0.6" fill="#000" fill-opacity="0.72"/>
<circle cx="493.98" cy="452.66" r="0.6" fill="#000" fill-opacity="0.72"/>
<circle cx="499.68" cy="462.25" r="0.6" fill="#000" fill-opacity="0.72"/>
<circle cx="500.34" cy="461.97" r="0.6" fill="#000" fill-opacity="0.72"/>
<circle cx="499.17" cy="460.5" r="0.6" fill="#000" fill-opacity="0.72"/>
<circle cx="499.2" cy="462.22" r="0.6" fill="#000" fill-opacity="0.72"/>
<circle cx="498.46" cy="463.07" r="0.6" fill="#000" fill-opacity="0.72"/>
<circle cx="499.41" cy="464.34" r="0.6" fill="#000" fill-opacity="0.72"/>
<circle cx="504.16" cy="462.45" r="0.6" fill="#000" fill-opacity="0.72"/>
<circle cx="504.06" cy="462.55" r="0.6" fill="#000" fill-opacity="0.72"/>
<circle cx="505.74" cy="462.87" r="0.6" fill="#000" fill-opacity="0.72"/>
<circle cx="504.52" cy="465.12" r="0.6" fill="#000" fill-opacity="0.72"/>
<circle cx="508.2" cy="461.59" r="0.6" fill="#000" fill-opacity="0.72"/>
<circle cx="509.9" cy="459.88" r="0.6" fill="#000" fill-opacity="0.72"/>
<circle cx="507.75" cy="463.51" r="0.6" fill="#000" fill-opacity="0.72"/>
<circle cx="508.74" cy="461.57" r="0.6" fill="#000" fill-opacity="0.72"/>
<circle cx="507.42" cy="458.44" r="0.6" fill="#000" fill-opacity="0.72"/>
<circle cx="513.3" cy="479.22" r="0.6" fill="#000" fill-opacity="0.72"/>
<circle cx="512.36" cy="478.65" r="0.6" fill="#000" fill-opacity="0.72"/>
<circle cx="518.88" cy="493.35" r="0.6" fill="#000" fill-opacity="0.72"/>
<circle cx="515.26" cy="487.68" r="0.6" fill="#000" fill-opacity="0.72"/>
<circle cx="518.49" cy="490.11" r="0.6" fill="#000" fill-opacity="0.72"/>
<circle cx="518.12" cy="490.67" r="0.6" fill="#000" fill-opacity="0.72"/>
<circle cx="517.51" cy="485.75" r="0.6" fill="#000" fill-opacity="0.72"/>
<circle cx="518.88" cy="488.46" r="0.6" fill="#000" fill-opacity="0.72"/>
<circle cx="517.25" cy="485.39" r="0.6" fill="#000" fill-opacity="0.72"/>
<circle cx="519.17" cy="487.51" r="0.6" fill="#000" fill-opacity="0.72"/>
<circle cx="522.38" cy="455.03" r="0.6" fill="#000" fill-opacity="0.72"/>
<circle cx="524.61" cy="462.34" r="0.6" fill="#000" fill-opacity="0.72"/>
<circle cx="523.76" cy="459.19" r="0.6" fill="#000" fill-opacity="0.72"/>
<circle cx="523.49" cy="461.51" r="0.6" fill="#000" fill-opacity="0.72"/>
<circle cx="527.42" cy="472.83" r="0.6" fill="#000" fill-opacity="0.72"/>
<circle cx="528.22" cy="475.21" r="0.6" fill="#000" fill-opacity="0.72"/>
<circle cx="527.34" cy="471.54" r="0.6" fill="#000" fill-opacity="0.72"/>
<circle cx="533.01" cy="476.76" r="0.6" fill="#000" fill-opacity="0.72"/>
<circle cx="531.7" cy="480.5" r="0.6" fill="#000" fill-opacity="0.72"/>
<circle cx="532.5" cy="477.94" r="0.6" fill="#000" fill-opacity="0.72"/>
<circle cx="531.94" cy="479.06" r="0.6" fill="#000" fill-opacity="0.72"/>
<circle cx="535.75" cy="481.01" r="0.6" fill="#000" fill-opacity="0.72"/>
<circle cx="532.94" cy="477.89" r="0.6" fill="#000" fill-opacity="0.72"/>
<circle cx="530.81" cy="479.35" r="0.6" fill="#000" fill-opacity="0.72"/>
<circle cx="534.02" cy="480.7" r="0.6" fill="#000" fill-opacity="0.72"/>
<circle cx="534.07" cy="483.34" r="0.6" fill="#000" fill-opacity="0.72"/>
<circle cx="531.96" cy="481.94" r="0.6" fill="#000" fill-opacity="0.72"/>
<circle cx="536.22" cy="482.22" r="0.6" fill="#000" fill-opacity="0.72"/>
<circle cx="540.41" cy="460.42" r="0.6" fill="#000" fill-opacity="0.72"/>
<circle cx="542.06" cy="464.74" r="0.6" fill="#000" fill-opacity="0.72"/>
<circle cx="539.25" cy="464.35" r="0.6" fill="#000" fill-opacity="0.72"/>
<circle cx="543.08" cy="460.23" r="0.6" fill="#000" fill-opacity="0.72"/>
<circle cx="544.62" cy="464.57" r="0.6" fill="#000" fill-opacity="0.72"/>
<circle cx="542.88" cy="466.79" r="0.6" fill="#000" fill-opacity="0.72"/>
<circle cx="542.73" cy="464.48" r="0.6" fill="#000" fill-opacity="0.72"/>
<circle cx="543.97" cy="463.13" r="0.6" fill="#000" fill-opacity="0.72"/>
<circle cx="543.3" cy="465.64" r="0.6" fill="#000" fill-opacity="0.72"/>
<circle cx="541.5" cy="467.2" r="0.6" fill="#000" fill-opacity="0.72"/>
<circle cx="549.02" cy="458.08" r="0.6" fill="#000" fill-opacity="0.72"/>
<circle cx="547.79" cy="457.65" r="0.6" fill="#000" fill-opacity="0.72"/>
<circle cx="549.13" cy="460.36" r="0.6" fill="#000" fill-opacity="0.72"/>
<circle cx="549.16" cy="462.57" r="0.6" fill="#000" fill-opacity="0.72"/>
<circle cx="553.07" cy="464.64" r="0.6" fill="#000" fill-opacity="0.72"/>
<circle cx="552.94" cy="463.51" r="0.6" fill="#000" fill-opacity="0.72"/>
<circle cx="552.69" cy="463.53" r="0.6" fill="#000" fill-opacity="0.72"/>
<circle cx="553.18" cy="468.47" r="0.6" fill="#000" fill-opacity="0.72"/>
<circle cx="556" cy="459.84" r="0.6" fill="#000" fill-opacity="0.72"/>
<circle cx="573.75" cy="458.35" r="0.6" fill="#000" fill-opacity="0.72"/>
<circle cx="559.51" cy="455.28" r="0.6" fill="#000" fill-opacity="0.72"/>
<circle cx="572.37" cy="456" r="0.6" fill="#000" fill-opacity="0.72"/>
<circle cx="573.94" cy="454.03" r="0.6" fill="#000" fill-opacity="0.72"/>
<circle cx="572.27" cy="456.33" r="0.6" fill="#000" fill-opacity="0.72"/>
<circle cx="562.45" cy="457.83" r="0.6" fill="#000" fill-opacity="0.72"/>
<circle cx="566.09" cy="456.07" r="0.6" fill="#000" fill-opacity="0.72"/>
<circle cx="560.69" cy="457.26" r="0.6" fill="#000" fill-opacity="0.72"/>
<circle cx="568.03" cy="455.89" r="0.6" fill="#000" fill-opacity="0.72"/>
<circle cx="574" cy="456.23" r="0.6" fill="#000" fill-opacity="0.72"/>
<circle cx="568.14" cy="459.19" r="0.6" fill="#000" fill-opacity="0.72"/>
<circle cx="570.62" cy="457.81" r="0.6" fill="#000" fill-opacity="0.72"/>
<circle cx="562.73" cy="457.24" r="0.6" fill="#000" fill-opacity="0.72"/>
<circle cx="562.69" cy="457.14" r="0.6" fill="#000" fill-opacity="0.72"/>
<circle cx="571.51" cy="454.88" r="0.6" fill="#000" fill-opacity="0.72"/>
<circle cx="560.93" cy="455.85" r="0.6" fill="#000" fill-opacity="0.72"/>
<circle cx="565.86" cy="455.89" r="0.6" fill="#000" fill-opacity="0.72"/>
<circle cx="568.31" cy="456.81" r="0.6" fill="#000" fill-opacity="0.72"/>
<circle cx="566.42" cy="459.78" r="0.6" fill="#000" fill-opacity="0.72"/>
<circle cx="564.44" cy="457.25" r="0.6" fill="#000" fill-opacity="0.72"/>
<circle cx="559.69" cy="459.07" r="0.6" fill="#000" fill-opacity="0.72"/>
<circle cx="576.24" cy="468.97" r="0.6" fill="#000" fill-opacity="0.72"/>
<circle cx="576.2" cy="467.41" r="0.6" fill="#000" fill-opacity="0.72"/>
<circle cx="580.54" cy="468.33" r="0.6" fill="#000" fill-opacity="0.72"/>
<circle cx="579.28" cy="466.54" r="0.6" fill="#000" fill-opacity="0.72"/>
<circle cx="575.67" cy="465.66" r="0.6" fill="#000" fill-opacity="0.72"/>
<circle cx="580.22" cy="464.97" r="0.6" fill="#000" fill-opacity="0.72"/>
<circle cx="577.72" cy="469" r="0.6" fill="#000" fill-opacity="0.72"/>
<circle cx="576.62" cy="466.21" r="0.6" fill="#000" fill-opacity="0.72"/>
<circle cx="587.04" cy="487.66" r="0.6" fill="#000" fill-opacity="0.72"/>
<circle cx="585.49" cy="485.59" r="0.6" fill="#000" fill-opacity="0.72"/>
<circle cx="584.55" cy="488.49" r="0.6" fill="#000" fill-opacity="0.72"/>
<circle cx="582.96" cy="488.74" r="0.6" fill="#000" fill-opacity="0.72"/>
<circle cx="587.31" cy="485.21" r="0.6" fill="#000" fill-opacity="0.72"/>
<circle cx="584.81" cy="485.75" r="0.6" fill="#000" fill-opacity="0.72"/>
<circle cx="589.68" cy="464.41" r="0.6" fill="#000" fill-opacity="0.72"/>
<circle cx="603.43" cy="466.41" r="0.6" fill="#000" fill-opacity="0.72"/>
<circle cx="602.93" cy="464.09" r="0.6" fill="#000" fill-opacity="0.72"/>
<circle cx="601.65" cy="464.55" r="0.6" fill="#000" fill-opacity="0.72"/>
<circle cx="603.88" cy="467.84" r="0.6" fill="#000" fill-opacity="0.72"/>
<circle cx="596.68" cy="466.75" r="0.6" fill="#000" fill-opacity="0.72"/>
<circle cx="595.04" cy="464.96" r="0.6" fill="#000" fill-opacity="0.72"/>
<circle cx="600.14" cy="465.69" r="0.6" fill="#000" fill-opacity="0.72"/>
<circle cx="602.57" cy="467.01" r="0.6" fill="#000" fill-opacity="0.72"/>
<circle cx="596.51" cy="465.78" r="0.6" fill="#000" fill-opacity="0.72"/>
<circle cx="591.69" cy="464.03" r="0.6" fill="#000" fill-opacity="0.72"/>
<circle cx="594.56" cy="467.37" r="0.6" fill="#000" fill-opacity="0.72"/>
<circle cx="593.51" cy="470.07" r="0.6" fill="#000" fill-opacity="0.72"/>
<circle cx="597.7" cy="467.16" r="0.6" fill="#000" fill-opacity="0.72"/>
<circle cx="594.98" cy="466.95" r="0.6" fill="#000" fill-opacity="0.72"/>
<circle cx="595.25" cy="466.29" r="0.6" fill="#000" fill-opacity="0.72"/>
<circle cx="601.8" cy="465.79" r="0.6" fill="#000" fill-opacity="0.72"/>
<circle cx="594.44" cy="465.44" r="0.6" fill="#000" fill-opacity="0.72"/>
<circle cx="593.4" cy="466.64" r="0.6" fill="#000" fill-opacity="0.72"/>
<circle cx="592.68" cy="468.14" r="0.6" fill="#000" fill-opacity="0.72"/>
<circle cx="606.41" cy="474.01" r="0.6" fill="#000" fill-opacity="0.72"/>
<circle cx="606.19" cy="473.17" r="0.6" fill="#000" fill-opacity="0.72"/>
<circle cx="610.25" cy="478.89" r="0.6" fill="#000" fill-opacity="0.72"/>
<circle cx="615.4" cy="481.13" r="0.6" fill="#000" fill-opacity="0.72"/>
<circle cx="615.41" cy="481.18" r="0.6" fill="#000" fill-opacity="0.72"/>
<circle cx="615.12" cy="480.66" r="0.6" fill="#000" fill-opacity="0.72"/>
<circle cx="614.37" cy="481.19" r="0.6" fill="#000" fill-opacity="0.72"/>
<circle cx="611.23" cy="480.95" r="0.6" fill="#000" fill-opacity="0.72"/>
<circle cx="616.45" cy="479.36" r="0.6" fill="#000" fill-opacity="0.72"/>
<circle cx="612.39" cy="480" r="0.6" fill="#000" fill-opacity="0.72"/>
<circle cx="608.99" cy="481.76" r="0.6" fill="#000" fill-opacity="0.72"/>
<circle cx="614.23" cy="479.42" r="0.6" fill="#000" fill-opacity="0.72"/>
<circle cx="613.15" cy="483.76" r="0.6" fill="#000" fill-opacity="0.72"/>
<circle cx="611.15" cy="479.76" r="0.6" fill="#000" fill-opacity="0.72"/>
<circle cx="618.33" cy="494.8" r="0.6" fill="#000" fill-opacity="0.72"/>
<circle cx="619.98" cy="493.83" r="0.6" fill="#000" fill-opacity="0.72"/>
<circle cx="619.16" cy="493.79" r="0.6" fill="#000" fill-opacity="0.72"/>
<circle cx="622.44" cy="492.46" r="0.6" fill="#000" fill-opacity="0.72"/>
<circle cx="624.22" cy="490.34" r="0.6" fill="#000" fill-opacity="0.72"/>
<circle cx="623.81" cy="491.5" r="0.6" fill="#000" fill-opacity="0.72"/>
<circle cx="621.6" cy="493.95" r="0.6" fill="#000" fill-opacity="0.72"/>
<circle cx="622.01" cy="493.19" r="0.6" fill="#000" fill-opacity="0.72"/>
<circle cx="624.25" cy="490.85" r="0.6" fill="#000" fill-opacity="0.72"/>
<circle cx="626.63" cy="482.44" r="0.6" fill="#000" fill-opacity="0.72"/>
<circle cx="627.45" cy="483.42" r="0.6" fill="#000" fill-opacity="0.72"/>
<circle cx="627.02" cy="485.6" r="0.6" fill="#000" fill-opacity="0.72"/>
<circle cx="630.8" cy="466.06" r="0.6" fill="#000" fill-opacity="0.72"/>
<circle cx="630.35" cy="465.08" r="0.6" fill="#000" fill-opacity="0.72"/>
<circle cx="631.57" cy="463.89" r="0.6" fill="#000" fill-opacity="0.72"/>
<circle cx="633.8" cy="466.02" r="0.6" fill="#000" fill-opacity="0.72"/>
<circle cx="633.59" cy="461.51" r="0.6" fill="#000" fill-opacity="0.72"/>
<circle cx="630.38" cy="465.32" r="0.6" fill="#000" fill-opacity="0.72"/>
<circle cx="639.45" cy="450.66" r="0.6" fill="#000" fill-opacity="0.72"/>
<circle cx="639.35" cy="449.03" r="0.6" fill="#000" fill-opacity="0.72"/>
<circle cx="639.32" cy="451.78" r="0.6" fill="#000" fill-opacity="0.72"/>
<circle cx="639.57" cy="450.24" r="0.6" fill="#000" fill-opacity="0.72"/>
<circle cx="637.45" cy="453.88" r="0.6" fill="#000" fill-opacity="0.72"/>
<circle cx="639.14" cy="450.59" r="0.6" fill="#000" fill-opacity="0.72"/>
<circle cx="640.87" cy="451.05" r="0.6" fill="#000" fill-opacity="0.72"/>
<circle cx="639.78" cy="450.07" r="0.6" fill="#000" fill-opacity="0.72"/>
<circle cx="642.07" cy="461.27" r="0.6" fill="#000" fill-opacity="0.72"/>
<circle cx="642.28" cy="462.32" r="0.6" fill="#000" fill-opacity="0.72"/>
<circle cx="645.69" cy="449.93" r="0.6" fill="#000" fill-opacity="0.72"/>
<circle cx="644.8" cy="447.39" r="0.6" fill="#000" fill-opacity="0.72"/>
<circle cx="645.17" cy="450.91" r="0.6" fill="#000" fill-opacity="0.72"/>
<circle cx="646.88" cy="445.67" r="0.6" fill="#000" fill-opacity="0.72"/>
<circle cx="649.6" cy="451.51" r="0.6" fill="#000" fill-opacity="0.72"/>
<circle cx="650.52" cy="452.09" r="0.6" fill="#000" fill-opacity="0.72"/>
<circle cx="648.3" cy="451.19" r="0.6" fill="#000" fill-opacity="0.72"/>
<circle cx="652.55" cy="453.06" r="0.6" fill="#000" fill-opacity="0.72"/>
<circle cx="648.52" cy="451.26" r="0.6" fill="#000" fill-opacity="0.72"/>
<circle cx="652.66" cy="452.34" r="0.6" fill="#000" fill-opacity="0.72"/>
<circle cx="649.55" cy="452.43" r="0.6" fill="#000" fill-opacity="0.72"/>
<circle cx="655.23" cy="463.94" r="0.6" fill="#000" fill-opacity="0.72"/>
<circle cx="660.54" cy="462.34" r="0.6" fill="#000" fill-opacity="0.72"/>
<circle cx="659.45" cy="466.11" r="0.6" fill="#000" fill-opacity="0.72"/>
<circle cx="657.1" cy="465.11" r="0.6" fill="#000" fill-opacity="0.72"/>
<circle cx="659.43" cy="464.33" r="0.6" fill="#000" fill-opacity="0.72"/>
<circle cx="655.09" cy="462.24" r="0.6" fill="#000" fill-opacity="0.72"/>
<circle cx="660.75" cy="459.71" r="0.6" fill="#000" fill-opacity="0.72"/>
<circle cx="659.06" cy="465.62" r="0.6" fill="#000" fill-opacity="0.72"/>
<circle cx="659.37" cy="464.89" r="0.6" fill="#000" fill-opacity="0.72"/>
<circle cx="664.1" cy="488.06" r="0.6" fill="#000" fill-opacity="0.72"/>
<circle cx="662.43" cy="489.76" r="0.6" fill="#000" fill-opacity="0.72"/>
<circle cx="664.35" cy="488.5" r="0.6" fill="#000" fill-opacity="0.72"/>
<circle cx="666.1" cy="492.64" r="0.6" fill="#000" fill-opacity="0.72"/>
<circle cx="662.38" cy="492.71" r="0.6" fill="#000" fill-opacity="0.72"/>
<circle cx="665.15" cy="490.91" r="0.6" fill="#000" fill-opacity="0.72"/>
<circle cx="668.47" cy="454.01" r="0.6" fill="#000" fill-opacity="0.72"/>
<circle cx="669.15" cy="453.85" r="0.6" fill="#000" fill-opacity="0.72"/>
<circle cx="670.3" cy="447.89" r="0.6" fill="#000" fill-opacity="0.72"/>
<circle cx="669.92" cy="448.47" r="0.6" fill="#000" fill-opacity="0.72"/>
<circle cx="670.2" cy="451.22" r="0.6" fill="#000" fill-opacity="0.72"/>
<circle cx="673.3" cy="462.95" r="0.6" fill="#000" fill-opacity="0.72"/>
<circle cx="673.77" cy="463.25" r="0.6" fill="#000" fill-opacity="0.72"/>
<circle cx="675.16" cy="475.12" r="0.6" fill="#000" fill-opacity="0.72"/>
<circle cx="675.47" cy="477.28" r="0.6" fill="#000" fill-opacity="0.72"/>
<text x="378.8" y="355.8" font-size="6.2" fill="#555f70" text-anchor="middle" font-weight="normal" transform="rotate(-90 378.8 355.8)">0</text>
<text x="378.8" y="390.2" font-size="6.2" fill="#555f70" text-anchor="middle" font-weight="normal" transform="rotate(-90 378.8 390.2)">−2</text>
<text x="378.8" y="437.9" font-size="6.2" fill="#555f70" text-anchor="middle" font-weight="normal" transform="rotate(-90 378.8 437.9)">2</text>
<text x="378.8" y="470" font-size="6.2" fill="#555f70" text-anchor="middle" font-weight="normal" transform="rotate(-90 378.8 470)">0</text>
<text x="378.8" y="501.2" font-size="6.2" fill="#555f70" text-anchor="middle" font-weight="normal" transform="rotate(-90 378.8 501.2)">−2</text>
<text x="362.2" y="355.7" font-size="7.4" fill="#3d4656" text-anchor="middle" font-weight="normal" transform="rotate(-90 362.2 355.7)" textLength="49.5" lengthAdjust="spacingAndGlyphs">Current (norm)</text>
<text x="362.2" y="472.2" font-size="7.4" fill="#3d4656" text-anchor="middle" font-weight="normal" transform="rotate(-90 362.2 472.2)" textLength="49.3" lengthAdjust="spacingAndGlyphs">Current (norm)</text>
<polygon points="430,398.6 425.6,405.6 434.4,405.6" fill="#2ADB2A" stroke="#1f2f1f" stroke-width="0.9"/>
<polygon points="430.1,512.6 425.7,519.8 434.5,519.8" fill="#F4B02A" stroke="#2a2a1f" stroke-width="0.9"/>
</svg></body></html>
